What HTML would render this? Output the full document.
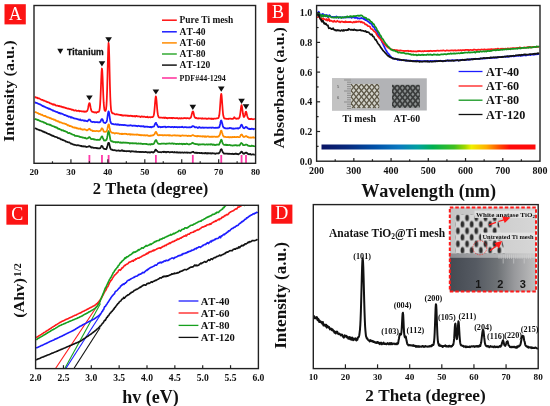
<!DOCTYPE html>
<html><head><meta charset="utf-8"><style>
html,body{margin:0;padding:0;background:#fff;}
svg{display:block;filter:blur(0.3px);} text{font-kerning:none;}
</style></head><body>
<svg width="550" height="406" viewBox="0 0 550 406">
<rect width="550" height="406" fill="#fff"/>
<rect x="4.5" y="4.2" width="21.3" height="20.2" fill="#fc1414"/><text x="15.15" y="19.80" font-family='"Liberation Serif", serif' font-size="18" font-weight="normal" text-anchor="middle" fill="#fff" >A</text>
<polyline points="34.70,128.28 35.05,128.40 35.40,128.48 35.75,128.48 36.10,128.60 36.45,128.74 36.80,128.94 37.15,129.38 37.50,129.46 37.85,129.36 38.20,129.63 38.55,129.89 38.90,129.99 39.25,129.97 39.60,130.10 39.95,130.45 40.30,130.43 40.65,130.43 41.00,130.51 41.35,130.55 41.70,130.70 42.05,130.98 42.40,131.20 42.75,131.41 43.10,131.73 43.45,131.82 43.80,131.63 44.15,131.73 44.50,132.18 44.85,132.41 45.20,132.37 45.55,132.44 45.90,132.66 46.25,132.76 46.60,133.16 46.95,133.30 47.30,133.31 47.65,133.67 48.00,133.75 48.35,133.77 48.70,134.00 49.05,134.17 49.40,134.14 49.75,134.29 50.10,134.76 50.45,134.70 50.80,134.78 51.15,135.14 51.50,135.10 51.85,135.48 52.20,135.80 52.55,135.54 52.90,135.60 53.25,135.97 53.60,136.08 53.95,136.24 54.30,136.41 54.65,136.55 55.00,136.89 55.35,136.87 55.70,136.87 56.05,137.05 56.40,137.19 56.75,137.25 57.10,137.31 57.45,137.58 57.80,137.92 58.15,138.24 58.50,138.11 58.85,138.02 59.20,138.42 59.55,138.42 59.90,138.43 60.25,138.82 60.60,139.18 60.95,139.43 61.30,139.38 61.65,139.40 62.00,139.56 62.35,139.95 62.70,140.08 63.05,140.00 63.40,140.25 63.75,140.42 64.10,140.50 64.45,140.53 64.80,140.70 65.15,140.94 65.50,141.23 65.85,141.52 66.20,141.52 66.55,141.67 66.90,141.79 67.25,141.98 67.60,142.18 67.95,142.27 68.30,142.26 68.65,142.38 69.00,142.48 69.35,142.33 69.70,142.66 70.05,142.95 70.40,143.16 70.75,143.70 71.10,143.73 71.45,143.52 71.80,143.80 72.15,144.09 72.50,144.19 72.85,144.25 73.20,144.51 73.55,144.74 73.90,144.64 74.25,144.67 74.60,144.89 74.95,144.83 75.30,144.92 75.65,145.00 76.00,145.15 76.35,145.34 76.70,145.29 77.05,145.25 77.40,145.28 77.75,145.16 78.10,145.10 78.45,145.45 78.80,145.38 79.15,145.50 79.50,145.61 79.85,145.66 80.20,145.83 80.55,145.89 80.90,146.07 81.25,145.84 81.60,146.04 81.95,146.47 82.30,146.37 82.65,146.21 83.00,146.26 83.35,146.23 83.70,146.44 84.05,146.55 84.40,146.47 84.75,146.49 85.10,146.48 85.45,146.48 85.80,146.77 86.15,146.96 86.50,146.97 86.85,147.02 87.20,146.82 87.55,146.75 87.90,146.67 88.25,146.57 88.60,146.43 88.95,146.25 89.30,146.07 89.65,146.08 90.00,146.64 90.35,146.91 90.70,146.82 91.05,147.15 91.40,147.61 91.75,147.49 92.10,147.37 92.45,147.53 92.80,147.38 93.15,147.60 93.50,147.86 93.85,147.82 94.20,147.78 94.55,147.87 94.90,147.94 95.25,147.91 95.60,147.88 95.95,147.78 96.30,148.13 96.65,148.26 97.00,148.17 97.35,148.27 97.70,148.21 98.05,148.19 98.40,148.35 98.75,148.40 99.10,148.31 99.45,148.33 99.80,148.39 100.15,148.25 100.50,147.78 100.85,147.09 101.20,146.28 101.55,145.97 101.90,146.06 102.25,146.09 102.60,146.53 102.95,147.31 103.30,147.98 103.65,148.51 104.00,148.69 104.35,148.97 104.70,148.99 105.05,148.97 105.40,149.21 105.75,149.19 106.10,149.25 106.45,149.04 106.80,148.10 107.15,146.77 107.50,145.73 107.85,144.38 108.20,143.08 108.55,142.79 108.90,142.93 109.25,143.68 109.60,145.41 109.95,147.14 110.30,148.22 110.65,148.99 111.00,149.37 111.35,149.43 111.70,149.66 112.05,149.82 112.40,149.71 112.75,149.96 113.10,150.22 113.45,150.26 113.80,150.20 114.15,150.12 114.50,150.16 114.85,150.18 115.20,150.36 115.55,150.41 115.90,150.45 116.25,150.61 116.60,150.84 116.95,150.65 117.30,150.53 117.65,150.71 118.00,150.62 118.35,150.47 118.70,150.44 119.05,150.73 119.40,150.80 119.75,150.74 120.10,150.73 120.45,150.88 120.80,150.94 121.15,150.54 121.50,150.47 121.85,150.52 122.20,150.22 122.55,150.42 122.90,151.02 123.25,151.11 123.60,150.81 123.95,150.71 124.30,151.02 124.65,151.17 125.00,151.06 125.35,151.05 125.70,151.07 126.05,151.20 126.40,151.28 126.75,151.22 127.10,151.04 127.45,151.10 127.80,151.16 128.15,151.26 128.50,151.20 128.85,151.07 129.20,151.24 129.55,151.12 129.90,151.35 130.25,151.72 130.60,151.46 130.95,151.40 131.30,151.52 131.65,151.12 132.00,151.12 132.35,151.46 132.70,151.46 133.05,151.35 133.40,151.32 133.75,151.46 134.10,151.66 134.45,151.74 134.80,151.61 135.15,151.78 135.50,151.73 135.85,151.51 136.20,151.37 136.55,151.63 136.90,152.00 137.25,151.94 137.60,151.92 137.95,151.84 138.30,151.80 138.65,151.77 139.00,151.74 139.35,151.80 139.70,152.03 140.05,152.11 140.40,151.93 140.75,151.81 141.10,151.76 141.45,152.05 141.80,152.21 142.15,152.04 142.50,151.95 142.85,151.82 143.20,151.88 143.55,152.14 143.90,152.12 144.25,152.00 144.60,152.04 144.95,152.10 145.30,151.95 145.65,151.93 146.00,152.04 146.35,152.19 146.70,152.22 147.05,152.20 147.40,152.51 147.75,152.42 148.10,152.17 148.45,152.25 148.80,152.34 149.15,152.21 149.50,152.28 149.85,152.67 150.20,152.58 150.55,152.30 150.90,152.19 151.25,152.24 151.60,152.20 151.95,152.01 152.30,152.31 152.65,152.31 153.00,152.25 153.35,152.49 153.70,152.26 154.05,151.92 154.40,151.78 154.75,151.21 155.10,150.35 155.45,149.74 155.80,149.59 156.15,150.02 156.50,150.49 156.85,150.69 157.20,150.96 157.55,151.41 157.90,151.82 158.25,152.00 158.60,152.06 158.95,152.15 159.30,152.09 159.65,152.05 160.00,152.11 160.35,152.10 160.70,152.14 161.05,152.37 161.40,152.38 161.75,152.14 162.10,151.85 162.45,151.89 162.80,151.85 163.15,151.61 163.50,151.96 163.85,152.21 164.20,152.08 164.55,151.77 164.90,151.74 165.25,151.87 165.60,152.01 165.95,152.38 166.30,152.34 166.65,151.97 167.00,151.81 167.35,151.91 167.70,152.05 168.05,151.92 168.40,151.97 168.75,151.98 169.10,152.12 169.45,152.41 169.80,152.42 170.15,152.23 170.50,152.17 170.85,152.23 171.20,152.13 171.55,152.11 171.90,152.01 172.25,151.88 172.60,152.16 172.95,152.32 173.30,152.26 173.65,152.42 174.00,152.19 174.35,151.98 174.70,152.23 175.05,152.39 175.40,152.33 175.75,152.42 176.10,152.50 176.45,152.24 176.80,152.10 177.15,152.37 177.50,152.55 177.85,152.23 178.20,152.35 178.55,152.67 178.90,152.68 179.25,152.57 179.60,152.38 179.95,152.29 180.30,152.66 180.65,152.79 181.00,152.68 181.35,152.63 181.70,152.47 182.05,152.35 182.40,152.29 182.75,152.64 183.10,152.54 183.45,152.56 183.80,152.77 184.15,152.52 184.50,152.42 184.85,152.51 185.20,152.57 185.55,152.57 185.90,152.49 186.25,152.53 186.60,152.51 186.95,152.40 187.30,152.53 187.65,152.81 188.00,152.64 188.35,152.54 188.70,152.66 189.05,152.54 189.40,152.74 189.75,152.80 190.10,152.87 190.45,152.82 190.80,152.63 191.15,152.60 191.50,152.31 191.85,152.22 192.20,152.10 192.55,151.97 192.90,151.96 193.25,151.85 193.60,152.04 193.95,152.40 194.30,152.74 194.65,152.76 195.00,152.73 195.35,152.69 195.70,152.81 196.05,152.91 196.40,152.62 196.75,152.76 197.10,153.14 197.45,152.97 197.80,152.71 198.15,152.82 198.50,152.82 198.85,152.97 199.20,153.03 199.55,152.90 199.90,153.09 200.25,153.09 200.60,153.09 200.95,153.07 201.30,152.88 201.65,152.78 202.00,153.18 202.35,153.38 202.70,153.19 203.05,153.23 203.40,153.23 203.75,153.25 204.10,153.48 204.45,153.36 204.80,152.94 205.15,152.95 205.50,152.99 205.85,153.22 206.20,153.50 206.55,153.30 206.90,153.03 207.25,153.12 207.60,153.48 207.95,153.18 208.30,153.08 208.65,153.31 209.00,153.39 209.35,153.40 209.70,153.24 210.05,153.20 210.40,153.12 210.75,153.50 211.10,153.73 211.45,153.52 211.80,153.32 212.15,153.14 212.50,153.20 212.85,153.44 213.20,153.49 213.55,153.49 213.90,153.36 214.25,153.37 214.60,153.51 214.95,153.68 215.30,153.92 215.65,153.75 216.00,153.42 216.35,153.43 216.70,153.45 217.05,153.37 217.40,153.43 217.75,153.38 218.10,153.44 218.45,153.51 218.80,153.35 219.15,153.11 219.50,152.57 219.85,151.81 220.20,151.00 220.55,150.11 220.90,149.43 221.25,149.22 221.60,149.31 221.95,150.07 222.30,151.02 222.65,151.83 223.00,152.64 223.35,152.89 223.70,153.19 224.05,153.59 224.40,153.63 224.75,153.59 225.10,153.59 225.45,153.54 225.80,153.57 226.15,153.64 226.50,153.69 226.85,153.63 227.20,153.66 227.55,153.83 227.90,153.80 228.25,153.73 228.60,153.83 228.95,153.69 229.30,153.68 229.65,153.93 230.00,153.92 230.35,153.94 230.70,153.83 231.05,153.76 231.40,153.93 231.75,154.02 232.10,153.98 232.45,153.74 232.80,153.79 233.15,154.13 233.50,154.20 233.85,154.09 234.20,153.77 234.55,153.87 234.90,154.05 235.25,153.62 235.60,153.69 235.95,153.83 236.30,153.62 236.65,153.73 237.00,154.06 237.35,154.09 237.70,153.97 238.05,154.23 238.40,154.39 238.75,154.13 239.10,153.85 239.45,153.58 239.80,153.30 240.15,153.15 240.50,152.80 240.85,152.24 241.20,151.90 241.55,151.62 241.90,151.64 242.25,152.24 242.60,152.84 242.95,153.37 243.30,153.71 243.65,153.74 244.00,153.79 244.35,153.61 244.70,153.15 245.05,153.07 245.40,152.98 245.75,152.75 246.10,152.51 246.45,152.59 246.80,153.01 247.15,153.28 247.50,153.36 247.85,153.63 248.20,154.16 248.55,154.32 248.90,154.17 249.25,154.15 249.60,154.34 249.95,154.01 250.30,153.91 250.65,154.33 251.00,154.44 251.35,154.60 251.70,154.66 252.05,154.50 252.40,154.40 252.75,154.47 253.10,154.38 253.45,154.28 253.80,154.47 254.15,154.73 254.50,154.60 254.85,154.35" fill="none" stroke="#151515" stroke-width="1.75" stroke-linejoin="round" />
<polyline points="34.70,118.82 35.05,119.05 35.40,119.14 35.75,119.30 36.10,119.32 36.45,119.26 36.80,119.50 37.15,119.76 37.50,120.06 37.85,119.92 38.20,119.82 38.55,120.19 38.90,120.37 39.25,120.28 39.60,120.63 39.95,121.03 40.30,121.11 40.65,121.13 41.00,121.34 41.35,121.51 41.70,121.66 42.05,121.72 42.40,121.62 42.75,121.90 43.10,122.07 43.45,122.27 43.80,122.53 44.15,122.48 44.50,122.60 44.85,122.81 45.20,123.06 45.55,123.17 45.90,123.14 46.25,123.52 46.60,124.00 46.95,124.24 47.30,124.11 47.65,124.03 48.00,124.36 48.35,124.46 48.70,124.29 49.05,124.46 49.40,124.78 49.75,124.81 50.10,124.69 50.45,124.76 50.80,125.19 51.15,125.42 51.50,125.46 51.85,125.73 52.20,125.96 52.55,126.04 52.90,126.17 53.25,126.24 53.60,126.28 53.95,126.41 54.30,126.74 54.65,127.02 55.00,126.93 55.35,127.04 55.70,127.26 56.05,127.54 56.40,127.52 56.75,127.45 57.10,127.75 57.45,128.35 57.80,128.67 58.15,128.49 58.50,128.61 58.85,129.03 59.20,129.06 59.55,128.91 59.90,129.24 60.25,129.50 60.60,129.58 60.95,129.61 61.30,129.91 61.65,130.34 62.00,130.32 62.35,130.34 62.70,130.17 63.05,130.31 63.40,130.69 63.75,130.82 64.10,131.08 64.45,131.13 64.80,130.99 65.15,131.23 65.50,131.49 65.85,131.56 66.20,131.73 66.55,131.87 66.90,131.81 67.25,132.16 67.60,132.63 67.95,132.76 68.30,133.13 68.65,133.15 69.00,132.82 69.35,132.86 69.70,133.08 70.05,133.28 70.40,133.59 70.75,133.56 71.10,133.74 71.45,133.95 71.80,134.10 72.15,134.42 72.50,134.50 72.85,134.65 73.20,134.77 73.55,134.85 73.90,134.84 74.25,135.03 74.60,135.57 74.95,135.92 75.30,135.95 75.65,135.88 76.00,135.72 76.35,135.90 76.70,136.07 77.05,135.97 77.40,136.04 77.75,136.15 78.10,136.22 78.45,136.29 78.80,136.30 79.15,136.35 79.50,136.87 79.85,136.99 80.20,136.77 80.55,136.94 80.90,137.15 81.25,137.03 81.60,137.01 81.95,137.35 82.30,137.50 82.65,137.49 83.00,137.74 83.35,137.73 83.70,137.64 84.05,137.75 84.40,138.01 84.75,137.92 85.10,137.74 85.45,138.01 85.80,138.26 86.15,138.49 86.50,138.65 86.85,138.42 87.20,138.34 87.55,138.43 87.90,138.10 88.25,137.97 88.60,137.67 88.95,137.11 89.30,137.07 89.65,137.23 90.00,137.45 90.35,138.03 90.70,138.50 91.05,138.94 91.40,139.09 91.75,138.84 92.10,138.86 92.45,139.00 92.80,139.00 93.15,139.21 93.50,139.33 93.85,139.08 94.20,139.29 94.55,139.56 94.90,139.56 95.25,139.63 95.60,139.71 95.95,139.74 96.30,139.86 96.65,139.94 97.00,139.88 97.35,139.91 97.70,139.71 98.05,139.68 98.40,139.85 98.75,139.92 99.10,139.78 99.45,139.90 99.80,139.94 100.15,139.27 100.50,138.53 100.85,137.92 101.20,137.32 101.55,136.59 101.90,136.32 102.25,136.54 102.60,137.24 102.95,138.09 103.30,138.86 103.65,139.74 104.00,140.51 104.35,140.52 104.70,140.28 105.05,140.36 105.40,140.53 105.75,140.44 106.10,140.10 106.45,139.81 106.80,138.93 107.15,137.45 107.50,135.66 107.85,133.45 108.20,131.61 108.55,131.05 108.90,131.73 109.25,133.33 109.60,135.21 109.95,137.23 110.30,139.18 110.65,140.38 111.00,140.91 111.35,141.07 111.70,141.34 112.05,141.50 112.40,141.36 112.75,141.40 113.10,141.80 113.45,141.99 113.80,142.01 114.15,141.98 114.50,142.00 114.85,142.03 115.20,141.93 115.55,142.36 115.90,142.50 116.25,142.15 116.60,142.07 116.95,142.20 117.30,142.39 117.65,142.31 118.00,141.97 118.35,142.02 118.70,142.26 119.05,142.34 119.40,142.52 119.75,142.57 120.10,142.53 120.45,142.38 120.80,142.41 121.15,142.83 121.50,142.84 121.85,142.64 122.20,142.58 122.55,142.80 122.90,142.68 123.25,142.47 123.60,142.67 123.95,142.80 124.30,142.71 124.65,142.67 125.00,142.72 125.35,142.72 125.70,142.76 126.05,142.62 126.40,142.66 126.75,142.93 127.10,142.84 127.45,142.72 127.80,142.95 128.15,142.86 128.50,142.83 128.85,142.85 129.20,142.99 129.55,143.43 129.90,143.57 130.25,143.27 130.60,143.14 130.95,143.20 131.30,143.14 131.65,143.34 132.00,143.19 132.35,143.15 132.70,143.33 133.05,143.40 133.40,143.45 133.75,143.21 134.10,143.24 134.45,143.44 134.80,143.43 135.15,143.42 135.50,143.38 135.85,143.07 136.20,143.27 136.55,143.65 136.90,143.57 137.25,143.52 137.60,143.65 137.95,143.61 138.30,143.41 138.65,143.47 139.00,143.72 139.35,143.60 139.70,143.62 140.05,143.73 140.40,143.47 140.75,143.73 141.10,143.88 141.45,143.58 141.80,143.57 142.15,143.87 142.50,144.08 142.85,143.94 143.20,143.86 143.55,144.02 143.90,143.91 144.25,143.89 144.60,143.99 144.95,143.90 145.30,143.86 145.65,143.96 146.00,144.04 146.35,143.99 146.70,143.95 147.05,144.18 147.40,144.28 147.75,144.27 148.10,144.42 148.45,144.40 148.80,144.56 149.15,144.40 149.50,144.23 149.85,144.30 150.20,144.43 150.55,144.67 150.90,144.18 151.25,143.82 151.60,144.13 151.95,144.32 152.30,144.30 152.65,144.15 153.00,144.06 153.35,144.04 153.70,143.78 154.05,143.47 154.40,142.63 154.75,141.82 155.10,141.11 155.45,140.41 155.80,140.13 156.15,140.02 156.50,140.67 156.85,141.47 157.20,142.11 157.55,142.65 157.90,143.18 158.25,143.66 158.60,143.90 158.95,143.87 159.30,143.89 159.65,143.91 160.00,143.76 160.35,143.82 160.70,143.95 161.05,143.83 161.40,143.66 161.75,143.67 162.10,143.69 162.45,143.59 162.80,143.69 163.15,143.74 163.50,143.65 163.85,143.59 164.20,143.56 164.55,143.70 164.90,143.60 165.25,143.80 165.60,143.90 165.95,143.87 166.30,143.96 166.65,143.66 167.00,143.50 167.35,143.65 167.70,143.71 168.05,143.67 168.40,143.63 168.75,143.41 169.10,143.42 169.45,143.38 169.80,143.46 170.15,143.66 170.50,143.53 170.85,143.60 171.20,143.73 171.55,143.59 171.90,143.34 172.25,143.40 172.60,143.37 172.95,143.39 173.30,143.85 173.65,143.84 174.00,143.73 174.35,143.70 174.70,143.67 175.05,143.80 175.40,143.77 175.75,143.89 176.10,144.12 176.45,144.08 176.80,143.88 177.15,143.75 177.50,143.81 177.85,143.91 178.20,143.95 178.55,143.98 178.90,144.10 179.25,143.87 179.60,143.62 179.95,143.98 180.30,143.99 180.65,143.78 181.00,143.80 181.35,143.74 181.70,143.79 182.05,144.28 182.40,144.41 182.75,143.97 183.10,143.73 183.45,143.82 183.80,144.07 184.15,144.02 184.50,143.82 184.85,144.04 185.20,144.24 185.55,144.09 185.90,143.85 186.25,143.71 186.60,143.77 186.95,143.69 187.30,143.87 187.65,144.08 188.00,144.05 188.35,144.37 188.70,144.46 189.05,144.09 189.40,144.05 189.75,144.34 190.10,144.13 190.45,143.83 190.80,143.84 191.15,143.64 191.50,143.65 191.85,143.31 192.20,142.75 192.55,142.85 192.90,142.93 193.25,143.11 193.60,143.39 193.95,143.61 194.30,143.95 194.65,143.88 195.00,143.84 195.35,144.08 195.70,144.13 196.05,144.27 196.40,144.15 196.75,144.06 197.10,144.28 197.45,144.41 197.80,144.24 198.15,144.46 198.50,144.84 198.85,144.41 199.20,144.17 199.55,144.67 199.90,144.74 200.25,144.46 200.60,144.35 200.95,144.26 201.30,144.27 201.65,144.27 202.00,144.40 202.35,144.43 202.70,144.29 203.05,144.19 203.40,144.25 203.75,144.30 204.10,144.29 204.45,144.54 204.80,144.61 205.15,144.55 205.50,144.56 205.85,144.51 206.20,144.46 206.55,144.42 206.90,144.54 207.25,144.45 207.60,144.53 207.95,144.67 208.30,144.42 208.65,144.36 209.00,144.38 209.35,144.47 209.70,144.47 210.05,144.60 210.40,144.60 210.75,144.17 211.10,144.19 211.45,144.23 211.80,144.32 212.15,144.71 212.50,144.81 212.85,144.52 213.20,144.35 213.55,144.75 213.90,144.90 214.25,144.69 214.60,144.79 214.95,145.10 215.30,145.14 215.65,144.86 216.00,144.75 216.35,144.81 216.70,144.70 217.05,144.49 217.40,144.57 217.75,144.58 218.10,144.54 218.45,144.62 218.80,144.80 219.15,144.43 219.50,143.66 219.85,143.01 220.20,142.11 220.55,141.23 220.90,140.30 221.25,139.76 221.60,139.94 221.95,140.76 222.30,142.09 222.65,143.21 223.00,143.78 223.35,144.21 223.70,144.62 224.05,144.88 224.40,144.88 224.75,144.83 225.10,144.70 225.45,144.62 225.80,145.07 226.15,144.96 226.50,144.73 226.85,145.05 227.20,145.06 227.55,144.95 227.90,145.01 228.25,145.12 228.60,145.13 228.95,144.91 229.30,144.92 229.65,145.06 230.00,145.02 230.35,145.17 230.70,145.33 231.05,145.43 231.40,145.30 231.75,145.32 232.10,145.54 232.45,145.58 232.80,145.62 233.15,145.47 233.50,145.28 233.85,145.42 234.20,145.28 234.55,145.21 234.90,145.33 235.25,145.27 235.60,145.13 235.95,145.07 236.30,145.30 236.65,145.53 237.00,145.66 237.35,145.55 237.70,145.41 238.05,145.31 238.40,145.38 238.75,145.44 239.10,145.41 239.45,145.54 239.80,145.24 240.15,144.48 240.50,143.90 240.85,143.39 241.20,142.94 241.55,143.12 241.90,143.45 242.25,143.51 242.60,144.09 242.95,144.94 243.30,145.18 243.65,145.14 244.00,145.20 244.35,145.23 244.70,145.15 245.05,144.99 245.40,144.77 245.75,144.58 246.10,144.58 246.45,144.68 246.80,144.61 247.15,144.84 247.50,145.36 247.85,145.55 248.20,145.76 248.55,145.84 248.90,145.66 249.25,145.91 249.60,146.13 249.95,146.00 250.30,146.05 250.65,146.17 251.00,146.11 251.35,145.68 251.70,145.57 252.05,145.83 252.40,145.81 252.75,145.91 253.10,146.19 253.45,146.12 253.80,145.84 254.15,146.17 254.50,146.26 254.85,145.87" fill="none" stroke="#1e9a1e" stroke-width="1.75" stroke-linejoin="round" />
<polyline points="34.70,112.03 35.05,112.14 35.40,112.13 35.75,112.32 36.10,112.49 36.45,112.41 36.80,112.64 37.15,112.99 37.50,113.03 37.85,113.12 38.20,113.33 38.55,113.78 38.90,113.85 39.25,113.81 39.60,114.03 39.95,113.99 40.30,114.22 40.65,114.49 41.00,114.70 41.35,114.77 41.70,114.68 42.05,114.72 42.40,115.00 42.75,115.28 43.10,115.53 43.45,115.65 43.80,115.75 44.15,116.03 44.50,116.06 44.85,115.83 45.20,115.80 45.55,115.95 45.90,116.44 46.25,116.65 46.60,116.75 46.95,117.07 47.30,117.27 47.65,117.47 48.00,117.38 48.35,117.37 48.70,117.54 49.05,117.73 49.40,117.79 49.75,117.91 50.10,118.32 50.45,118.25 50.80,118.22 51.15,118.46 51.50,118.60 51.85,118.96 52.20,119.07 52.55,119.20 52.90,119.15 53.25,119.33 53.60,119.60 53.95,119.68 54.30,119.92 54.65,119.65 55.00,119.68 55.35,120.16 55.70,120.59 56.05,120.74 56.40,120.71 56.75,120.64 57.10,120.92 57.45,121.47 57.80,121.43 58.15,121.31 58.50,121.25 58.85,121.52 59.20,122.20 59.55,122.32 59.90,122.28 60.25,122.39 60.60,122.25 60.95,122.49 61.30,122.59 61.65,122.54 62.00,122.87 62.35,123.14 62.70,123.30 63.05,123.37 63.40,123.36 63.75,123.29 64.10,123.53 64.45,123.74 64.80,123.71 65.15,123.78 65.50,124.02 65.85,124.08 66.20,124.12 66.55,124.28 66.90,124.61 67.25,125.00 67.60,125.37 67.95,125.27 68.30,125.07 68.65,125.51 69.00,125.71 69.35,125.69 69.70,126.07 70.05,126.21 70.40,125.99 70.75,126.00 71.10,126.33 71.45,126.67 71.80,126.59 72.15,126.57 72.50,126.95 72.85,127.28 73.20,127.27 73.55,127.40 73.90,127.67 74.25,127.47 74.60,127.45 74.95,127.80 75.30,127.83 75.65,127.58 76.00,127.69 76.35,128.12 76.70,128.42 77.05,128.13 77.40,128.33 77.75,128.53 78.10,128.39 78.45,128.76 78.80,128.83 79.15,128.76 79.50,128.56 79.85,128.69 80.20,128.82 80.55,128.49 80.90,129.01 81.25,129.48 81.60,129.42 81.95,129.29 82.30,129.31 82.65,129.70 83.00,129.78 83.35,129.64 83.70,129.37 84.05,129.41 84.40,129.36 84.75,129.23 85.10,129.59 85.45,129.74 85.80,129.78 86.15,129.95 86.50,130.26 86.85,130.46 87.20,130.20 87.55,130.12 87.90,129.86 88.25,129.43 88.60,129.36 88.95,129.01 89.30,128.75 89.65,128.82 90.00,129.12 90.35,129.83 90.70,130.06 91.05,130.17 91.40,130.36 91.75,130.32 92.10,130.36 92.45,130.74 92.80,131.24 93.15,131.16 93.50,130.82 93.85,130.88 94.20,130.97 94.55,131.02 94.90,131.13 95.25,131.11 95.60,131.18 95.95,131.11 96.30,131.02 96.65,130.91 97.00,130.94 97.35,131.00 97.70,131.07 98.05,131.16 98.40,131.21 98.75,131.40 99.10,131.21 99.45,131.01 99.80,130.93 100.15,130.86 100.50,130.73 100.85,130.12 101.20,129.15 101.55,128.64 101.90,128.24 102.25,128.43 102.60,129.10 102.95,129.32 103.30,130.47 103.65,131.59 104.00,131.52 104.35,131.57 104.70,131.79 105.05,131.85 105.40,131.70 105.75,131.57 106.10,131.67 106.45,131.44 106.80,130.88 107.15,129.78 107.50,128.44 107.85,126.69 108.20,125.06 108.55,124.29 108.90,124.49 109.25,126.15 109.60,127.89 109.95,129.44 110.30,130.85 110.65,131.52 111.00,131.99 111.35,132.34 111.70,132.47 112.05,132.72 112.40,132.94 112.75,132.83 113.10,132.69 113.45,132.85 113.80,133.00 114.15,133.14 114.50,133.53 114.85,133.55 115.20,133.25 115.55,133.16 115.90,133.08 116.25,133.02 116.60,133.03 116.95,133.12 117.30,133.22 117.65,133.39 118.00,133.42 118.35,133.33 118.70,133.26 119.05,133.52 119.40,133.76 119.75,133.80 120.10,133.86 120.45,133.85 120.80,133.75 121.15,133.68 121.50,134.07 121.85,133.86 122.20,133.69 122.55,134.08 122.90,134.01 123.25,133.92 123.60,134.06 123.95,133.90 124.30,133.82 124.65,133.82 125.00,133.70 125.35,133.76 125.70,133.85 126.05,133.98 126.40,134.08 126.75,133.90 127.10,134.13 127.45,134.48 127.80,134.34 128.15,134.18 128.50,134.10 128.85,134.24 129.20,134.33 129.55,134.07 129.90,134.14 130.25,134.75 130.60,134.44 130.95,134.22 131.30,134.53 131.65,134.41 132.00,134.57 132.35,134.46 132.70,134.33 133.05,134.69 133.40,134.67 133.75,134.45 134.10,134.52 134.45,134.54 134.80,134.75 135.15,134.71 135.50,134.65 135.85,134.63 136.20,134.63 136.55,134.80 136.90,134.41 137.25,134.45 137.60,134.67 137.95,134.64 138.30,135.00 138.65,134.94 139.00,134.63 139.35,134.98 139.70,135.16 140.05,135.19 140.40,135.25 140.75,134.96 141.10,134.93 141.45,135.23 141.80,135.38 142.15,135.25 142.50,135.16 142.85,135.17 143.20,135.12 143.55,135.40 143.90,135.50 144.25,135.13 144.60,135.10 144.95,135.36 145.30,135.53 145.65,135.44 146.00,135.30 146.35,135.34 146.70,135.24 147.05,135.09 147.40,135.43 147.75,135.56 148.10,135.53 148.45,135.77 148.80,135.83 149.15,135.70 149.50,135.91 149.85,136.00 150.20,135.69 150.55,135.69 150.90,135.77 151.25,135.55 151.60,135.49 151.95,135.56 152.30,135.27 152.65,135.24 153.00,135.41 153.35,135.28 153.70,134.94 154.05,134.64 154.40,134.36 154.75,133.75 155.10,132.86 155.45,132.28 155.80,131.94 156.15,131.94 156.50,132.77 156.85,133.41 157.20,133.88 157.55,134.66 157.90,135.04 158.25,135.07 158.60,135.24 158.95,135.46 159.30,135.16 159.65,134.92 160.00,135.07 160.35,135.04 160.70,135.05 161.05,135.08 161.40,135.22 161.75,135.20 162.10,135.17 162.45,135.33 162.80,135.21 163.15,135.16 163.50,135.46 163.85,135.47 164.20,135.17 164.55,135.11 164.90,135.07 165.25,135.12 165.60,135.35 165.95,135.22 166.30,135.10 166.65,135.36 167.00,135.33 167.35,135.22 167.70,135.17 168.05,135.05 168.40,135.13 168.75,135.52 169.10,135.54 169.45,135.22 169.80,135.21 170.15,135.27 170.50,135.43 170.85,135.48 171.20,135.67 171.55,135.69 171.90,135.62 172.25,135.64 172.60,135.55 172.95,135.34 173.30,135.26 173.65,135.45 174.00,135.44 174.35,135.19 174.70,135.34 175.05,135.58 175.40,135.42 175.75,135.45 176.10,135.49 176.45,135.58 176.80,135.46 177.15,135.31 177.50,135.51 177.85,135.66 178.20,135.59 178.55,135.51 178.90,135.46 179.25,135.54 179.60,135.80 179.95,135.69 180.30,135.74 180.65,135.99 181.00,135.75 181.35,135.76 181.70,135.64 182.05,135.34 182.40,135.37 182.75,135.55 183.10,135.68 183.45,135.68 183.80,135.74 184.15,135.55 184.50,135.61 184.85,135.71 185.20,135.57 185.55,135.71 185.90,135.66 186.25,135.55 186.60,135.58 186.95,135.76 187.30,135.97 187.65,136.05 188.00,135.86 188.35,135.70 188.70,135.72 189.05,135.88 189.40,135.75 189.75,135.85 190.10,136.04 190.45,135.76 190.80,135.80 191.15,135.90 191.50,135.72 191.85,135.49 192.20,135.23 192.55,135.09 192.90,135.20 193.25,135.16 193.60,135.41 193.95,135.71 194.30,135.77 194.65,135.81 195.00,135.88 195.35,136.15 195.70,136.06 196.05,136.07 196.40,136.30 196.75,136.27 197.10,135.96 197.45,135.93 197.80,136.30 198.15,136.23 198.50,136.17 198.85,135.98 199.20,136.06 199.55,136.29 199.90,136.33 200.25,136.19 200.60,136.18 200.95,136.39 201.30,136.42 201.65,136.34 202.00,136.18 202.35,136.58 202.70,136.57 203.05,136.21 203.40,136.29 203.75,136.26 204.10,136.46 204.45,136.81 204.80,136.59 205.15,136.17 205.50,136.41 205.85,136.78 206.20,136.74 206.55,136.76 206.90,136.56 207.25,136.41 207.60,136.35 207.95,136.21 208.30,136.51 208.65,136.62 209.00,136.79 209.35,136.89 209.70,136.54 210.05,136.64 210.40,136.96 210.75,136.93 211.10,136.56 211.45,136.55 211.80,136.89 212.15,136.79 212.50,136.53 212.85,136.72 213.20,136.84 213.55,136.58 213.90,136.52 214.25,136.57 214.60,136.65 214.95,136.77 215.30,136.87 215.65,136.95 216.00,136.61 216.35,136.57 216.70,136.88 217.05,136.88 217.40,136.89 217.75,136.75 218.10,136.47 218.45,136.58 218.80,136.42 219.15,135.72 219.50,135.42 219.85,134.71 220.20,133.38 220.55,132.04 220.90,130.93 221.25,130.58 221.60,131.08 221.95,132.27 222.30,133.29 222.65,134.53 223.00,135.57 223.35,135.93 223.70,136.49 224.05,136.78 224.40,136.58 224.75,136.87 225.10,136.98 225.45,136.81 225.80,136.96 226.15,137.12 226.50,137.06 226.85,137.02 227.20,137.00 227.55,137.02 227.90,137.03 228.25,136.86 228.60,137.20 228.95,137.29 229.30,137.08 229.65,137.33 230.00,137.37 230.35,137.00 230.70,137.05 231.05,137.01 231.40,137.07 231.75,137.38 232.10,137.17 232.45,136.95 232.80,137.05 233.15,137.14 233.50,137.00 233.85,137.08 234.20,136.95 234.55,136.83 234.90,137.04 235.25,137.07 235.60,137.16 235.95,137.05 236.30,137.08 236.65,137.22 237.00,137.07 237.35,136.92 237.70,136.85 238.05,137.06 238.40,137.08 238.75,137.01 239.10,137.19 239.45,137.17 239.80,136.96 240.15,136.36 240.50,135.45 240.85,134.99 241.20,134.66 241.55,134.47 241.90,134.61 242.25,135.11 242.60,135.84 242.95,136.37 243.30,136.77 243.65,136.98 244.00,137.02 244.35,136.92 244.70,136.82 245.05,136.45 245.40,136.25 245.75,136.11 246.10,135.99 246.45,136.15 246.80,136.28 247.15,136.88 247.50,137.16 247.85,136.95 248.20,137.03 248.55,137.23 248.90,137.63 249.25,137.72 249.60,137.58 249.95,137.45 250.30,137.38 250.65,137.60 251.00,137.80 251.35,137.64 251.70,137.50 252.05,137.63 252.40,137.44 252.75,137.40 253.10,137.51 253.45,137.23 253.80,137.34 254.15,137.71 254.50,137.59 254.85,137.36" fill="none" stroke="#ff8c00" stroke-width="1.75" stroke-linejoin="round" />
<polyline points="34.70,102.49 35.05,102.44 35.40,102.51 35.75,102.82 36.10,102.79 36.45,102.87 36.80,103.07 37.15,103.13 37.50,103.31 37.85,103.48 38.20,103.79 38.55,103.97 38.90,103.97 39.25,104.09 39.60,104.31 39.95,104.40 40.30,104.45 40.65,104.72 41.00,104.88 41.35,105.03 41.70,105.19 42.05,105.62 42.40,106.02 42.75,105.99 43.10,105.98 43.45,106.36 43.80,106.57 44.15,106.45 44.50,106.61 44.85,106.82 45.20,107.12 45.55,107.24 45.90,107.49 46.25,107.55 46.60,107.53 46.95,107.68 47.30,107.98 47.65,108.23 48.00,108.16 48.35,108.48 48.70,108.81 49.05,108.71 49.40,108.68 49.75,108.80 50.10,109.03 50.45,109.35 50.80,109.45 51.15,109.54 51.50,109.70 51.85,109.86 52.20,110.13 52.55,110.58 52.90,110.43 53.25,110.39 53.60,110.74 53.95,110.97 54.30,111.04 54.65,111.10 55.00,111.22 55.35,111.45 55.70,111.73 56.05,111.75 56.40,111.91 56.75,112.03 57.10,111.92 57.45,112.15 57.80,112.51 58.15,112.55 58.50,112.77 58.85,113.07 59.20,112.94 59.55,112.82 59.90,113.28 60.25,113.68 60.60,113.52 60.95,113.33 61.30,113.47 61.65,113.68 62.00,113.70 62.35,113.89 62.70,114.06 63.05,114.03 63.40,114.44 63.75,114.63 64.10,114.64 64.45,114.93 64.80,115.17 65.15,115.18 65.50,115.21 65.85,115.28 66.20,115.62 66.55,115.94 66.90,115.71 67.25,115.76 67.60,116.12 67.95,116.31 68.30,116.57 68.65,116.82 69.00,116.65 69.35,116.60 69.70,116.63 70.05,116.80 70.40,117.11 70.75,117.55 71.10,117.67 71.45,117.20 71.80,117.23 72.15,117.64 72.50,117.70 72.85,117.70 73.20,117.94 73.55,118.22 73.90,118.35 74.25,118.30 74.60,118.51 74.95,118.63 75.30,118.55 75.65,118.52 76.00,118.57 76.35,118.90 76.70,118.87 77.05,118.86 77.40,119.23 77.75,119.27 78.10,119.29 78.45,119.27 78.80,119.48 79.15,119.84 79.50,119.78 79.85,119.50 80.20,119.42 80.55,119.84 80.90,120.26 81.25,120.25 81.60,120.27 81.95,120.23 82.30,120.13 82.65,120.28 83.00,120.44 83.35,120.32 83.70,120.46 84.05,120.89 84.40,120.71 84.75,120.45 85.10,120.71 85.45,120.87 85.80,120.60 86.15,120.85 86.50,121.22 86.85,121.08 87.20,121.29 87.55,121.26 87.90,120.67 88.25,120.34 88.60,119.92 88.95,119.48 89.30,119.50 89.65,119.62 90.00,119.83 90.35,120.56 90.70,121.17 91.05,121.43 91.40,121.64 91.75,121.77 92.10,121.99 92.45,121.99 92.80,122.10 93.15,122.02 93.50,121.80 93.85,121.79 94.20,121.82 94.55,122.10 94.90,122.36 95.25,122.25 95.60,122.10 95.95,122.18 96.30,122.12 96.65,122.05 97.00,122.18 97.35,122.15 97.70,122.18 98.05,122.43 98.40,122.35 98.75,122.24 99.10,122.14 99.45,122.44 99.80,122.29 100.15,121.94 100.50,121.65 100.85,120.69 101.20,119.66 101.55,119.16 101.90,119.22 102.25,119.17 102.60,119.56 102.95,120.66 103.30,121.57 103.65,122.34 104.00,122.66 104.35,122.73 104.70,122.77 105.05,123.02 105.40,123.08 105.75,122.45 106.10,122.28 106.45,121.99 106.80,121.20 107.15,119.46 107.50,116.88 107.85,114.40 108.20,112.43 108.55,111.37 108.90,111.89 109.25,113.91 109.60,116.37 109.95,118.87 110.30,120.93 110.65,122.13 111.00,123.06 111.35,123.41 111.70,123.62 112.05,124.04 112.40,123.98 112.75,123.84 113.10,123.88 113.45,124.10 113.80,124.28 114.15,124.31 114.50,124.39 114.85,124.33 115.20,124.28 115.55,124.19 115.90,124.29 116.25,124.54 116.60,124.42 116.95,124.58 117.30,124.75 117.65,124.28 118.00,124.23 118.35,124.43 118.70,124.58 119.05,125.10 119.40,124.93 119.75,124.66 120.10,124.72 120.45,124.78 120.80,124.92 121.15,125.07 121.50,124.89 121.85,124.96 122.20,124.99 122.55,124.85 122.90,125.14 123.25,125.22 123.60,124.99 123.95,124.84 124.30,124.93 124.65,125.03 125.00,125.26 125.35,125.13 125.70,125.07 126.05,125.34 126.40,125.38 126.75,125.38 127.10,125.53 127.45,125.56 127.80,125.50 128.15,125.54 128.50,125.68 128.85,125.40 129.20,125.36 129.55,125.60 129.90,125.43 130.25,125.36 130.60,125.19 130.95,125.29 131.30,125.47 131.65,125.60 132.00,125.53 132.35,125.67 132.70,125.92 133.05,125.73 133.40,125.64 133.75,125.60 134.10,125.57 134.45,125.63 134.80,125.79 135.15,125.87 135.50,125.71 135.85,125.73 136.20,125.82 136.55,125.90 136.90,126.27 137.25,126.35 137.60,126.11 137.95,125.85 138.30,125.74 138.65,125.76 139.00,126.05 139.35,126.19 139.70,126.14 140.05,126.18 140.40,126.21 140.75,126.49 141.10,126.42 141.45,126.23 141.80,126.24 142.15,126.41 142.50,126.41 142.85,126.19 143.20,126.17 143.55,126.16 143.90,126.42 144.25,126.94 144.60,126.78 144.95,126.60 145.30,126.79 145.65,126.55 146.00,126.51 146.35,126.65 146.70,126.62 147.05,126.92 147.40,126.79 147.75,126.62 148.10,126.92 148.45,126.83 148.80,126.83 149.15,127.04 149.50,127.06 149.85,127.01 150.20,127.09 150.55,126.78 150.90,126.88 151.25,127.41 151.60,127.33 151.95,127.16 152.30,126.85 152.65,126.68 153.00,126.71 153.35,126.56 153.70,126.60 154.05,126.23 154.40,125.55 154.75,124.65 155.10,123.80 155.45,123.33 155.80,122.89 156.15,122.93 156.50,123.84 156.85,124.59 157.20,125.04 157.55,125.73 157.90,126.44 158.25,127.05 158.60,127.06 158.95,126.77 159.30,126.70 159.65,126.94 160.00,126.89 160.35,126.94 160.70,127.24 161.05,127.07 161.40,126.97 161.75,127.06 162.10,127.17 162.45,126.95 162.80,126.90 163.15,126.99 163.50,126.74 163.85,126.80 164.20,126.87 164.55,126.74 164.90,126.56 165.25,126.57 165.60,126.96 165.95,127.33 166.30,127.24 166.65,127.15 167.00,127.01 167.35,126.86 167.70,126.97 168.05,126.85 168.40,126.70 168.75,126.85 169.10,126.94 169.45,126.80 169.80,126.90 170.15,127.00 170.50,127.09 170.85,127.13 171.20,126.97 171.55,127.00 171.90,127.02 172.25,126.93 172.60,126.90 172.95,127.09 173.30,127.23 173.65,127.30 174.00,127.01 174.35,126.81 174.70,126.98 175.05,127.05 175.40,127.06 175.75,126.98 176.10,127.14 176.45,127.23 176.80,127.00 177.15,127.15 177.50,127.42 177.85,127.19 178.20,127.18 178.55,127.16 178.90,127.21 179.25,127.28 179.60,127.04 179.95,127.03 180.30,127.04 180.65,127.12 181.00,127.24 181.35,127.23 181.70,127.15 182.05,126.69 182.40,126.78 182.75,127.01 183.10,127.03 183.45,127.42 183.80,127.43 184.15,127.24 184.50,127.19 184.85,127.23 185.20,127.19 185.55,127.14 185.90,127.10 186.25,127.33 186.60,127.44 186.95,127.42 187.30,127.40 187.65,127.29 188.00,127.31 188.35,127.36 188.70,127.49 189.05,127.46 189.40,127.27 189.75,127.14 190.10,127.42 190.45,127.44 190.80,127.11 191.15,127.17 191.50,127.11 191.85,126.69 192.20,126.20 192.55,126.22 192.90,126.28 193.25,126.20 193.60,126.41 193.95,126.49 194.30,126.63 194.65,127.06 195.00,127.41 195.35,127.41 195.70,127.25 196.05,127.12 196.40,127.24 196.75,127.25 197.10,127.42 197.45,127.75 197.80,128.00 198.15,127.98 198.50,127.56 198.85,127.35 199.20,127.00 199.55,127.04 199.90,127.46 200.25,127.66 200.60,127.76 200.95,127.72 201.30,127.68 201.65,127.70 202.00,127.86 202.35,127.65 202.70,127.42 203.05,127.38 203.40,127.65 203.75,127.99 204.10,127.89 204.45,127.59 204.80,127.52 205.15,127.65 205.50,127.64 205.85,127.65 206.20,127.72 206.55,127.70 206.90,127.74 207.25,127.83 207.60,127.69 207.95,127.65 208.30,127.64 208.65,127.76 209.00,127.79 209.35,127.73 209.70,127.72 210.05,127.51 210.40,127.67 210.75,127.73 211.10,127.71 211.45,127.90 211.80,127.61 212.15,127.45 212.50,127.60 212.85,127.62 213.20,127.55 213.55,127.75 213.90,127.88 214.25,127.84 214.60,127.82 214.95,127.81 215.30,127.78 215.65,127.74 216.00,127.91 216.35,127.92 216.70,127.79 217.05,127.64 217.40,127.71 217.75,127.87 218.10,127.78 218.45,127.56 218.80,127.47 219.15,127.49 219.50,126.68 219.85,125.31 220.20,123.93 220.55,122.00 220.90,120.74 221.25,120.50 221.60,121.14 221.95,122.44 222.30,123.76 222.65,125.25 223.00,126.50 223.35,127.18 223.70,127.56 224.05,127.67 224.40,127.76 224.75,128.08 225.10,128.40 225.45,128.42 225.80,128.23 226.15,128.32 226.50,128.43 226.85,128.51 227.20,128.53 227.55,128.33 227.90,128.24 228.25,128.29 228.60,128.31 228.95,128.33 229.30,128.20 229.65,127.93 230.00,127.96 230.35,127.98 230.70,128.08 231.05,128.35 231.40,128.14 231.75,128.24 232.10,128.57 232.45,128.50 232.80,128.61 233.15,128.84 233.50,128.50 233.85,128.40 234.20,128.62 234.55,128.55 234.90,128.62 235.25,128.48 235.60,128.30 235.95,128.29 236.30,128.28 236.65,128.38 237.00,128.29 237.35,128.18 237.70,128.43 238.05,128.55 238.40,128.51 238.75,128.24 239.10,128.00 239.45,127.97 239.80,127.71 240.15,127.13 240.50,126.47 240.85,125.70 241.20,124.92 241.55,124.66 241.90,124.99 242.25,125.58 242.60,126.47 242.95,127.37 243.30,127.84 243.65,128.12 244.00,128.27 244.35,128.29 244.70,128.08 245.05,127.62 245.40,127.23 245.75,126.94 246.10,126.96 246.45,127.15 246.80,127.12 247.15,127.73 247.50,128.39 247.85,128.35 248.20,128.49 248.55,128.63 248.90,128.97 249.25,129.18 249.60,128.74 249.95,128.77 250.30,128.93 250.65,129.12 251.00,129.05 251.35,128.54 251.70,128.70 252.05,128.95 252.40,128.90 252.75,128.69 253.10,128.80 253.45,129.29 253.80,129.01 254.15,128.96 254.50,129.14 254.85,129.29" fill="none" stroke="#1c1cff" stroke-width="1.75" stroke-linejoin="round" />
<polyline points="34.70,97.07 35.05,97.08 35.40,97.27 35.75,97.50 36.10,97.43 36.45,97.60 36.80,97.75 37.15,97.58 37.50,98.04 37.85,98.36 38.20,98.17 38.55,98.40 38.90,98.42 39.25,98.35 39.60,98.63 39.95,98.87 40.30,99.09 40.65,99.43 41.00,99.51 41.35,99.57 41.70,99.84 42.05,99.79 42.40,99.88 42.75,100.04 43.10,100.29 43.45,100.61 43.80,100.62 44.15,100.53 44.50,100.69 44.85,100.90 45.20,101.12 45.55,101.34 45.90,101.29 46.25,101.56 46.60,101.90 46.95,101.85 47.30,102.04 47.65,102.22 48.00,102.18 48.35,102.37 48.70,102.46 49.05,102.53 49.40,102.75 49.75,103.14 50.10,103.48 50.45,103.40 50.80,103.56 51.15,103.73 51.50,103.71 51.85,103.97 52.20,104.10 52.55,104.44 52.90,104.57 53.25,104.26 53.60,104.53 53.95,104.75 54.30,104.67 54.65,104.45 55.00,104.71 55.35,105.29 55.70,105.36 56.05,105.48 56.40,105.69 56.75,105.66 57.10,105.66 57.45,105.67 57.80,105.61 58.15,105.93 58.50,106.12 58.85,105.92 59.20,106.01 59.55,106.26 59.90,106.21 60.25,106.38 60.60,106.53 60.95,106.38 61.30,106.39 61.65,106.90 62.00,106.95 62.35,106.85 62.70,107.22 63.05,107.37 63.40,107.23 63.75,107.21 64.10,107.48 64.45,107.72 64.80,107.72 65.15,107.57 65.50,107.87 65.85,108.25 66.20,108.27 66.55,108.15 66.90,108.26 67.25,108.44 67.60,108.59 67.95,108.52 68.30,108.53 68.65,108.76 69.00,108.71 69.35,108.85 69.70,109.09 70.05,109.11 70.40,109.25 70.75,109.22 71.10,109.26 71.45,109.59 71.80,109.73 72.15,109.91 72.50,109.82 72.85,109.59 73.20,109.87 73.55,110.21 73.90,110.52 74.25,110.61 74.60,110.29 74.95,110.36 75.30,110.41 75.65,110.17 76.00,110.64 76.35,110.91 76.70,110.72 77.05,110.79 77.40,110.97 77.75,110.98 78.10,110.95 78.45,110.83 78.80,110.55 79.15,110.90 79.50,111.30 79.85,111.23 80.20,111.11 80.55,111.11 80.90,111.04 81.25,111.25 81.60,111.46 81.95,111.37 82.30,111.37 82.65,111.48 83.00,111.53 83.35,111.53 83.70,111.35 84.05,111.36 84.40,111.81 84.75,111.71 85.10,111.44 85.45,111.64 85.80,111.78 86.15,111.74 86.50,111.36 86.85,111.18 87.20,110.85 87.55,109.94 87.90,108.92 88.25,107.26 88.60,105.32 88.95,104.02 89.30,103.13 89.65,103.11 90.00,104.27 90.35,106.06 90.70,108.02 91.05,109.62 91.40,110.68 91.75,111.30 92.10,111.74 92.45,111.87 92.80,111.81 93.15,111.82 93.50,112.10 93.85,112.32 94.20,112.42 94.55,112.56 94.90,112.41 95.25,112.37 95.60,112.24 95.95,112.44 96.30,112.76 96.65,112.43 97.00,112.11 97.35,112.14 97.70,111.99 98.05,111.76 98.40,111.96 98.75,111.82 99.10,111.18 99.45,110.26 99.80,108.08 100.15,104.10 100.50,97.92 100.85,89.28 101.20,79.96 101.55,72.03 101.90,68.50 102.25,70.46 102.60,77.24 102.95,86.40 103.30,95.20 103.65,102.19 104.00,106.51 104.35,109.21 104.70,110.65 105.05,110.89 105.40,110.90 105.75,110.37 106.10,108.72 106.45,105.60 106.80,99.54 107.15,89.40 107.50,76.08 107.85,61.46 108.20,48.74 108.55,42.78 108.90,45.78 109.25,56.62 109.60,71.66 109.95,86.16 110.30,97.20 110.65,104.57 111.00,109.12 111.35,111.30 111.70,112.10 112.05,112.86 112.40,113.33 112.75,113.40 113.10,113.46 113.45,113.42 113.80,113.50 114.15,113.75 114.50,113.98 114.85,114.18 115.20,114.36 115.55,114.42 115.90,114.45 116.25,114.36 116.60,114.12 116.95,114.24 117.30,114.44 117.65,114.47 118.00,114.60 118.35,114.58 118.70,114.51 119.05,114.70 119.40,114.89 119.75,114.86 120.10,114.95 120.45,115.04 120.80,114.88 121.15,114.95 121.50,115.35 121.85,115.29 122.20,115.24 122.55,115.53 122.90,115.60 123.25,115.36 123.60,115.45 123.95,115.60 124.30,115.35 124.65,115.34 125.00,115.47 125.35,115.54 125.70,115.47 126.05,115.65 126.40,115.61 126.75,115.35 127.10,115.57 127.45,115.82 127.80,115.88 128.15,115.69 128.50,115.72 128.85,115.94 129.20,116.05 129.55,115.86 129.90,115.70 130.25,115.85 130.60,115.65 130.95,115.62 131.30,115.99 131.65,116.05 132.00,115.84 132.35,116.04 132.70,116.28 133.05,116.32 133.40,116.13 133.75,116.02 134.10,116.28 134.45,116.23 134.80,116.03 135.15,116.24 135.50,116.56 135.85,116.34 136.20,115.85 136.55,115.83 136.90,116.06 137.25,116.25 137.60,116.48 137.95,116.50 138.30,116.37 138.65,116.43 139.00,116.42 139.35,116.42 139.70,116.49 140.05,116.86 140.40,117.06 140.75,116.65 141.10,116.45 141.45,116.52 141.80,116.47 142.15,116.45 142.50,116.59 142.85,116.82 143.20,116.88 143.55,116.70 143.90,116.61 144.25,116.58 144.60,116.77 144.95,116.91 145.30,117.08 145.65,117.05 146.00,117.07 146.35,117.20 146.70,117.09 147.05,116.82 147.40,116.68 147.75,117.05 148.10,117.40 148.45,117.35 148.80,117.29 149.15,117.22 149.50,117.09 149.85,117.07 150.20,117.23 150.55,117.35 150.90,117.19 151.25,117.09 151.60,117.16 151.95,117.20 152.30,116.97 152.65,117.04 153.00,116.96 153.35,116.29 153.70,115.50 154.05,113.87 154.40,110.82 154.75,106.84 155.10,102.29 155.45,98.35 155.80,96.32 156.15,97.30 156.50,100.43 156.85,104.69 157.20,109.11 157.55,112.31 157.90,114.65 158.25,116.11 158.60,116.88 158.95,117.40 159.30,117.54 159.65,117.53 160.00,117.49 160.35,117.52 160.70,117.67 161.05,117.57 161.40,117.57 161.75,117.66 162.10,117.73 162.45,117.81 162.80,117.75 163.15,117.64 163.50,117.82 163.85,117.72 164.20,117.57 164.55,118.00 164.90,117.75 165.25,117.49 165.60,117.93 165.95,117.82 166.30,118.07 166.65,117.96 167.00,117.82 167.35,118.35 167.70,118.29 168.05,118.08 168.40,118.02 168.75,117.94 169.10,118.00 169.45,117.98 169.80,117.86 170.15,118.13 170.50,118.03 170.85,117.87 171.20,118.04 171.55,117.92 171.90,118.05 172.25,118.27 172.60,117.94 172.95,117.90 173.30,118.00 173.65,117.93 174.00,118.04 174.35,118.04 174.70,118.16 175.05,118.17 175.40,118.17 175.75,118.26 176.10,118.25 176.45,118.20 176.80,118.03 177.15,117.96 177.50,118.10 177.85,118.37 178.20,118.57 178.55,118.62 178.90,118.39 179.25,118.21 179.60,118.23 179.95,118.26 180.30,118.40 180.65,118.53 181.00,118.25 181.35,118.05 181.70,118.33 182.05,118.46 182.40,118.26 182.75,118.38 183.10,118.36 183.45,118.18 183.80,118.18 184.15,117.97 184.50,118.14 184.85,118.24 185.20,118.06 185.55,118.12 185.90,118.29 186.25,118.37 186.60,118.29 186.95,118.08 187.30,118.07 187.65,118.09 188.00,118.14 188.35,118.36 188.70,118.31 189.05,118.50 189.40,118.55 189.75,118.32 190.10,118.16 190.45,117.84 190.80,117.50 191.15,116.87 191.50,115.41 191.85,113.92 192.20,112.66 192.55,111.60 192.90,111.36 193.25,111.77 193.60,112.90 193.95,114.83 194.30,116.38 194.65,116.97 195.00,117.59 195.35,118.06 195.70,117.95 196.05,117.80 196.40,117.87 196.75,118.22 197.10,118.44 197.45,118.40 197.80,118.46 198.15,118.58 198.50,118.29 198.85,118.19 199.20,118.36 199.55,118.26 199.90,118.30 200.25,118.45 200.60,118.49 200.95,118.33 201.30,118.32 201.65,118.76 202.00,118.69 202.35,118.24 202.70,118.41 203.05,118.70 203.40,118.73 203.75,118.52 204.10,118.60 204.45,118.64 204.80,118.38 205.15,118.41 205.50,118.54 205.85,118.71 206.20,118.81 206.55,118.72 206.90,118.77 207.25,118.79 207.60,118.78 207.95,118.60 208.30,118.30 208.65,118.57 209.00,118.60 209.35,118.47 209.70,118.63 210.05,118.61 210.40,118.57 210.75,118.81 211.10,118.55 211.45,118.49 211.80,119.09 212.15,118.98 212.50,118.69 212.85,118.77 213.20,119.00 213.55,118.75 213.90,118.53 214.25,118.64 214.60,118.69 214.95,118.72 215.30,118.71 215.65,118.62 216.00,118.52 216.35,118.45 216.70,118.33 217.05,118.35 217.40,118.35 217.75,118.13 218.10,118.18 218.45,118.00 218.80,116.97 219.15,115.81 219.50,113.51 219.85,109.72 220.20,104.91 220.55,99.63 220.90,95.51 221.25,93.81 221.60,95.36 221.95,99.81 222.30,104.77 222.65,109.45 223.00,113.52 223.35,115.78 223.70,116.89 224.05,117.96 224.40,118.40 224.75,118.56 225.10,118.77 225.45,118.59 225.80,118.63 226.15,118.75 226.50,118.87 226.85,118.88 227.20,118.77 227.55,118.76 227.90,118.93 228.25,119.03 228.60,118.75 228.95,118.58 229.30,118.75 229.65,118.76 230.00,118.68 230.35,118.65 230.70,118.66 231.05,118.83 231.40,118.98 231.75,118.90 232.10,118.97 232.45,118.85 232.80,118.81 233.15,118.70 233.50,118.12 233.85,117.74 234.20,117.25 234.55,117.38 234.90,117.95 235.25,118.46 235.60,118.49 235.95,118.66 236.30,118.90 236.65,118.79 237.00,118.52 237.35,118.44 237.70,118.69 238.05,118.71 238.40,118.68 238.75,118.29 239.10,118.05 239.45,117.59 239.80,116.29 240.15,114.34 240.50,111.77 240.85,108.80 241.20,106.21 241.55,105.11 241.90,106.22 242.25,108.65 242.60,111.29 242.95,113.77 243.30,115.70 243.65,116.85 244.00,117.10 244.35,116.61 244.70,115.95 245.05,114.72 245.40,113.01 245.75,111.87 246.10,111.71 246.45,112.67 246.80,114.17 247.15,115.55 247.50,116.77 247.85,117.71 248.20,118.15 248.55,118.66 248.90,119.01 249.25,119.24 249.60,119.15 249.95,118.85 250.30,119.08 250.65,119.09 251.00,118.82 251.35,118.75 251.70,118.95 252.05,119.12 252.40,119.11 252.75,119.20 253.10,119.35 253.45,119.27 253.80,119.16 254.15,119.10 254.50,119.17 254.85,119.32" fill="none" stroke="#ff1010" stroke-width="1.75" stroke-linejoin="round" />
<line x1="89.40" y1="155" x2="89.40" y2="163.3" stroke="#ff3aa8" stroke-width="1.8"/>
<line x1="101.96" y1="155" x2="101.96" y2="163.3" stroke="#ff3aa8" stroke-width="1.8"/>
<line x1="108.61" y1="155" x2="108.61" y2="163.3" stroke="#ff3aa8" stroke-width="1.8"/>
<line x1="155.88" y1="155" x2="155.88" y2="163.3" stroke="#ff3aa8" stroke-width="1.8"/>
<line x1="192.81" y1="155" x2="192.81" y2="163.3" stroke="#ff3aa8" stroke-width="1.8"/>
<line x1="221.25" y1="155" x2="221.25" y2="163.3" stroke="#ff3aa8" stroke-width="1.8"/>
<line x1="241.57" y1="155" x2="241.57" y2="163.3" stroke="#ff3aa8" stroke-width="1.8"/>
<line x1="246.00" y1="155" x2="246.00" y2="163.3" stroke="#ff3aa8" stroke-width="1.8"/>
<polygon points="86.10,95.40 92.70,95.40 89.40,100.60" fill="#111"/>
<polygon points="98.66,61.30 105.26,61.30 101.96,66.50" fill="#111"/>
<polygon points="105.31,37.30 111.91,37.30 108.61,42.50" fill="#111"/>
<polygon points="152.58,89.40 159.18,89.40 155.88,94.60" fill="#111"/>
<polygon points="189.51,104.70 196.11,104.70 192.81,109.90" fill="#111"/>
<polygon points="217.95,86.60 224.55,86.60 221.25,91.80" fill="#111"/>
<polygon points="238.27,98.80 244.87,98.80 241.57,104.00" fill="#111"/>
<polygon points="242.70,104.30 249.30,104.30 246.00,109.50" fill="#111"/>
<rect x="34.0" y="5.5" width="221.6" height="157.8" fill="none" stroke="#222" stroke-width="1.4"/>
<line x1="52.47" y1="163.3" x2="52.47" y2="161.3" stroke="#222" stroke-width="1.2"/>
<line x1="70.93" y1="163.3" x2="70.93" y2="159.3" stroke="#222" stroke-width="1.2"/>
<line x1="89.40" y1="163.3" x2="89.40" y2="161.3" stroke="#222" stroke-width="1.2"/>
<line x1="107.87" y1="163.3" x2="107.87" y2="159.3" stroke="#222" stroke-width="1.2"/>
<line x1="126.33" y1="163.3" x2="126.33" y2="161.3" stroke="#222" stroke-width="1.2"/>
<line x1="144.80" y1="163.3" x2="144.80" y2="159.3" stroke="#222" stroke-width="1.2"/>
<line x1="163.27" y1="163.3" x2="163.27" y2="161.3" stroke="#222" stroke-width="1.2"/>
<line x1="181.73" y1="163.3" x2="181.73" y2="159.3" stroke="#222" stroke-width="1.2"/>
<line x1="200.20" y1="163.3" x2="200.20" y2="161.3" stroke="#222" stroke-width="1.2"/>
<line x1="218.67" y1="163.3" x2="218.67" y2="159.3" stroke="#222" stroke-width="1.2"/>
<line x1="237.13" y1="163.3" x2="237.13" y2="161.3" stroke="#222" stroke-width="1.2"/>
<text x="34.00" y="175.00" font-family='"Liberation Serif", serif' font-size="9.2" font-weight="bold" text-anchor="middle" fill="#111" >20</text>
<text x="70.93" y="175.00" font-family='"Liberation Serif", serif' font-size="9.2" font-weight="bold" text-anchor="middle" fill="#111" >30</text>
<text x="107.87" y="175.00" font-family='"Liberation Serif", serif' font-size="9.2" font-weight="bold" text-anchor="middle" fill="#111" >40</text>
<text x="144.80" y="175.00" font-family='"Liberation Serif", serif' font-size="9.2" font-weight="bold" text-anchor="middle" fill="#111" >50</text>
<text x="181.73" y="175.00" font-family='"Liberation Serif", serif' font-size="9.2" font-weight="bold" text-anchor="middle" fill="#111" >60</text>
<text x="218.67" y="175.00" font-family='"Liberation Serif", serif' font-size="9.2" font-weight="bold" text-anchor="middle" fill="#111" >70</text>
<text x="255.60" y="175.00" font-family='"Liberation Serif", serif' font-size="9.2" font-weight="bold" text-anchor="middle" fill="#111" >80</text>
<text x="150.60" y="194.40" font-family='"Liberation Serif", serif' font-size="16.5" font-weight="bold" text-anchor="middle" fill="#111" >2 Theta (degree)</text>
<text x="0.00" y="0.00" font-family='"Liberation Serif", serif' font-size="16.2" font-weight="bold" text-anchor="middle" fill="#111" transform="translate(13.7,91.1) rotate(-90) scale(1,0.9)">Intensity (a.u.)</text>
<polygon points="57.30,48.70 63.30,48.70 60.30,54.00" fill="#111"/>
<text x="66.90" y="55.00" font-family='"Liberation Sans", sans-serif' font-size="8.6" font-weight="bold" text-anchor="start" fill="#111" letter-spacing="0.15" stroke="#111" stroke-width="0.3">Titanium</text>
<line x1="162" y1="20.2" x2="176.8" y2="20.2" stroke="#ff1010" stroke-width="1.5"/>
<text x="179.60" y="23.40" font-family='"Liberation Serif", serif' font-size="9.4" font-weight="bold" text-anchor="start" fill="#111" >Pure Ti mesh</text>
<line x1="162" y1="31.8" x2="176.8" y2="31.8" stroke="#1c1cff" stroke-width="1.5"/>
<text x="179.60" y="35.03" font-family='"Liberation Serif", serif' font-size="9.5" font-weight="bold" text-anchor="start" fill="#111" >AT-40</text>
<line x1="162" y1="42.9" x2="176.8" y2="42.9" stroke="#ff8c00" stroke-width="1.5"/>
<text x="179.60" y="46.13" font-family='"Liberation Serif", serif' font-size="9.5" font-weight="bold" text-anchor="start" fill="#111" >AT-60</text>
<line x1="162" y1="54.0" x2="176.8" y2="54.0" stroke="#33aa33" stroke-width="1.5"/>
<text x="179.60" y="57.23" font-family='"Liberation Serif", serif' font-size="9.5" font-weight="bold" text-anchor="start" fill="#111" >AT-80</text>
<line x1="162" y1="65.1" x2="176.8" y2="65.1" stroke="#151515" stroke-width="1.5"/>
<text x="179.60" y="68.33" font-family='"Liberation Serif", serif' font-size="9.5" font-weight="bold" text-anchor="start" fill="#111" >AT-120</text>
<line x1="162" y1="78.0" x2="176.8" y2="78.0" stroke="#ff2d9a" stroke-width="1.5"/>
<text x="179.60" y="80.72" font-family='"Liberation Serif", serif' font-size="8.0" font-weight="bold" text-anchor="start" fill="#111" >PDF#44-1294</text>
<rect x="267.2" y="2.6" width="21.600000000000023" height="20.299999999999997" fill="#fc1414"/><text x="278.00" y="18.30" font-family='"Liberation Serif", serif' font-size="18" font-weight="normal" text-anchor="middle" fill="#fff" >B</text>
<polyline points="317.20,12.89 317.60,13.20 318.00,13.06 318.40,12.05 318.80,11.77 319.20,13.21 319.60,14.22 320.00,14.85 320.40,14.75 320.80,14.46 321.20,15.35 321.60,15.57 322.00,14.55 322.40,13.98 322.80,14.55 323.20,14.19 323.60,14.52 324.00,15.84 324.40,15.37 324.80,16.04 325.20,16.24 325.60,15.02 326.00,15.14 326.40,14.91 326.80,15.39 327.20,15.90 327.60,16.73 328.00,17.16 328.40,16.57 328.80,16.15 329.20,15.06 329.60,15.22 330.00,15.64 330.40,16.30 330.80,16.57 331.20,16.81 331.60,17.06 332.00,16.94 332.40,16.89 332.80,16.80 333.20,16.94 333.60,17.14 334.00,16.87 334.40,16.79 334.80,17.56 335.20,17.44 335.60,16.81 336.00,16.69 336.40,16.43 336.80,16.87 337.20,17.22 337.60,17.03 338.00,17.45 338.40,17.96 338.80,17.36 339.20,17.04 339.60,17.40 340.00,17.26 340.40,17.24 340.80,17.16 341.20,17.43 341.60,17.58 342.00,17.32 342.40,17.47 342.80,17.61 343.20,17.45 343.60,17.33 344.00,17.64 344.40,17.69 344.80,17.29 345.20,16.99 345.60,16.95 346.00,16.92 346.40,17.04 346.80,17.34 347.20,16.87 347.60,16.83 348.00,17.45 348.40,17.50 348.80,17.15 349.20,17.41 349.60,17.48 350.00,16.94 350.40,16.87 350.80,17.17 351.20,17.66 351.60,17.95 352.00,17.81 352.40,17.31 352.80,17.15 353.20,17.25 353.60,17.40 354.00,17.24 354.40,17.34 354.80,17.92 355.20,17.90 355.60,17.90 356.00,17.75 356.40,17.36 356.80,17.47 357.20,18.09 357.60,18.50 358.00,18.18 358.40,18.25 358.80,18.32 359.20,18.42 359.60,18.64 360.00,18.24 360.40,18.35 360.80,18.31 361.20,17.96 361.60,17.84 362.00,18.15 362.40,18.50 362.80,18.49 363.20,18.49 363.60,18.95 364.00,19.09 364.40,18.77 364.80,19.33 365.20,20.03 365.60,20.07 366.00,19.63 366.40,19.69 366.80,20.49 367.20,20.89 367.60,21.38 368.00,21.34 368.40,21.44 368.80,21.92 369.20,22.40 369.60,22.88 370.00,23.20 370.40,23.47 370.80,23.34 371.20,23.68 371.60,24.32 372.00,24.80 372.40,25.66 372.80,26.65 373.20,26.90 373.60,26.84 374.00,27.26 374.40,27.87 374.80,28.78 375.20,29.60 375.60,30.01 376.00,30.50 376.40,30.62 376.80,31.25 377.20,32.18 377.60,33.16 378.00,34.16 378.40,34.62 378.80,35.24 379.20,36.51 379.60,37.14 380.00,37.35 380.40,38.41 380.80,39.24 381.20,40.03 381.60,41.02 382.00,42.13 382.40,42.71 382.80,43.35 383.20,44.44 383.60,45.30 384.00,46.14 384.40,46.97 384.80,47.95 385.20,48.73 385.60,49.34 386.00,50.12 386.40,50.83 386.80,51.45 387.20,52.17 387.60,52.76 388.00,53.19 388.40,53.72 388.80,54.10 389.20,54.54 389.60,55.07 390.00,55.70 390.40,56.21 390.80,56.47 391.20,56.96 391.60,57.48 392.00,57.51 392.40,57.89 392.80,58.30 393.20,58.22 393.60,58.46 394.00,58.60 394.40,58.51 394.80,58.89 395.20,58.95 395.60,58.78 396.00,59.14 396.40,59.13 396.80,59.13 397.20,59.42 397.60,59.84 398.00,59.77 398.40,59.55 398.80,59.81 399.20,59.89 399.60,59.71 400.00,59.80 400.40,60.00 400.80,60.03 401.20,60.19 401.60,60.29 402.00,60.23 402.40,60.17 402.80,60.01 403.20,59.98 403.60,60.18 404.00,60.17 404.40,60.19 404.80,60.16 405.20,60.37 405.60,60.77 406.00,60.56 406.40,60.37 406.80,60.42 407.20,60.56 407.60,60.67 408.00,60.55 408.40,60.50 408.80,60.53 409.20,60.47 409.60,60.56 410.00,60.63 410.40,60.64 410.80,60.78 411.20,60.88 411.60,60.89 412.00,60.91 412.40,60.82 412.80,60.80 413.20,60.92 413.60,60.89 414.00,60.95 414.40,61.07 414.80,60.83 415.20,60.77 415.60,60.85 416.00,60.97 416.40,60.92 416.80,60.65 417.20,60.69 417.60,61.03 418.00,61.08 418.40,60.90 418.80,61.00 419.20,60.76 419.60,60.79 420.00,61.11 420.40,61.13 420.80,61.17 421.20,61.16 421.60,61.04 422.00,61.05 422.40,61.09 422.80,61.38 423.20,61.39 423.60,61.18 424.00,61.07 424.40,60.95 424.80,61.22 425.20,61.18 425.60,60.89 426.00,61.02 426.40,61.09 426.80,61.35 427.20,61.11 427.60,60.92 428.00,61.31 428.40,61.13 428.80,60.96 429.20,61.16 429.60,61.44 430.00,61.27 430.40,60.86 430.80,61.09 431.20,61.47 431.60,61.30 432.00,60.81 432.40,61.02 432.80,61.26 433.20,61.21 433.60,61.22 434.00,61.01 434.40,60.95 434.80,61.17 435.20,61.39 435.60,60.93 436.00,60.62 436.40,61.09 436.80,61.15 437.20,60.74 437.60,60.78 438.00,60.92 438.40,60.89 438.80,60.83 439.20,60.79 439.60,60.78 440.00,60.85 440.40,60.79 440.80,60.70 441.20,60.77 441.60,60.96 442.00,61.01 442.40,60.82 442.80,60.83 443.20,60.88 443.60,60.93 444.00,60.93 444.40,61.01 444.80,61.10 445.20,60.86 445.60,60.62 446.00,60.73 446.40,60.83 446.80,60.69 447.20,60.43 447.60,60.20 448.00,60.41 448.40,60.73 448.80,60.77 449.20,60.50 449.60,60.52 450.00,60.60 450.40,60.50 450.80,60.61 451.20,60.45 451.60,60.31 452.00,60.13 452.40,60.08 452.80,60.10 453.20,60.26 453.60,60.48 454.00,60.52 454.40,60.55 454.80,60.34 455.20,60.32 455.60,60.34 456.00,60.36 456.40,60.44 456.80,60.22 457.20,60.17 457.60,60.29 458.00,60.24 458.40,60.33 458.80,60.56 459.20,60.39 459.60,60.11 460.00,59.86 460.40,59.86 460.80,60.06 461.20,59.78 461.60,59.85 462.00,60.16 462.40,60.00 462.80,59.85 463.20,59.79 463.60,59.90 464.00,59.81 464.40,59.64 464.80,60.04 465.20,60.06 465.60,59.84 466.00,59.79 466.40,59.55 466.80,59.54 467.20,59.71 467.60,59.55 468.00,59.51 468.40,59.77 468.80,59.83 469.20,59.45 469.60,59.16 470.00,59.13 470.40,59.35 470.80,59.60 471.20,59.52 471.60,59.31 472.00,59.04 472.40,59.13 472.80,59.26 473.20,59.12 473.60,59.09 474.00,59.25 474.40,59.23 474.80,58.99 475.20,58.67 475.60,58.73 476.00,58.99 476.40,58.96 476.80,58.85 477.20,58.77 477.60,58.88 478.00,58.93 478.40,58.83 478.80,58.68 479.20,58.56 479.60,58.67 480.00,58.59 480.40,58.39 480.80,58.44 481.20,58.72 481.60,58.75 482.00,58.76 482.40,58.69 482.80,58.43 483.20,58.25 483.60,58.18 484.00,58.51 484.40,58.59 484.80,58.47 485.20,58.49 485.60,58.37 486.00,58.22 486.40,58.21 486.80,58.29 487.20,58.30 487.60,58.25 488.00,58.18 488.40,57.99 488.80,57.91 489.20,57.86 489.60,57.99 490.00,57.81 490.40,57.63 490.80,58.16 491.20,58.12 491.60,57.65 492.00,57.66 492.40,57.93 492.80,57.88 493.20,57.77 493.60,57.77 494.00,57.62 494.40,57.97 494.80,57.99 495.20,57.50 495.60,57.40 496.00,57.49 496.40,57.57 496.80,57.59 497.20,57.52 497.60,57.22 498.00,57.24 498.40,57.35 498.80,57.22 499.20,57.04 499.60,56.97 500.00,57.04 500.40,57.07 500.80,56.95 501.20,56.93 501.60,57.09 502.00,56.92 502.40,56.79 502.80,56.79 503.20,56.95 503.60,56.71 504.00,56.52 504.40,56.60 504.80,56.55 505.20,56.84 505.60,56.78 506.00,56.66 506.40,56.60 506.80,56.79 507.20,56.98 507.60,56.85 508.00,56.53 508.40,56.22 508.80,56.49 509.20,56.57 509.60,56.38 510.00,56.41 510.40,56.25 510.80,56.28 511.20,56.40 511.60,56.33 512.00,56.22 512.40,56.19 512.80,56.15 513.20,56.18 513.60,56.37 514.00,56.34 514.40,56.23 514.80,56.16 515.20,55.72 515.60,55.72 516.00,55.99 516.40,55.87 516.80,55.83 517.20,55.61 517.60,55.55 518.00,55.77 518.40,55.99 518.80,55.80 519.20,55.47 519.60,55.70 520.00,55.67 520.40,55.72 520.80,55.80 521.20,55.40 521.60,55.48 522.00,55.77 522.40,55.44 522.80,55.39 523.20,55.50 523.60,55.46 524.00,55.42 524.40,55.00 524.80,55.08 525.20,55.36 525.60,55.53 526.00,55.60 526.40,55.39 526.80,55.11 527.20,54.93 527.60,54.89 528.00,54.82 528.40,54.79 528.80,54.54 529.20,54.57 529.60,54.85 530.00,55.12 530.40,55.18 530.80,54.77 531.20,54.71 531.60,54.59 532.00,54.41 532.40,54.30 532.80,54.52 533.20,54.80 533.60,54.44 534.00,54.33 534.40,54.56 534.80,54.60 535.20,54.49 535.60,54.29 536.00,54.13 536.40,54.22 536.80,54.38 537.20,54.24 537.60,53.95 538.00,54.17 538.40,54.17 538.80,54.14 539.20,54.26" fill="none" stroke="#1c1cff" stroke-width="1.7" stroke-linejoin="round" />
<polyline points="317.20,16.47 317.60,17.13 318.00,17.19 318.40,16.81 318.80,16.07 319.20,15.45 319.60,16.64 320.00,18.24 320.40,18.94 320.80,19.67 321.20,19.28 321.60,18.27 322.00,18.94 322.40,19.09 322.80,18.68 323.20,18.26 323.60,19.09 324.00,19.26 324.40,19.13 324.80,19.07 325.20,19.54 325.60,19.88 326.00,19.81 326.40,19.56 326.80,18.87 327.20,20.62 327.60,20.48 328.00,19.90 328.40,20.18 328.80,18.84 329.20,19.40 329.60,21.13 330.00,20.36 330.40,20.73 330.80,20.89 331.20,20.62 331.60,20.88 332.00,21.02 332.40,21.60 332.80,21.47 333.20,21.17 333.60,21.79 334.00,21.21 334.40,20.63 334.80,21.23 335.20,21.53 335.60,21.51 336.00,21.89 336.40,21.74 336.80,21.27 337.20,20.76 337.60,21.06 338.00,21.49 338.40,21.53 338.80,21.81 339.20,21.45 339.60,21.81 340.00,22.38 340.40,22.20 340.80,21.71 341.20,21.45 341.60,21.62 342.00,21.63 342.40,21.52 342.80,21.73 343.20,22.06 343.60,22.06 344.00,21.92 344.40,22.15 344.80,22.32 345.20,21.44 345.60,21.27 346.00,21.89 346.40,22.27 346.80,22.24 347.20,21.99 347.60,21.92 348.00,22.15 348.40,22.22 348.80,21.95 349.20,21.91 349.60,22.18 350.00,22.24 350.40,21.74 350.80,22.00 351.20,22.21 351.60,22.13 352.00,22.35 352.40,22.51 352.80,22.63 353.20,22.19 353.60,21.87 354.00,21.67 354.40,22.05 354.80,22.40 355.20,22.29 355.60,22.08 356.00,21.27 356.40,21.64 356.80,22.09 357.20,21.73 357.60,21.68 358.00,21.76 358.40,21.83 358.80,21.31 359.20,21.44 359.60,21.71 360.00,21.42 360.40,22.01 360.80,22.43 361.20,22.10 361.60,21.63 362.00,21.92 362.40,22.64 362.80,22.77 363.20,22.56 363.60,22.60 364.00,22.81 364.40,23.25 364.80,23.93 365.20,24.34 365.60,24.23 366.00,24.29 366.40,24.82 366.80,24.89 367.20,24.97 367.60,25.80 368.00,26.12 368.40,26.08 368.80,26.20 369.20,26.30 369.60,26.32 370.00,26.63 370.40,27.64 370.80,28.49 371.20,28.88 371.60,28.98 372.00,29.17 372.40,29.32 372.80,29.71 373.20,30.42 373.60,30.72 374.00,31.25 374.40,31.66 374.80,31.52 375.20,31.98 375.60,32.49 376.00,32.89 376.40,34.01 376.80,34.78 377.20,35.08 377.60,35.89 378.00,36.62 378.40,36.75 378.80,37.27 379.20,37.97 379.60,38.17 380.00,38.68 380.40,38.95 380.80,39.29 381.20,39.95 381.60,40.61 382.00,41.06 382.40,41.46 382.80,42.11 383.20,42.79 383.60,43.25 384.00,43.72 384.40,44.06 384.80,44.33 385.20,44.86 385.60,45.28 386.00,45.58 386.40,46.20 386.80,46.59 387.20,46.60 387.60,46.99 388.00,47.63 388.40,47.87 388.80,48.08 389.20,48.30 389.60,48.36 390.00,48.58 390.40,48.85 390.80,49.36 391.20,49.41 391.60,49.53 392.00,49.67 392.40,49.53 392.80,49.83 393.20,50.00 393.60,49.99 394.00,49.76 394.40,49.82 394.80,49.96 395.20,50.29 395.60,50.45 396.00,50.21 396.40,50.15 396.80,50.12 397.20,50.15 397.60,50.38 398.00,50.55 398.40,50.53 398.80,50.52 399.20,50.41 399.60,50.68 400.00,50.65 400.40,50.28 400.80,50.47 401.20,50.58 401.60,50.49 402.00,50.77 402.40,50.74 402.80,50.76 403.20,50.80 403.60,50.90 404.00,51.17 404.40,50.95 404.80,50.77 405.20,50.75 405.60,50.82 406.00,51.09 406.40,50.91 406.80,50.90 407.20,50.94 407.60,50.74 408.00,50.70 408.40,51.09 408.80,51.34 409.20,51.13 409.60,51.06 410.00,51.18 410.40,51.03 410.80,50.92 411.20,51.48 411.60,51.45 412.00,51.20 412.40,51.35 412.80,51.27 413.20,51.21 413.60,51.45 414.00,51.48 414.40,51.42 414.80,51.36 415.20,51.36 415.60,51.41 416.00,51.56 416.40,51.63 416.80,51.41 417.20,51.01 417.60,51.11 418.00,51.50 418.40,51.29 418.80,50.93 419.20,50.90 419.60,51.25 420.00,51.25 420.40,51.07 420.80,51.22 421.20,51.42 421.60,51.37 422.00,51.20 422.40,51.12 422.80,51.33 423.20,51.52 423.60,51.29 424.00,50.97 424.40,50.88 424.80,51.11 425.20,51.11 425.60,51.14 426.00,51.26 426.40,51.18 426.80,51.20 427.20,51.22 427.60,51.02 428.00,50.91 428.40,51.29 428.80,51.17 429.20,50.81 429.60,51.08 430.00,51.11 430.40,50.87 430.80,50.71 431.20,50.87 431.60,51.15 432.00,51.25 432.40,51.12 432.80,51.06 433.20,50.92 433.60,50.80 434.00,50.83 434.40,50.82 434.80,50.99 435.20,51.09 435.60,50.86 436.00,50.87 436.40,50.93 436.80,50.63 437.20,50.66 437.60,50.59 438.00,50.60 438.40,50.81 438.80,50.78 439.20,50.80 439.60,50.77 440.00,50.69 440.40,50.54 440.80,50.54 441.20,50.60 441.60,50.53 442.00,50.61 442.40,50.68 442.80,50.48 443.20,50.25 443.60,50.40 444.00,50.65 444.40,50.72 444.80,50.76 445.20,50.87 445.60,50.81 446.00,50.63 446.40,50.43 446.80,50.30 447.20,50.36 447.60,50.51 448.00,50.58 448.40,50.54 448.80,50.48 449.20,50.55 449.60,50.58 450.00,50.53 450.40,50.53 450.80,50.42 451.20,50.24 451.60,50.36 452.00,50.53 452.40,50.43 452.80,50.31 453.20,50.61 453.60,50.56 454.00,50.24 454.40,50.36 454.80,50.23 455.20,50.20 455.60,50.56 456.00,50.65 456.40,50.49 456.80,50.44 457.20,50.36 457.60,50.40 458.00,50.35 458.40,50.17 458.80,50.19 459.20,50.35 459.60,50.36 460.00,50.32 460.40,50.02 460.80,50.07 461.20,50.61 461.60,50.61 462.00,50.27 462.40,49.98 462.80,50.04 463.20,50.02 463.60,50.06 464.00,50.11 464.40,50.12 464.80,50.35 465.20,49.96 465.60,49.81 466.00,49.97 466.40,49.74 466.80,49.74 467.20,49.88 467.60,50.07 468.00,49.90 468.40,49.89 468.80,50.32 469.20,50.25 469.60,50.05 470.00,49.97 470.40,49.74 470.80,49.80 471.20,49.98 471.60,49.99 472.00,50.25 472.40,50.24 472.80,49.96 473.20,50.05 473.60,49.82 474.00,49.47 474.40,49.58 474.80,49.63 475.20,49.75 475.60,49.78 476.00,49.90 476.40,50.12 476.80,49.98 477.20,49.73 477.60,49.70 478.00,49.84 478.40,49.62 478.80,49.55 479.20,49.76 479.60,49.73 480.00,49.82 480.40,49.94 480.80,49.62 481.20,49.48 481.60,49.46 482.00,49.51 482.40,49.49 482.80,49.52 483.20,49.67 483.60,49.66 484.00,49.58 484.40,49.27 484.80,49.49 485.20,49.64 485.60,49.58 486.00,49.65 486.40,49.55 486.80,49.71 487.20,49.66 487.60,49.59 488.00,49.35 488.40,49.27 488.80,49.41 489.20,49.28 489.60,49.30 490.00,49.34 490.40,49.54 490.80,49.25 491.20,49.04 491.60,49.17 492.00,49.30 492.40,49.32 492.80,49.22 493.20,49.21 493.60,49.23 494.00,49.39 494.40,49.25 494.80,49.11 495.20,48.97 495.60,48.99 496.00,49.27 496.40,49.15 496.80,49.17 497.20,48.96 497.60,48.58 498.00,48.66 498.40,48.81 498.80,48.98 499.20,49.01 499.60,48.99 500.00,49.07 500.40,49.00 500.80,48.74 501.20,48.62 501.60,49.02 502.00,48.86 502.40,48.55 502.80,49.01 503.20,49.07 503.60,48.76 504.00,48.68 504.40,48.87 504.80,49.00 505.20,48.75 505.60,48.67 506.00,48.80 506.40,48.82 506.80,48.94 507.20,48.73 507.60,48.36 508.00,48.43 508.40,48.81 508.80,48.82 509.20,48.61 509.60,48.80 510.00,48.62 510.40,48.41 510.80,48.45 511.20,48.32 511.60,48.38 512.00,48.54 512.40,48.39 512.80,48.11 513.20,48.01 513.60,48.11 514.00,48.23 514.40,48.20 514.80,48.10 515.20,47.98 515.60,48.23 516.00,48.23 516.40,48.15 516.80,48.22 517.20,48.08 517.60,47.79 518.00,47.94 518.40,48.13 518.80,48.11 519.20,47.82 519.60,47.46 520.00,47.43 520.40,47.50 520.80,47.88 521.20,48.03 521.60,47.88 522.00,47.80 522.40,47.88 522.80,47.80 523.20,47.74 523.60,47.77 524.00,47.42 524.40,47.34 524.80,47.76 525.20,47.73 525.60,47.52 526.00,47.48 526.40,47.41 526.80,47.61 527.20,47.61 527.60,47.32 528.00,46.94 528.40,46.98 528.80,47.10 529.20,46.92 529.60,47.24 530.00,47.54 530.40,47.18 530.80,47.17 531.20,47.45 531.60,47.22 532.00,47.23 532.40,47.11 532.80,46.84 533.20,46.84 533.60,46.83 534.00,47.10 534.40,47.05 534.80,46.78 535.20,46.80 535.60,46.95 536.00,47.00 536.40,47.06 536.80,46.99 537.20,46.70 537.60,46.71 538.00,46.85 538.40,46.78 538.80,46.80 539.20,47.13" fill="none" stroke="#ff1a1a" stroke-width="1.7" stroke-linejoin="round" />
<polyline points="317.20,13.51 317.60,13.95 318.00,15.20 318.40,14.89 318.80,13.68 319.20,13.54 319.60,14.42 320.00,15.52 320.40,15.32 320.80,15.17 321.20,16.15 321.60,16.78 322.00,15.30 322.40,14.90 322.80,15.93 323.20,16.48 323.60,16.38 324.00,15.66 324.40,15.60 324.80,15.00 325.20,15.32 325.60,16.09 326.00,16.43 326.40,16.22 326.80,15.73 327.20,15.81 327.60,15.48 328.00,16.53 328.40,16.94 328.80,16.83 329.20,16.49 329.60,16.33 330.00,16.04 330.40,16.58 330.80,16.89 331.20,17.18 331.60,17.38 332.00,17.25 332.40,17.43 332.80,17.54 333.20,17.50 333.60,17.64 334.00,17.52 334.40,17.29 334.80,17.37 335.20,17.34 335.60,17.35 336.00,17.69 336.40,17.79 336.80,17.45 337.20,16.97 337.60,17.04 338.00,17.30 338.40,17.55 338.80,17.49 339.20,17.19 339.60,17.44 340.00,17.38 340.40,17.17 340.80,17.66 341.20,18.03 341.60,17.78 342.00,17.51 342.40,17.14 342.80,17.20 343.20,17.43 343.60,17.35 344.00,17.21 344.40,17.14 344.80,17.20 345.20,17.25 345.60,17.58 346.00,17.55 346.40,16.82 346.80,16.48 347.20,16.45 347.60,16.44 348.00,16.88 348.40,17.10 348.80,16.79 349.20,16.71 349.60,16.63 350.00,16.20 350.40,16.00 350.80,16.08 351.20,16.65 351.60,16.49 352.00,16.39 352.40,16.92 352.80,16.54 353.20,16.16 353.60,16.00 354.00,15.93 354.40,16.15 354.80,16.09 355.20,16.10 355.60,16.31 356.00,16.11 356.40,15.87 356.80,15.75 357.20,15.73 357.60,15.48 358.00,15.49 358.40,15.79 358.80,15.52 359.20,15.98 359.60,15.98 360.00,15.34 360.40,15.67 360.80,15.49 361.20,15.33 361.60,15.51 362.00,15.58 362.40,16.00 362.80,16.43 363.20,16.87 363.60,17.15 364.00,17.35 364.40,17.50 364.80,17.33 365.20,17.67 365.60,17.90 366.00,17.76 366.40,18.46 366.80,19.02 367.20,18.98 367.60,19.21 368.00,19.61 368.40,19.38 368.80,19.43 369.20,19.76 369.60,20.11 370.00,20.56 370.40,21.19 370.80,21.82 371.20,21.73 371.60,22.02 372.00,22.36 372.40,22.80 372.80,23.63 373.20,24.11 373.60,24.00 374.00,24.35 374.40,25.41 374.80,26.11 375.20,26.83 375.60,27.09 376.00,27.59 376.40,28.41 376.80,29.05 377.20,30.01 377.60,30.85 378.00,31.36 378.40,31.97 378.80,32.56 379.20,32.90 379.60,33.97 380.00,34.94 380.40,35.29 380.80,35.83 381.20,36.67 381.60,37.58 382.00,38.31 382.40,38.82 382.80,39.06 383.20,39.55 383.60,40.43 384.00,41.09 384.40,41.69 384.80,42.19 385.20,42.92 385.60,43.68 386.00,43.98 386.40,44.18 386.80,44.95 387.20,45.48 387.60,45.83 388.00,46.57 388.40,46.75 388.80,46.98 389.20,47.50 389.60,47.95 390.00,48.43 390.40,48.97 390.80,49.33 391.20,49.39 391.60,49.72 392.00,49.93 392.40,49.95 392.80,50.44 393.20,50.54 393.60,50.36 394.00,50.63 394.40,50.72 394.80,50.61 395.20,51.03 395.60,51.36 396.00,51.32 396.40,51.53 396.80,51.63 397.20,51.68 397.60,51.95 398.00,52.50 398.40,52.68 398.80,52.57 399.20,52.37 399.60,52.35 400.00,52.45 400.40,52.62 400.80,52.80 401.20,52.77 401.60,52.85 402.00,52.84 402.40,52.72 402.80,52.93 403.20,53.01 403.60,52.85 404.00,53.05 404.40,53.18 404.80,53.31 405.20,53.59 405.60,53.65 406.00,53.61 406.40,53.65 406.80,53.79 407.20,53.62 407.60,53.63 408.00,53.80 408.40,53.67 408.80,53.85 409.20,54.02 409.60,54.15 410.00,54.40 410.40,54.10 410.80,54.02 411.20,54.62 411.60,54.80 412.00,54.80 412.40,54.77 412.80,54.47 413.20,54.38 413.60,54.71 414.00,55.02 414.40,54.88 414.80,54.77 415.20,54.92 415.60,54.75 416.00,54.69 416.40,55.12 416.80,55.43 417.20,55.21 417.60,55.16 418.00,55.10 418.40,54.76 418.80,54.54 419.20,54.76 419.60,54.98 420.00,55.15 420.40,55.23 420.80,54.96 421.20,54.68 421.60,54.84 422.00,55.02 422.40,54.80 422.80,54.56 423.20,54.69 423.60,55.09 424.00,54.89 424.40,54.77 424.80,54.89 425.20,54.99 425.60,54.95 426.00,55.04 426.40,54.99 426.80,54.69 427.20,54.66 427.60,54.41 428.00,54.36 428.40,54.80 428.80,54.92 429.20,54.69 429.60,54.69 430.00,54.54 430.40,54.45 430.80,54.76 431.20,54.88 431.60,54.71 432.00,54.73 432.40,55.06 432.80,54.88 433.20,54.73 433.60,54.59 434.00,54.24 434.40,54.51 434.80,54.75 435.20,54.69 435.60,54.61 436.00,54.54 436.40,54.71 436.80,54.95 437.20,54.82 437.60,54.39 438.00,54.57 438.40,54.85 438.80,54.76 439.20,54.70 439.60,54.89 440.00,54.86 440.40,54.62 440.80,54.35 441.20,54.19 441.60,54.31 442.00,54.35 442.40,54.45 442.80,54.33 443.20,54.48 443.60,54.41 444.00,54.11 444.40,54.24 444.80,54.11 445.20,54.13 445.60,54.33 446.00,54.19 446.40,54.33 446.80,54.34 447.20,54.11 447.60,53.95 448.00,53.68 448.40,53.69 448.80,53.83 449.20,53.82 449.60,53.93 450.00,53.66 450.40,53.39 450.80,53.43 451.20,53.71 451.60,53.84 452.00,53.58 452.40,53.49 452.80,53.63 453.20,53.69 453.60,53.58 454.00,53.35 454.40,53.44 454.80,53.71 455.20,53.60 455.60,53.68 456.00,53.56 456.40,53.35 456.80,53.44 457.20,53.48 457.60,53.33 458.00,53.26 458.40,53.20 458.80,53.25 459.20,53.40 459.60,53.28 460.00,53.37 460.40,53.15 460.80,52.86 461.20,53.24 461.60,53.18 462.00,52.74 462.40,52.94 462.80,53.18 463.20,52.82 463.60,52.82 464.00,52.82 464.40,52.52 464.80,52.60 465.20,52.68 465.60,52.53 466.00,52.52 466.40,52.50 466.80,52.53 467.20,52.62 467.60,52.68 468.00,52.59 468.40,52.31 468.80,52.17 469.20,52.27 469.60,52.60 470.00,52.71 470.40,52.41 470.80,52.39 471.20,52.30 471.60,52.28 472.00,52.35 472.40,52.29 472.80,52.38 473.20,52.22 473.60,52.16 474.00,52.03 474.40,51.95 474.80,52.19 475.20,52.69 475.60,52.61 476.00,52.08 476.40,51.83 476.80,51.93 477.20,51.82 477.60,51.55 478.00,51.78 478.40,51.70 478.80,51.82 479.20,52.07 479.60,51.78 480.00,51.54 480.40,51.42 480.80,51.28 481.20,51.46 481.60,51.68 482.00,51.64 482.40,51.56 482.80,51.41 483.20,51.39 483.60,51.24 484.00,51.16 484.40,51.49 484.80,51.62 485.20,51.35 485.60,51.10 486.00,51.30 486.40,51.53 486.80,51.14 487.20,50.82 487.60,51.01 488.00,51.18 488.40,51.01 488.80,50.90 489.20,50.93 489.60,51.12 490.00,51.17 490.40,50.82 490.80,50.69 491.20,50.81 491.60,50.90 492.00,50.60 492.40,50.51 492.80,50.44 493.20,50.28 493.60,50.25 494.00,50.15 494.40,50.19 494.80,50.20 495.20,50.31 495.60,50.50 496.00,50.37 496.40,50.10 496.80,50.19 497.20,50.04 497.60,49.67 498.00,49.98 498.40,50.27 498.80,50.26 499.20,50.12 499.60,49.80 500.00,49.73 500.40,49.93 500.80,49.86 501.20,49.67 501.60,49.55 502.00,49.46 502.40,49.71 502.80,49.88 503.20,49.59 503.60,49.36 504.00,49.40 504.40,49.57 504.80,49.46 505.20,49.34 505.60,49.18 506.00,49.01 506.40,49.30 506.80,49.53 507.20,49.30 507.60,49.05 508.00,49.27 508.40,49.28 508.80,49.08 509.20,49.16 509.60,49.21 510.00,49.25 510.40,49.29 510.80,49.05 511.20,48.90 511.60,48.93 512.00,48.74 512.40,48.59 512.80,48.85 513.20,48.73 513.60,48.70 514.00,48.90 514.40,48.73 514.80,48.72 515.20,48.77 515.60,48.82 516.00,48.67 516.40,48.46 516.80,48.44 517.20,48.67 517.60,48.79 518.00,48.40 518.40,48.20 518.80,48.20 519.20,48.21 519.60,48.29 520.00,48.54 520.40,48.25 520.80,48.05 521.20,48.30 521.60,48.05 522.00,47.94 522.40,47.93 522.80,47.92 523.20,48.08 523.60,47.85 524.00,47.85 524.40,47.96 524.80,47.95 525.20,48.01 525.60,47.94 526.00,47.93 526.40,47.88 526.80,47.78 527.20,47.50 527.60,47.55 528.00,47.70 528.40,47.85 528.80,47.47 529.20,47.15 529.60,47.50 530.00,47.33 530.40,47.14 530.80,47.53 531.20,47.70 531.60,47.29 532.00,47.25 532.40,47.48 532.80,47.36 533.20,47.23 533.60,47.12 534.00,46.93 534.40,46.80 534.80,46.97 535.20,47.02 535.60,47.12 536.00,47.03 536.40,46.46 536.80,46.43 537.20,46.73 537.60,46.78 538.00,46.73 538.40,46.55 538.80,46.70 539.20,46.70" fill="none" stroke="#12961e" stroke-width="1.7" stroke-linejoin="round" />
<polyline points="317.20,15.18 317.60,14.98 318.00,14.31 318.40,15.90 318.80,15.72 319.20,15.01 319.60,17.40 320.00,18.29 320.40,19.04 320.80,19.72 321.20,19.49 321.60,21.30 322.00,21.87 322.40,20.90 322.80,20.81 323.20,20.89 323.60,22.35 324.00,23.57 324.40,23.61 324.80,23.26 325.20,24.06 325.60,23.82 326.00,23.56 326.40,24.76 326.80,24.77 327.20,25.31 327.60,25.70 328.00,25.38 328.40,27.12 328.80,28.31 329.20,28.20 329.60,28.05 330.00,28.16 330.40,28.21 330.80,28.53 331.20,29.14 331.60,29.07 332.00,28.81 332.40,29.06 332.80,28.39 333.20,28.24 333.60,29.17 334.00,29.74 334.40,29.70 334.80,29.88 335.20,30.36 335.60,30.06 336.00,30.15 336.40,30.70 336.80,30.54 337.20,29.98 337.60,30.26 338.00,30.51 338.40,30.15 338.80,30.26 339.20,30.26 339.60,30.50 340.00,30.81 340.40,30.85 340.80,30.80 341.20,30.33 341.60,30.14 342.00,30.48 342.40,30.39 342.80,30.81 343.20,30.81 343.60,29.99 344.00,30.26 344.40,30.53 344.80,30.23 345.20,29.97 345.60,30.04 346.00,30.24 346.40,30.28 346.80,29.99 347.20,29.87 347.60,30.10 348.00,30.13 348.40,29.21 348.80,28.81 349.20,29.29 349.60,29.40 350.00,29.60 350.40,29.84 350.80,29.93 351.20,29.69 351.60,29.57 352.00,30.01 352.40,29.89 352.80,29.59 353.20,30.12 353.60,30.17 354.00,29.39 354.40,29.43 354.80,29.84 355.20,29.77 355.60,30.13 356.00,30.30 356.40,30.04 356.80,30.17 357.20,30.36 357.60,30.22 358.00,30.23 358.40,30.30 358.80,30.19 359.20,30.07 359.60,30.18 360.00,30.11 360.40,29.86 360.80,30.41 361.20,30.69 361.60,30.46 362.00,30.56 362.40,30.65 362.80,30.78 363.20,30.89 363.60,30.81 364.00,31.13 364.40,31.27 364.80,31.42 365.20,31.26 365.60,30.91 366.00,31.68 366.40,32.01 366.80,31.77 367.20,32.05 367.60,32.14 368.00,32.27 368.40,32.22 368.80,32.33 369.20,32.93 369.60,33.43 370.00,34.06 370.40,34.03 370.80,34.49 371.20,34.83 371.60,34.31 372.00,34.25 372.40,35.43 372.80,36.35 373.20,36.29 373.60,36.61 374.00,37.01 374.40,38.02 374.80,38.81 375.20,39.50 375.60,40.05 376.00,39.71 376.40,40.53 376.80,41.56 377.20,41.90 377.60,42.92 378.00,43.49 378.40,43.99 378.80,44.63 379.20,44.78 379.60,45.48 380.00,46.10 380.40,46.78 380.80,47.56 381.20,48.00 381.60,48.53 382.00,49.15 382.40,49.58 382.80,50.15 383.20,50.66 383.60,51.12 384.00,51.50 384.40,51.90 384.80,52.51 385.20,52.83 385.60,53.16 386.00,53.62 386.40,54.20 386.80,54.58 387.20,54.93 387.60,55.57 388.00,55.90 388.40,55.82 388.80,56.08 389.20,56.67 389.60,56.86 390.00,57.08 390.40,57.41 390.80,57.54 391.20,57.65 391.60,57.74 392.00,57.93 392.40,58.18 392.80,58.43 393.20,58.62 393.60,58.64 394.00,58.70 394.40,58.87 394.80,58.73 395.20,58.65 395.60,58.82 396.00,58.95 396.40,59.08 396.80,59.13 397.20,59.12 397.60,59.30 398.00,59.51 398.40,59.28 398.80,59.31 399.20,59.43 399.60,59.70 400.00,59.84 400.40,59.63 400.80,59.75 401.20,59.82 401.60,59.85 402.00,60.12 402.40,60.20 402.80,60.15 403.20,60.31 403.60,60.13 404.00,60.25 404.40,60.50 404.80,60.45 405.20,60.31 405.60,60.33 406.00,60.54 406.40,60.41 406.80,60.69 407.20,60.88 407.60,60.61 408.00,60.61 408.40,60.79 408.80,60.96 409.20,60.96 409.60,61.02 410.00,61.17 410.40,60.91 410.80,60.71 411.20,60.80 411.60,60.91 412.00,61.26 412.40,61.37 412.80,61.11 413.20,61.03 413.60,61.34 414.00,61.34 414.40,61.24 414.80,61.37 415.20,61.18 415.60,61.26 416.00,61.55 416.40,61.54 416.80,61.38 417.20,61.22 417.60,61.27 418.00,61.40 418.40,61.49 418.80,61.48 419.20,61.70 419.60,61.85 420.00,61.54 420.40,61.31 420.80,61.62 421.20,61.66 421.60,61.63 422.00,61.87 422.40,61.64 422.80,61.41 423.20,61.49 423.60,61.42 424.00,61.29 424.40,61.36 424.80,61.59 425.20,61.59 425.60,61.46 426.00,61.47 426.40,61.33 426.80,61.58 427.20,61.46 427.60,61.20 428.00,61.57 428.40,61.48 428.80,61.49 429.20,61.82 429.60,61.63 430.00,61.50 430.40,61.46 430.80,61.48 431.20,61.62 431.60,61.57 432.00,61.71 432.40,61.72 432.80,61.70 433.20,61.70 433.60,61.37 434.00,61.30 434.40,61.49 434.80,61.26 435.20,61.35 435.60,61.52 436.00,61.38 436.40,61.24 436.80,61.18 437.20,61.32 437.60,61.25 438.00,61.20 438.40,60.96 438.80,61.10 439.20,61.21 439.60,60.74 440.00,60.75 440.40,60.90 440.80,61.06 441.20,61.04 441.60,60.98 442.00,60.96 442.40,61.18 442.80,61.35 443.20,61.30 443.60,61.09 444.00,60.91 444.40,60.90 444.80,60.87 445.20,61.05 445.60,60.76 446.00,60.52 446.40,60.55 446.80,60.49 447.20,60.52 447.60,60.57 448.00,60.46 448.40,60.58 448.80,60.81 449.20,60.61 449.60,60.46 450.00,60.60 450.40,60.62 450.80,60.52 451.20,60.63 451.60,60.80 452.00,60.77 452.40,60.62 452.80,60.76 453.20,60.99 453.60,60.67 454.00,60.42 454.40,60.60 454.80,60.49 455.20,60.38 455.60,60.46 456.00,60.31 456.40,60.25 456.80,60.13 457.20,60.07 457.60,60.00 458.00,60.33 458.40,60.75 458.80,60.60 459.20,60.43 459.60,60.37 460.00,60.47 460.40,60.45 460.80,60.38 461.20,60.11 461.60,60.01 462.00,60.03 462.40,59.80 462.80,59.69 463.20,59.86 463.60,60.10 464.00,59.84 464.40,59.90 464.80,60.22 465.20,59.92 465.60,59.65 466.00,59.65 466.40,59.80 466.80,59.73 467.20,59.44 467.60,59.50 468.00,59.35 468.40,59.29 468.80,59.66 469.20,59.65 469.60,59.57 470.00,59.56 470.40,59.52 470.80,59.45 471.20,59.22 471.60,59.14 472.00,59.20 472.40,59.36 472.80,59.54 473.20,59.40 473.60,59.07 474.00,58.89 474.40,58.93 474.80,59.17 475.20,59.20 475.60,58.99 476.00,58.82 476.40,58.90 476.80,59.00 477.20,58.85 477.60,58.80 478.00,58.98 478.40,58.92 478.80,58.89 479.20,59.03 479.60,58.79 480.00,58.72 480.40,58.66 480.80,58.42 481.20,58.37 481.60,58.33 482.00,58.39 482.40,58.47 482.80,58.45 483.20,58.52 483.60,58.03 484.00,57.93 484.40,58.06 484.80,58.01 485.20,58.10 485.60,58.06 486.00,58.30 486.40,58.05 486.80,57.87 487.20,58.04 487.60,57.75 488.00,57.80 488.40,58.01 488.80,57.84 489.20,57.71 489.60,58.14 490.00,58.15 490.40,57.49 490.80,57.39 491.20,57.54 491.60,57.58 492.00,57.58 492.40,57.47 492.80,57.51 493.20,57.55 493.60,57.28 494.00,57.21 494.40,57.30 494.80,57.47 495.20,57.55 495.60,57.37 496.00,57.28 496.40,57.32 496.80,57.54 497.20,57.40 497.60,57.17 498.00,57.31 498.40,57.10 498.80,57.00 499.20,57.11 499.60,56.99 500.00,57.01 500.40,57.16 500.80,57.20 501.20,57.01 501.60,56.86 502.00,57.14 502.40,56.94 502.80,56.64 503.20,56.85 503.60,56.81 504.00,56.74 504.40,56.71 504.80,56.68 505.20,56.79 505.60,56.63 506.00,56.46 506.40,56.44 506.80,56.33 507.20,56.30 507.60,56.17 508.00,56.23 508.40,56.55 508.80,56.63 509.20,56.54 509.60,56.17 510.00,56.17 510.40,56.16 510.80,55.93 511.20,56.22 511.60,56.05 512.00,55.89 512.40,56.02 512.80,55.86 513.20,55.68 513.60,55.72 514.00,55.73 514.40,55.78 514.80,55.95 515.20,55.61 515.60,55.36 516.00,55.46 516.40,55.34 516.80,55.20 517.20,55.32 517.60,55.40 518.00,55.15 518.40,55.07 518.80,55.31 519.20,55.19 519.60,54.97 520.00,55.28 520.40,55.53 520.80,55.09 521.20,54.72 521.60,54.93 522.00,54.92 522.40,54.80 522.80,54.86 523.20,54.93 523.60,54.63 524.00,54.25 524.40,54.38 524.80,54.74 525.20,54.84 525.60,54.46 526.00,54.51 526.40,54.77 526.80,54.65 527.20,54.48 527.60,54.53 528.00,54.69 528.40,54.61 528.80,54.49 529.20,54.43 529.60,54.28 530.00,54.14 530.40,54.18 530.80,54.22 531.20,54.12 531.60,54.24 532.00,54.30 532.40,54.25 532.80,53.96 533.20,53.88 533.60,53.97 534.00,53.77 534.40,53.70 534.80,53.91 535.20,54.09 535.60,53.81 536.00,53.53 536.40,53.58 536.80,53.63 537.20,53.80 537.60,53.64 538.00,53.17 538.40,53.30 538.80,53.50 539.20,53.53" fill="none" stroke="#111" stroke-width="1.7" stroke-linejoin="round" />
<rect x="332" y="78.3" width="94.8" height="32.2" fill="#b2b3b6"/>
<rect x="332" y="78.3" width="19" height="32.2" fill="#c2c2c2"/>
<line x1="344" y1="80.0" x2="351" y2="80.0" stroke="#6a6a6a" stroke-width="0.6"/>
<line x1="347" y1="82.2" x2="351" y2="82.2" stroke="#6a6a6a" stroke-width="0.6"/>
<line x1="347" y1="84.4" x2="351" y2="84.4" stroke="#6a6a6a" stroke-width="0.6"/>
<line x1="347" y1="86.6" x2="351" y2="86.6" stroke="#6a6a6a" stroke-width="0.6"/>
<line x1="347" y1="88.8" x2="351" y2="88.8" stroke="#6a6a6a" stroke-width="0.6"/>
<line x1="344" y1="91.0" x2="351" y2="91.0" stroke="#6a6a6a" stroke-width="0.6"/>
<line x1="347" y1="93.2" x2="351" y2="93.2" stroke="#6a6a6a" stroke-width="0.6"/>
<line x1="347" y1="95.4" x2="351" y2="95.4" stroke="#6a6a6a" stroke-width="0.6"/>
<line x1="347" y1="97.6" x2="351" y2="97.6" stroke="#6a6a6a" stroke-width="0.6"/>
<line x1="347" y1="99.8" x2="351" y2="99.8" stroke="#6a6a6a" stroke-width="0.6"/>
<line x1="344" y1="102.0" x2="351" y2="102.0" stroke="#6a6a6a" stroke-width="0.6"/>
<line x1="347" y1="104.2" x2="351" y2="104.2" stroke="#6a6a6a" stroke-width="0.6"/>
<line x1="347" y1="106.4" x2="351" y2="106.4" stroke="#6a6a6a" stroke-width="0.6"/>
<line x1="347" y1="108.6" x2="351" y2="108.6" stroke="#6a6a6a" stroke-width="0.6"/>
<text x="338.00" y="88.00" font-family='"Liberation Sans", sans-serif' font-size="4" font-weight="normal" text-anchor="middle" fill="#555" >5</text>
<text x="338.00" y="99.00" font-family='"Liberation Sans", sans-serif' font-size="4" font-weight="normal" text-anchor="middle" fill="#555" >6</text>
<clipPath id="clip35184"><rect x="351" y="84" width="28.19999999999999" height="24.299999999999997"/></clipPath><rect x="351" y="84" width="28.19999999999999" height="24.299999999999997" fill="#d2d2ca"/><g clip-path="url(#clip35184)" stroke="#5c5646" stroke-width="1.25" fill="none"><line x1="288.60" y1="84" x2="308.34" y2="108.3"/><line x1="288.60" y1="84" x2="268.86" y2="108.3"/><line x1="293.80" y1="84" x2="313.54" y2="108.3"/><line x1="293.80" y1="84" x2="274.06" y2="108.3"/><line x1="299.00" y1="84" x2="318.74" y2="108.3"/><line x1="299.00" y1="84" x2="279.26" y2="108.3"/><line x1="304.20" y1="84" x2="323.94" y2="108.3"/><line x1="304.20" y1="84" x2="284.46" y2="108.3"/><line x1="309.40" y1="84" x2="329.14" y2="108.3"/><line x1="309.40" y1="84" x2="289.66" y2="108.3"/><line x1="314.60" y1="84" x2="334.34" y2="108.3"/><line x1="314.60" y1="84" x2="294.86" y2="108.3"/><line x1="319.80" y1="84" x2="339.54" y2="108.3"/><line x1="319.80" y1="84" x2="300.06" y2="108.3"/><line x1="325.00" y1="84" x2="344.74" y2="108.3"/><line x1="325.00" y1="84" x2="305.26" y2="108.3"/><line x1="330.20" y1="84" x2="349.94" y2="108.3"/><line x1="330.20" y1="84" x2="310.46" y2="108.3"/><line x1="335.40" y1="84" x2="355.14" y2="108.3"/><line x1="335.40" y1="84" x2="315.66" y2="108.3"/><line x1="340.60" y1="84" x2="360.34" y2="108.3"/><line x1="340.60" y1="84" x2="320.86" y2="108.3"/><line x1="345.80" y1="84" x2="365.54" y2="108.3"/><line x1="345.80" y1="84" x2="326.06" y2="108.3"/><line x1="351.00" y1="84" x2="370.74" y2="108.3"/><line x1="351.00" y1="84" x2="331.26" y2="108.3"/><line x1="356.20" y1="84" x2="375.94" y2="108.3"/><line x1="356.20" y1="84" x2="336.46" y2="108.3"/><line x1="361.40" y1="84" x2="381.14" y2="108.3"/><line x1="361.40" y1="84" x2="341.66" y2="108.3"/><line x1="366.60" y1="84" x2="386.34" y2="108.3"/><line x1="366.60" y1="84" x2="346.86" y2="108.3"/><line x1="371.80" y1="84" x2="391.54" y2="108.3"/><line x1="371.80" y1="84" x2="352.06" y2="108.3"/><line x1="377.00" y1="84" x2="396.74" y2="108.3"/><line x1="377.00" y1="84" x2="357.26" y2="108.3"/><line x1="382.20" y1="84" x2="401.94" y2="108.3"/><line x1="382.20" y1="84" x2="362.46" y2="108.3"/><line x1="387.40" y1="84" x2="407.14" y2="108.3"/><line x1="387.40" y1="84" x2="367.66" y2="108.3"/><line x1="392.60" y1="84" x2="412.34" y2="108.3"/><line x1="392.60" y1="84" x2="372.86" y2="108.3"/><line x1="397.80" y1="84" x2="417.54" y2="108.3"/><line x1="397.80" y1="84" x2="378.06" y2="108.3"/><line x1="403.00" y1="84" x2="422.74" y2="108.3"/><line x1="403.00" y1="84" x2="383.26" y2="108.3"/><line x1="408.20" y1="84" x2="427.94" y2="108.3"/><line x1="408.20" y1="84" x2="388.46" y2="108.3"/></g>
<clipPath id="clip39284"><rect x="392" y="84.8" width="27.80000000000001" height="22.900000000000006"/></clipPath><rect x="392" y="84.8" width="27.80000000000001" height="22.900000000000006" fill="#8c9090"/><g clip-path="url(#clip39284)" stroke="#3a3c3c" stroke-width="1.7" fill="none"><line x1="329.60" y1="84.8" x2="348.21" y2="107.7"/><line x1="329.60" y1="84.8" x2="310.99" y2="107.7"/><line x1="334.80" y1="84.8" x2="353.41" y2="107.7"/><line x1="334.80" y1="84.8" x2="316.19" y2="107.7"/><line x1="340.00" y1="84.8" x2="358.61" y2="107.7"/><line x1="340.00" y1="84.8" x2="321.39" y2="107.7"/><line x1="345.20" y1="84.8" x2="363.81" y2="107.7"/><line x1="345.20" y1="84.8" x2="326.59" y2="107.7"/><line x1="350.40" y1="84.8" x2="369.01" y2="107.7"/><line x1="350.40" y1="84.8" x2="331.79" y2="107.7"/><line x1="355.60" y1="84.8" x2="374.21" y2="107.7"/><line x1="355.60" y1="84.8" x2="336.99" y2="107.7"/><line x1="360.80" y1="84.8" x2="379.41" y2="107.7"/><line x1="360.80" y1="84.8" x2="342.19" y2="107.7"/><line x1="366.00" y1="84.8" x2="384.61" y2="107.7"/><line x1="366.00" y1="84.8" x2="347.39" y2="107.7"/><line x1="371.20" y1="84.8" x2="389.81" y2="107.7"/><line x1="371.20" y1="84.8" x2="352.59" y2="107.7"/><line x1="376.40" y1="84.8" x2="395.01" y2="107.7"/><line x1="376.40" y1="84.8" x2="357.79" y2="107.7"/><line x1="381.60" y1="84.8" x2="400.21" y2="107.7"/><line x1="381.60" y1="84.8" x2="362.99" y2="107.7"/><line x1="386.80" y1="84.8" x2="405.41" y2="107.7"/><line x1="386.80" y1="84.8" x2="368.19" y2="107.7"/><line x1="392.00" y1="84.8" x2="410.61" y2="107.7"/><line x1="392.00" y1="84.8" x2="373.39" y2="107.7"/><line x1="397.20" y1="84.8" x2="415.81" y2="107.7"/><line x1="397.20" y1="84.8" x2="378.59" y2="107.7"/><line x1="402.40" y1="84.8" x2="421.01" y2="107.7"/><line x1="402.40" y1="84.8" x2="383.79" y2="107.7"/><line x1="407.60" y1="84.8" x2="426.21" y2="107.7"/><line x1="407.60" y1="84.8" x2="388.99" y2="107.7"/><line x1="412.80" y1="84.8" x2="431.41" y2="107.7"/><line x1="412.80" y1="84.8" x2="394.19" y2="107.7"/><line x1="418.00" y1="84.8" x2="436.61" y2="107.7"/><line x1="418.00" y1="84.8" x2="399.39" y2="107.7"/><line x1="423.20" y1="84.8" x2="441.81" y2="107.7"/><line x1="423.20" y1="84.8" x2="404.59" y2="107.7"/><line x1="428.40" y1="84.8" x2="447.01" y2="107.7"/><line x1="428.40" y1="84.8" x2="409.79" y2="107.7"/><line x1="433.60" y1="84.8" x2="452.21" y2="107.7"/><line x1="433.60" y1="84.8" x2="414.99" y2="107.7"/><line x1="438.80" y1="84.8" x2="457.41" y2="107.7"/><line x1="438.80" y1="84.8" x2="420.19" y2="107.7"/><line x1="444.00" y1="84.8" x2="462.61" y2="107.7"/><line x1="444.00" y1="84.8" x2="425.39" y2="107.7"/><line x1="449.20" y1="84.8" x2="467.81" y2="107.7"/><line x1="449.20" y1="84.8" x2="430.59" y2="107.7"/></g>
<text x="359.30" y="121.60" font-family='"Liberation Serif", serif' font-size="9.8" font-weight="bold" text-anchor="middle" fill="#111" >Ti mesh</text>
<text x="406.80" y="121.60" font-family='"Liberation Serif", serif' font-size="9.8" font-weight="bold" text-anchor="middle" fill="#111" >AT-60</text>
<defs><linearGradient id="spec" x1="0" x2="1" y1="0" y2="0">
<stop offset="0" stop-color="#0a1464"/><stop offset="0.12" stop-color="#082a7e"/>
<stop offset="0.25" stop-color="#0050a8"/><stop offset="0.36" stop-color="#0a78c0"/>
<stop offset="0.45" stop-color="#00a0a0"/><stop offset="0.52" stop-color="#00b050"/>
<stop offset="0.62" stop-color="#40c020"/><stop offset="0.67" stop-color="#a0d800"/>
<stop offset="0.70" stop-color="#f0f000"/><stop offset="0.77" stop-color="#ffb000"/>
<stop offset="0.84" stop-color="#ff4000"/><stop offset="0.88" stop-color="#ff0a0a"/>
<stop offset="1" stop-color="#ff0a0a"/></linearGradient></defs>
<rect x="321.5" y="144.5" width="214" height="5" fill="url(#spec)"/>
<line x1="458.6" y1="71.5" x2="482.5" y2="71.5" stroke="#1c1cff" stroke-width="1.3"/>
<text x="486.00" y="75.60" font-family='"Liberation Serif", serif' font-size="12.2" font-weight="bold" text-anchor="start" fill="#111" >AT-40</text>
<line x1="458.6" y1="86.0" x2="482.5" y2="86.0" stroke="#ff1a1a" stroke-width="1.3"/>
<text x="486.00" y="90.10" font-family='"Liberation Serif", serif' font-size="12.2" font-weight="bold" text-anchor="start" fill="#111" >AT-60</text>
<line x1="458.6" y1="100.2" x2="482.5" y2="100.2" stroke="#12961e" stroke-width="1.3"/>
<text x="486.00" y="104.30" font-family='"Liberation Serif", serif' font-size="12.2" font-weight="bold" text-anchor="start" fill="#111" >AT-80</text>
<line x1="458.6" y1="114.5" x2="482.5" y2="114.5" stroke="#111" stroke-width="1.3"/>
<text x="486.00" y="118.60" font-family='"Liberation Serif", serif' font-size="12.2" font-weight="bold" text-anchor="start" fill="#111" >AT-120</text>
<rect x="316.6" y="5.5" width="223.39999999999998" height="155.7" fill="none" stroke="#222" stroke-width="1.4"/>
<line x1="335.22" y1="161.2" x2="335.22" y2="159.2" stroke="#222" stroke-width="1.2"/>
<line x1="353.83" y1="161.2" x2="353.83" y2="158.0" stroke="#222" stroke-width="1.2"/>
<line x1="372.45" y1="161.2" x2="372.45" y2="159.2" stroke="#222" stroke-width="1.2"/>
<line x1="391.07" y1="161.2" x2="391.07" y2="158.0" stroke="#222" stroke-width="1.2"/>
<line x1="409.68" y1="161.2" x2="409.68" y2="159.2" stroke="#222" stroke-width="1.2"/>
<line x1="428.30" y1="161.2" x2="428.30" y2="158.0" stroke="#222" stroke-width="1.2"/>
<line x1="446.92" y1="161.2" x2="446.92" y2="159.2" stroke="#222" stroke-width="1.2"/>
<line x1="465.53" y1="161.2" x2="465.53" y2="158.0" stroke="#222" stroke-width="1.2"/>
<line x1="484.15" y1="161.2" x2="484.15" y2="159.2" stroke="#222" stroke-width="1.2"/>
<line x1="502.77" y1="161.2" x2="502.77" y2="158.0" stroke="#222" stroke-width="1.2"/>
<line x1="521.38" y1="161.2" x2="521.38" y2="159.2" stroke="#222" stroke-width="1.2"/>
<line x1="316.6" y1="146.35" x2="318.6" y2="146.35" stroke="#222" stroke-width="1.2"/>
<line x1="316.6" y1="131.50" x2="320.1" y2="131.50" stroke="#222" stroke-width="1.2"/>
<line x1="316.6" y1="116.65" x2="318.6" y2="116.65" stroke="#222" stroke-width="1.2"/>
<line x1="316.6" y1="101.80" x2="320.1" y2="101.80" stroke="#222" stroke-width="1.2"/>
<line x1="316.6" y1="86.95" x2="318.6" y2="86.95" stroke="#222" stroke-width="1.2"/>
<line x1="316.6" y1="72.10" x2="320.1" y2="72.10" stroke="#222" stroke-width="1.2"/>
<line x1="316.6" y1="57.25" x2="318.6" y2="57.25" stroke="#222" stroke-width="1.2"/>
<line x1="316.6" y1="42.40" x2="320.1" y2="42.40" stroke="#222" stroke-width="1.2"/>
<line x1="316.6" y1="27.55" x2="318.6" y2="27.55" stroke="#222" stroke-width="1.2"/>
<line x1="316.6" y1="12.70" x2="320.1" y2="12.70" stroke="#222" stroke-width="1.2"/>
<text x="312.20" y="164.60" font-family='"Liberation Serif", serif' font-size="10" font-weight="bold" text-anchor="end" fill="#111" >0.0</text>
<text x="312.20" y="134.90" font-family='"Liberation Serif", serif' font-size="10" font-weight="bold" text-anchor="end" fill="#111" >0.2</text>
<text x="312.20" y="105.20" font-family='"Liberation Serif", serif' font-size="10" font-weight="bold" text-anchor="end" fill="#111" >0.4</text>
<text x="312.20" y="75.50" font-family='"Liberation Serif", serif' font-size="10" font-weight="bold" text-anchor="end" fill="#111" >0.6</text>
<text x="312.20" y="45.80" font-family='"Liberation Serif", serif' font-size="10" font-weight="bold" text-anchor="end" fill="#111" >0.8</text>
<text x="312.20" y="16.10" font-family='"Liberation Serif", serif' font-size="10" font-weight="bold" text-anchor="end" fill="#111" >1.0</text>
<text x="316.60" y="173.50" font-family='"Liberation Serif", serif' font-size="10" font-weight="bold" text-anchor="middle" fill="#111" >200</text>
<text x="353.83" y="173.50" font-family='"Liberation Serif", serif' font-size="10" font-weight="bold" text-anchor="middle" fill="#111" >300</text>
<text x="391.07" y="173.50" font-family='"Liberation Serif", serif' font-size="10" font-weight="bold" text-anchor="middle" fill="#111" >400</text>
<text x="428.30" y="173.50" font-family='"Liberation Serif", serif' font-size="10" font-weight="bold" text-anchor="middle" fill="#111" >500</text>
<text x="465.53" y="173.50" font-family='"Liberation Serif", serif' font-size="10" font-weight="bold" text-anchor="middle" fill="#111" >600</text>
<text x="502.77" y="173.50" font-family='"Liberation Serif", serif' font-size="10" font-weight="bold" text-anchor="middle" fill="#111" >700</text>
<text x="540.00" y="173.50" font-family='"Liberation Serif", serif' font-size="10" font-weight="bold" text-anchor="middle" fill="#111" >800</text>
<text x="428.60" y="197.00" font-family='"Liberation Serif", serif' font-size="18.2" font-weight="bold" text-anchor="middle" fill="#111" >Wavelength (nm)</text>
<text x="0.00" y="0.00" font-family='"Liberation Serif", serif' font-size="16" font-weight="bold" text-anchor="middle" fill="#111" transform="translate(283.6,87.8) rotate(-90) scale(1,0.95)">Absorbance (a.u.)</text>
<rect x="6.4" y="204.6" width="21.6" height="20.099999999999994" fill="#fc1414"/><text x="17.20" y="220.10" font-family='"Liberation Serif", serif' font-size="18" font-weight="normal" text-anchor="middle" fill="#fff" >C</text>
<clipPath id="clipC"><rect x="35.6" y="205.3" width="222.8" height="163.3"/></clipPath>
<g clip-path="url(#clipC)">
<line x1="55.2" y1="369" x2="100.8" y2="300.5" stroke="#ff1a1a" stroke-width="1.1"/>
<line x1="64.5" y1="369" x2="100.5" y2="303.5" stroke="#16a01e" stroke-width="1.1"/>
<line x1="65.5" y1="369" x2="100.6" y2="314.5" stroke="#1c1cff" stroke-width="1.1"/>
<line x1="73.6" y1="369" x2="100.2" y2="327.5" stroke="#111" stroke-width="1.1"/>
<polyline points="36.10,359.73 36.50,359.70 36.90,359.53 37.30,359.26 37.70,359.02 38.10,358.90 38.50,358.87 38.90,358.68 39.30,358.53 39.70,358.38 40.10,358.23 40.50,358.08 40.90,357.79 41.30,357.58 41.70,357.39 42.10,357.17 42.50,357.10 42.90,357.07 43.30,356.99 43.70,356.78 44.10,356.50 44.50,356.29 44.90,356.18 45.30,356.09 45.70,355.85 46.10,355.70 46.50,355.60 46.90,355.30 47.30,355.15 47.70,355.08 48.10,354.86 48.50,354.67 48.90,354.62 49.30,354.55 49.70,354.39 50.10,354.09 50.50,353.80 50.90,353.74 51.30,353.55 51.70,353.31 52.10,353.11 52.50,353.08 52.90,353.06 53.30,352.82 53.70,352.62 54.10,352.41 54.50,352.21 54.90,352.10 55.30,351.92 55.70,351.79 56.10,351.64 56.50,351.37 56.90,351.29 57.30,351.16 57.70,350.96 58.10,350.79 58.50,350.48 58.90,350.37 59.30,350.25 59.70,350.11 60.10,349.93 60.50,349.61 60.90,349.53 61.30,349.48 61.70,349.30 62.10,349.04 62.50,348.91 62.90,348.72 63.30,348.48 63.70,348.35 64.10,348.18 64.50,348.09 64.90,347.90 65.30,347.72 65.70,347.61 66.10,347.33 66.50,347.06 66.90,346.96 67.30,346.81 67.70,346.67 68.10,346.44 68.50,346.28 68.90,346.25 69.30,346.03 69.70,345.75 70.10,345.59 70.50,345.46 70.90,345.31 71.30,345.17 71.70,345.00 72.10,344.81 72.50,344.68 72.90,344.41 73.30,344.11 73.70,344.08 74.10,343.89 74.50,343.73 74.90,343.57 75.30,343.36 75.70,343.21 76.10,343.01 76.50,342.89 76.90,342.74 77.30,342.54 77.70,342.48 78.10,342.33 78.50,342.00 78.90,341.87 79.30,341.77 79.70,341.58 80.10,341.41 80.50,341.07 80.90,340.79 81.30,340.64 81.70,340.32 82.10,340.01 82.50,339.59 82.90,339.28 83.30,339.25 83.70,338.92 84.10,338.54 84.50,338.37 84.90,338.16 85.30,337.96 85.70,337.57 86.10,337.23 86.50,337.09 86.90,336.75 87.30,336.44 87.70,336.33 88.10,336.13 88.50,335.80 88.90,335.33 89.30,335.03 89.70,334.90 90.10,334.61 90.50,334.30 90.90,334.18 91.30,333.88 91.70,333.38 92.10,333.11 92.50,332.85 92.90,332.52 93.30,332.24 93.70,332.00 94.10,331.71 94.50,331.30 94.90,330.95 95.30,330.70 95.70,330.34 96.10,330.02 96.50,329.72 96.90,329.24 97.30,328.85 97.70,328.63 98.10,328.33 98.50,327.86 98.90,327.45 99.30,327.03 99.70,326.51 100.10,325.99 100.50,325.94 100.90,325.48 101.30,324.95 101.70,324.43 102.10,323.83 102.50,323.37 102.90,323.18 103.30,322.55 103.70,322.03 104.10,321.12 104.50,320.23 104.90,320.42 105.30,320.47 105.70,319.67 106.10,318.71 106.50,317.84 106.90,317.42 107.30,317.34 107.70,316.40 108.10,315.82 108.50,315.73 108.90,315.17 109.30,314.29 109.70,313.79 110.10,313.20 110.50,312.92 110.90,312.79 111.30,311.71 111.70,311.50 112.10,311.54 112.50,310.61 112.90,310.37 113.30,309.81 113.70,308.90 114.10,308.92 114.50,307.86 114.90,307.33 115.30,307.35 115.70,306.64 116.10,305.93 116.50,305.53 116.90,305.04 117.30,304.27 117.70,303.94 118.10,303.40 118.50,303.38 118.90,302.87 119.30,301.87 119.70,301.62 120.10,301.31 120.50,301.08 120.90,300.79 121.30,300.10 121.70,299.42 122.10,299.12 122.50,299.05 122.90,298.88 123.30,298.30 123.70,297.42 124.10,297.75 124.50,298.17 124.90,297.49 125.30,297.09 125.70,296.65 126.10,296.09 126.50,295.87 126.90,295.79 127.30,295.46 127.70,294.93 128.10,294.74 128.50,294.93 128.90,294.63 129.30,294.24 129.70,293.61 130.10,293.29 130.50,293.44 130.90,292.93 131.30,292.27 131.70,292.35 132.10,292.26 132.50,291.98 132.90,291.77 133.30,291.50 133.70,291.23 134.10,290.46 134.50,290.23 134.90,290.21 135.30,290.10 135.70,289.81 136.10,289.31 136.50,289.35 136.90,289.44 137.30,289.16 137.70,288.88 138.10,288.55 138.50,288.24 138.90,288.08 139.30,287.76 139.70,287.35 140.10,287.07 140.50,287.40 140.90,287.19 141.30,286.42 141.70,286.17 142.10,286.05 142.50,286.02 142.90,285.61 143.30,284.95 143.70,285.10 144.10,285.02 144.50,284.85 144.90,285.08 145.30,285.12 145.70,285.30 146.10,284.96 146.50,284.29 146.90,283.78 147.30,283.56 147.70,283.67 148.10,283.22 148.50,283.07 148.90,283.36 149.30,283.33 149.70,283.08 150.10,282.79 150.50,282.52 150.90,282.21 151.30,281.80 151.70,281.75 152.10,282.31 152.50,282.14 152.90,281.68 153.30,281.24 153.70,281.30 154.10,281.16 154.50,280.84 154.90,280.85 155.30,280.27 155.70,280.29 156.10,280.33 156.50,279.95 156.90,279.87 157.30,279.64 157.70,279.27 158.10,279.19 158.50,279.00 158.90,278.73 159.30,278.50 159.70,277.98 160.10,277.82 160.50,277.88 160.90,277.89 161.30,278.13 161.70,277.61 162.10,277.23 162.50,276.98 162.90,276.58 163.30,276.83 163.70,276.42 164.10,275.98 164.50,276.39 164.90,276.69 165.30,276.49 165.70,276.16 166.10,276.53 166.50,276.54 166.90,275.72 167.30,276.00 167.70,276.20 168.10,275.60 168.50,275.59 168.90,275.58 169.30,275.32 169.70,275.20 170.10,274.69 170.50,274.72 170.90,274.85 171.30,274.27 171.70,273.92 172.10,274.23 172.50,274.18 172.90,273.84 173.30,273.94 173.70,273.82 174.10,273.19 174.50,273.17 174.90,273.59 175.30,273.50 175.70,273.52 176.10,273.27 176.50,272.95 176.90,273.09 177.30,272.71 177.70,272.61 178.10,272.93 178.50,272.58 178.90,272.46 179.30,272.34 179.70,271.59 180.10,271.51 180.50,271.64 180.90,271.33 181.30,271.14 181.70,271.20 182.10,271.14 182.50,270.53 182.90,270.37 183.30,270.54 183.70,270.11 184.10,269.70 184.50,269.63 184.90,269.44 185.30,269.45 185.70,269.67 186.10,269.87 186.50,269.76 186.90,269.41 187.30,269.25 187.70,269.17 188.10,268.68 188.50,268.38 188.90,268.39 189.30,268.06 189.70,267.73 190.10,267.50 190.50,267.39 190.90,267.07 191.30,267.10 191.70,267.22 192.10,266.98 192.50,266.91 192.90,266.90 193.30,266.54 193.70,266.21 194.10,265.83 194.50,265.20 194.90,264.98 195.30,265.67 195.70,265.55 196.10,265.16 196.50,265.75 196.90,265.39 197.30,265.28 197.70,265.64 198.10,265.34 198.50,265.31 198.90,265.09 199.30,264.23 199.70,264.06 200.10,263.96 200.50,263.39 200.90,263.04 201.30,263.68 201.70,263.68 202.10,262.98 202.50,262.79 202.90,262.65 203.30,262.58 203.70,262.29 204.10,261.90 204.50,261.50 204.90,261.44 205.30,261.65 205.70,262.12 206.10,262.12 206.50,261.89 206.90,261.59 207.30,260.99 207.70,260.42 208.10,260.27 208.50,259.91 208.90,259.67 209.30,260.35 209.70,260.33 210.10,260.04 210.50,259.71 210.90,258.98 211.30,258.79 211.70,258.84 212.10,259.05 212.50,259.41 212.90,258.81 213.30,258.11 213.70,258.07 214.10,257.91 214.50,257.49 214.90,257.42 215.30,257.61 215.70,257.51 216.10,256.98 216.50,256.70 216.90,256.41 217.30,256.47 217.70,256.47 218.10,256.03 218.50,255.99 218.90,255.75 219.30,255.44 219.70,255.00 220.10,255.46 220.50,255.74 220.90,255.24 221.30,255.49 221.70,255.23 222.10,254.71 222.50,254.57 222.90,254.54 223.30,254.47 223.70,254.11 224.10,253.76 224.50,253.58 224.90,253.73 225.30,253.03 225.70,252.57 226.10,252.77 226.50,252.56 226.90,252.04 227.30,252.10 227.70,252.18 228.10,251.79 228.50,251.70 228.90,251.20 229.30,251.04 229.70,250.83 230.10,250.55 230.50,250.72 230.90,250.76 231.30,250.67 231.70,250.47 232.10,250.76 232.50,250.72 232.90,249.79 233.30,249.38 233.70,249.34 234.10,249.26 234.50,249.10 234.90,248.78 235.30,249.11 235.70,249.14 236.10,248.53 236.50,248.29 236.90,248.14 237.30,248.34 237.70,248.33 238.10,248.09 238.50,247.11 238.90,246.76 239.30,247.52 239.70,247.70 240.10,247.28 240.50,246.25 240.90,246.17 241.30,246.21 241.70,245.46 242.10,245.24 242.50,245.66 242.90,245.86 243.30,245.57 243.70,244.84 244.10,245.03 244.50,244.79 244.90,243.99 245.30,243.71 245.70,243.81 246.10,244.02 246.50,243.71 246.90,243.41 247.30,242.98 247.70,242.78 248.10,242.16 248.50,242.13 248.90,242.55 249.30,242.04 249.70,241.65 250.10,241.65 250.50,241.86 250.90,241.77 251.30,241.32 251.70,241.01 252.10,240.57 252.50,240.45 252.90,240.71 253.30,240.69 253.70,240.60 254.10,240.73 254.50,240.71 254.90,240.51 255.30,240.47 255.70,240.35 256.10,240.10 256.50,240.07 256.90,239.61 257.30,239.72 257.70,239.76" fill="none" stroke="#111" stroke-width="1.6" stroke-linejoin="round" />
<polyline points="36.10,348.00 36.50,347.85 36.90,347.73 37.30,347.57 37.70,347.29 38.10,347.15 38.50,347.02 38.90,346.79 39.30,346.60 39.70,346.46 40.10,346.31 40.50,346.09 40.90,345.78 41.30,345.57 41.70,345.47 42.10,345.39 42.50,345.22 42.90,344.94 43.30,344.79 43.70,344.61 44.10,344.36 44.50,344.19 44.90,343.93 45.30,343.79 45.70,343.70 46.10,343.45 46.50,343.19 46.90,343.03 47.30,342.97 47.70,342.74 48.10,342.43 48.50,342.30 48.90,342.09 49.30,341.77 49.70,341.64 50.10,341.53 50.50,341.36 50.90,341.18 51.30,341.02 51.70,340.86 52.10,340.62 52.50,340.43 52.90,340.30 53.30,340.19 53.70,340.02 54.10,339.82 54.50,339.42 54.90,339.15 55.30,339.12 55.70,338.99 56.10,338.74 56.50,338.62 56.90,338.53 57.30,338.24 57.70,338.05 58.10,337.88 58.50,337.65 58.90,337.50 59.30,337.33 59.70,337.04 60.10,336.84 60.50,336.71 60.90,336.49 61.30,336.37 61.70,336.16 62.10,335.99 62.50,335.89 62.90,335.55 63.30,335.32 63.70,335.22 64.10,335.01 64.50,334.69 64.90,334.50 65.30,334.46 65.70,334.18 66.10,333.91 66.50,333.78 66.90,333.55 67.30,333.33 67.70,333.12 68.10,332.99 68.50,332.84 68.90,332.54 69.30,332.38 69.70,332.17 70.10,331.93 70.50,331.80 70.90,331.63 71.30,331.43 71.70,331.23 72.10,331.01 72.50,330.80 72.90,330.62 73.30,330.48 73.70,330.23 74.10,329.98 74.50,329.82 74.90,329.55 75.30,329.27 75.70,329.04 76.10,328.75 76.50,328.41 76.90,328.26 77.30,327.99 77.70,327.77 78.10,327.58 78.50,327.27 78.90,327.03 79.30,326.79 79.70,326.53 80.10,326.26 80.50,326.04 80.90,325.89 81.30,325.74 81.70,325.54 82.10,325.30 82.50,325.02 82.90,324.71 83.30,324.54 83.70,324.46 84.10,324.20 84.50,323.99 84.90,323.86 85.30,323.62 85.70,323.40 86.10,323.20 86.50,322.86 86.90,322.61 87.30,322.47 87.70,322.31 88.10,322.08 88.50,321.82 88.90,321.61 89.30,321.42 89.70,321.27 90.10,321.11 90.50,320.94 90.90,320.69 91.30,320.45 91.70,320.24 92.10,320.03 92.50,319.89 92.90,319.55 93.30,319.26 93.70,319.19 94.10,319.04 94.50,318.74 94.90,318.45 95.30,318.29 95.70,317.98 96.10,317.55 96.50,317.25 96.90,316.99 97.30,316.73 97.70,316.45 98.10,316.20 98.50,315.94 98.90,315.50 99.30,315.10 99.70,314.68 100.10,314.17 100.50,314.25 100.90,313.56 101.30,312.84 101.70,312.04 102.10,311.27 102.50,311.37 102.90,310.35 103.30,309.48 103.70,309.43 104.10,308.10 104.50,306.89 104.90,306.47 105.30,306.39 105.70,305.90 106.10,305.03 106.50,304.68 106.90,304.13 107.30,303.42 107.70,302.71 108.10,302.30 108.50,301.59 108.90,301.11 109.30,300.61 109.70,299.47 110.10,299.12 110.50,298.84 110.90,297.69 111.30,297.10 111.70,296.70 112.10,295.93 112.50,295.87 112.90,295.33 113.30,294.70 113.70,294.27 114.10,294.10 114.50,293.65 114.90,292.45 115.30,291.74 115.70,291.33 116.10,291.15 116.50,290.91 116.90,290.66 117.30,290.26 117.70,289.63 118.10,289.22 118.50,288.72 118.90,288.28 119.30,288.07 119.70,287.77 120.10,287.09 120.50,286.14 120.90,285.72 121.30,285.85 121.70,285.14 122.10,284.64 122.50,284.97 122.90,284.62 123.30,283.94 123.70,284.14 124.10,284.38 124.50,283.60 124.90,283.27 125.30,283.31 125.70,282.45 126.10,282.46 126.50,282.21 126.90,281.25 127.30,280.92 127.70,280.70 128.10,280.35 128.50,280.04 128.90,280.29 129.30,280.06 129.70,279.50 130.10,279.56 130.50,279.19 130.90,278.85 131.30,278.79 131.70,278.44 132.10,278.33 132.50,278.13 132.90,277.94 133.30,277.55 133.70,277.25 134.10,277.35 134.50,277.27 134.90,276.73 135.30,276.42 135.70,276.34 136.10,276.31 136.50,276.32 136.90,276.18 137.30,275.81 137.70,275.61 138.10,275.27 138.50,274.44 138.90,274.55 139.30,274.63 139.70,274.22 140.10,274.10 140.50,274.23 140.90,273.98 141.30,273.65 141.70,273.55 142.10,272.94 142.50,272.43 142.90,272.55 143.30,272.73 143.70,272.53 144.10,272.59 144.50,272.22 144.90,271.60 145.30,271.25 145.70,270.94 146.10,270.63 146.50,270.14 146.90,270.40 147.30,269.92 147.70,269.26 148.10,269.52 148.50,269.23 148.90,268.65 149.30,268.32 149.70,268.19 150.10,267.75 150.50,267.62 150.90,267.55 151.30,267.23 151.70,267.27 152.10,266.95 152.50,266.69 152.90,266.58 153.30,266.38 153.70,266.33 154.10,266.08 154.50,265.64 154.90,265.21 155.30,265.03 155.70,265.04 156.10,265.20 156.50,265.19 156.90,264.71 157.30,264.28 157.70,263.83 158.10,263.10 158.50,263.07 158.90,263.22 159.30,262.87 159.70,262.43 160.10,262.72 160.50,262.77 160.90,262.11 161.30,262.65 161.70,262.92 162.10,262.17 162.50,262.14 162.90,261.89 163.30,261.94 163.70,261.62 164.10,260.82 164.50,260.98 164.90,260.95 165.30,261.15 165.70,260.81 166.10,260.18 166.50,260.44 166.90,260.58 167.30,260.60 167.70,260.40 168.10,260.52 168.50,260.19 168.90,259.58 169.30,259.73 169.70,259.47 170.10,259.06 170.50,258.88 170.90,258.65 171.30,258.35 171.70,258.22 172.10,257.97 172.50,258.03 172.90,257.87 173.30,258.10 173.70,258.69 174.10,258.32 174.50,257.74 174.90,257.22 175.30,257.39 175.70,257.41 176.10,257.11 176.50,256.76 176.90,256.72 177.30,256.55 177.70,256.19 178.10,255.83 178.50,255.51 178.90,255.86 179.30,255.75 179.70,255.38 180.10,255.50 180.50,255.42 180.90,255.35 181.30,254.66 181.70,254.33 182.10,254.82 182.50,254.17 182.90,253.59 183.30,253.96 183.70,253.84 184.10,253.33 184.50,253.53 184.90,253.43 185.30,253.23 185.70,252.94 186.10,252.73 186.50,252.99 186.90,252.82 187.30,251.92 187.70,251.82 188.10,252.15 188.50,251.63 188.90,251.76 189.30,251.40 189.70,251.33 190.10,251.41 190.50,251.17 190.90,251.13 191.30,250.31 191.70,250.17 192.10,250.37 192.50,250.30 192.90,250.29 193.30,249.79 193.70,249.49 194.10,249.69 194.50,249.34 194.90,248.80 195.30,248.47 195.70,248.68 196.10,248.90 196.50,248.37 196.90,247.72 197.30,248.01 197.70,247.79 198.10,247.38 198.50,247.38 198.90,246.77 199.30,246.81 199.70,246.98 200.10,247.09 200.50,247.46 200.90,246.91 201.30,246.44 201.70,246.52 202.10,245.98 202.50,245.36 202.90,245.65 203.30,245.57 203.70,245.01 204.10,244.84 204.50,244.62 204.90,244.36 205.30,244.36 205.70,244.59 206.10,244.14 206.50,243.36 206.90,243.27 207.30,243.05 207.70,242.70 208.10,243.12 208.50,243.59 208.90,243.21 209.30,242.26 209.70,242.15 210.10,241.70 210.50,241.18 210.90,241.83 211.30,241.96 211.70,241.12 212.10,240.39 212.50,240.69 212.90,240.86 213.30,240.35 213.70,240.26 214.10,240.07 214.50,239.36 214.90,239.47 215.30,239.57 215.70,238.97 216.10,238.62 216.50,238.71 216.90,238.64 217.30,238.53 217.70,238.46 218.10,238.37 218.50,238.15 218.90,237.57 219.30,237.00 219.70,236.68 220.10,237.05 220.50,237.74 220.90,237.04 221.30,235.85 221.70,235.93 222.10,235.99 222.50,235.48 222.90,235.11 223.30,234.62 223.70,234.26 224.10,234.54 224.50,234.69 224.90,234.17 225.30,233.47 225.70,233.33 226.10,233.35 226.50,233.08 226.90,232.39 227.30,232.08 227.70,232.18 228.10,231.66 228.50,230.87 228.90,230.86 229.30,230.96 229.70,230.78 230.10,230.44 230.50,229.80 230.90,229.40 231.30,229.04 231.70,228.64 232.10,228.47 232.50,228.29 232.90,228.39 233.30,227.94 233.70,227.40 234.10,227.26 234.50,227.33 234.90,227.24 235.30,226.54 235.70,226.39 236.10,226.20 236.50,225.64 236.90,225.68 237.30,225.67 237.70,225.43 238.10,225.25 238.50,224.76 238.90,224.25 239.30,223.55 239.70,223.39 240.10,223.36 240.50,223.06 240.90,222.75 241.30,222.15 241.70,221.63 242.10,221.64 242.50,221.85 242.90,221.33 243.30,220.84 243.70,220.92 244.10,220.33 244.50,219.64 244.90,219.28 245.30,219.32 245.70,219.33 246.10,218.66 246.50,217.93 246.90,217.70 247.30,217.99 247.70,217.66 248.10,217.05 248.50,216.95 248.90,216.48 249.30,216.06 249.70,216.20 250.10,215.75 250.50,215.19 250.90,215.18 251.30,215.12 251.70,214.80 252.10,214.65 252.50,214.54 252.90,214.07 253.30,213.66 253.70,213.75 254.10,213.94 254.50,213.93 254.90,213.27 255.30,213.00 255.70,213.14 256.10,212.68 256.50,212.40 256.90,212.41 257.30,212.55 257.70,212.01" fill="none" stroke="#1c1cff" stroke-width="1.6" stroke-linejoin="round" />
<polyline points="36.10,337.52 36.50,337.33 36.90,337.11 37.30,336.96 37.70,336.75 38.10,336.39 38.50,336.08 38.90,335.88 39.30,335.57 39.70,335.35 40.10,335.16 40.50,334.87 40.90,334.63 41.30,334.46 41.70,334.19 42.10,333.83 42.50,333.65 42.90,333.39 43.30,333.02 43.70,332.72 44.10,332.55 44.50,332.37 44.90,332.09 45.30,331.83 45.70,331.54 46.10,331.24 46.50,330.95 46.90,330.76 47.30,330.54 47.70,330.35 48.10,330.05 48.50,329.69 48.90,329.42 49.30,329.26 49.70,328.99 50.10,328.70 50.50,328.58 50.90,328.28 51.30,327.99 51.70,327.63 52.10,327.32 52.50,327.09 52.90,326.86 53.30,326.69 53.70,326.39 54.10,326.18 54.50,325.98 54.90,325.65 55.30,325.35 55.70,325.05 56.10,324.81 56.50,324.73 56.90,324.45 57.30,324.11 57.70,323.86 58.10,323.62 58.50,323.42 58.90,323.11 59.30,322.76 59.70,322.51 60.10,322.44 60.50,322.23 60.90,322.00 61.30,321.79 61.70,321.48 62.10,321.34 62.50,321.26 62.90,321.02 63.30,320.80 63.70,320.65 64.10,320.46 64.50,320.27 64.90,320.10 65.30,319.78 65.70,319.59 66.10,319.49 66.50,319.27 66.90,319.13 67.30,318.96 67.70,318.78 68.10,318.67 68.50,318.46 68.90,318.15 69.30,317.91 69.70,317.85 70.10,317.68 70.50,317.41 70.90,317.23 71.30,317.11 71.70,316.94 72.10,316.76 72.50,316.51 72.90,316.28 73.30,316.12 73.70,315.95 74.10,315.67 74.50,315.47 74.90,315.32 75.30,315.21 75.70,315.16 76.10,314.99 76.50,314.77 76.90,314.47 77.30,314.29 77.70,314.12 78.10,313.91 78.50,313.69 78.90,313.44 79.30,313.32 79.70,313.24 80.10,313.03 80.50,312.85 80.90,312.79 81.30,312.42 81.70,312.08 82.10,311.90 82.50,311.69 82.90,311.51 83.30,311.32 83.70,311.19 84.10,311.04 84.50,310.80 84.90,310.56 85.30,310.34 85.70,310.14 86.10,309.96 86.50,309.75 86.90,309.54 87.30,309.26 87.70,309.07 88.10,309.01 88.50,308.77 88.90,308.41 89.30,308.26 89.70,308.11 90.10,307.68 90.50,307.48 90.90,307.45 91.30,307.27 91.70,307.09 92.10,306.90 92.50,306.64 92.90,306.30 93.30,306.03 93.70,305.93 94.10,305.80 94.50,305.50 94.90,305.18 95.30,304.97 95.70,304.62 96.10,304.19 96.50,303.94 96.90,303.71 97.30,303.33 97.70,302.81 98.10,302.42 98.50,302.02 98.90,301.57 99.30,301.10 99.70,300.50 100.10,300.09 100.50,299.29 100.90,298.68 101.30,298.39 101.70,297.60 102.10,296.92 102.50,296.00 102.90,295.21 103.30,294.72 103.70,293.60 104.10,292.82 104.50,292.21 104.90,291.39 105.30,290.80 105.70,290.42 106.10,289.59 106.50,288.63 106.90,287.62 107.30,286.87 107.70,286.70 108.10,286.10 108.50,285.20 108.90,284.16 109.30,283.11 109.70,282.51 110.10,281.75 110.50,280.84 110.90,280.72 111.30,280.18 111.70,279.77 112.10,279.07 112.50,278.17 112.90,277.64 113.30,276.99 113.70,276.43 114.10,275.82 114.50,275.47 114.90,274.85 115.30,274.50 115.70,274.47 116.10,273.78 116.50,273.23 116.90,272.97 117.30,272.36 117.70,272.42 118.10,271.54 118.50,270.49 118.90,270.16 119.30,269.85 119.70,269.82 120.10,270.36 120.50,270.13 120.90,269.32 121.30,269.19 121.70,268.36 122.10,267.84 122.50,267.97 122.90,267.57 123.30,266.91 123.70,266.65 124.10,265.94 124.50,265.33 124.90,265.43 125.30,265.44 125.70,264.88 126.10,264.42 126.50,264.34 126.90,264.12 127.30,264.04 127.70,263.84 128.10,263.47 128.50,262.88 128.90,262.35 129.30,262.49 129.70,262.14 130.10,261.90 130.50,261.89 130.90,261.44 131.30,261.53 131.70,261.37 132.10,260.84 132.50,260.65 132.90,260.66 133.30,261.23 133.70,260.56 134.10,259.75 134.50,259.97 134.90,260.00 135.30,259.78 135.70,258.82 136.10,259.01 136.50,259.12 136.90,258.62 137.30,258.37 137.70,257.94 138.10,257.95 138.50,258.19 138.90,258.30 139.30,257.77 139.70,257.50 140.10,257.34 140.50,257.04 140.90,256.94 141.30,256.83 141.70,256.44 142.10,256.05 142.50,256.01 142.90,255.83 143.30,255.38 143.70,255.52 144.10,255.37 144.50,254.93 144.90,254.86 145.30,254.74 145.70,253.98 146.10,253.94 146.50,254.16 146.90,253.20 147.30,253.05 147.70,253.61 148.10,253.47 148.50,252.46 148.90,252.03 149.30,252.39 149.70,251.98 150.10,251.45 150.50,251.52 150.90,251.87 151.30,251.71 151.70,251.37 152.10,251.13 152.50,250.51 152.90,250.73 153.30,250.90 153.70,250.13 154.10,249.99 154.50,250.36 154.90,249.93 155.30,249.68 155.70,249.73 156.10,249.42 156.50,249.08 156.90,248.88 157.30,248.80 157.70,248.50 158.10,248.40 158.50,248.21 158.90,248.08 159.30,248.24 159.70,247.83 160.10,247.86 160.50,248.35 160.90,248.27 161.30,247.35 161.70,247.14 162.10,247.30 162.50,246.81 162.90,246.43 163.30,246.25 163.70,246.50 164.10,246.43 164.50,245.83 164.90,245.37 165.30,245.17 165.70,245.26 166.10,245.57 166.50,245.01 166.90,244.40 167.30,244.36 167.70,244.00 168.10,243.98 168.50,244.07 168.90,243.47 169.30,242.93 169.70,243.32 170.10,243.42 170.50,243.08 170.90,242.70 171.30,242.31 171.70,242.33 172.10,242.11 172.50,241.56 172.90,241.48 173.30,241.74 173.70,241.31 174.10,241.15 174.50,241.34 174.90,240.72 175.30,240.37 175.70,240.36 176.10,240.31 176.50,240.27 176.90,239.65 177.30,239.00 177.70,239.33 178.10,239.46 178.50,239.13 178.90,238.99 179.30,239.04 179.70,238.50 180.10,238.21 180.50,238.11 180.90,237.83 181.30,238.12 181.70,237.46 182.10,237.06 182.50,237.11 182.90,236.77 183.30,236.65 183.70,236.28 184.10,235.87 184.50,236.06 184.90,236.27 185.30,235.80 185.70,235.10 186.10,235.55 186.50,235.92 186.90,235.30 187.30,234.63 187.70,234.23 188.10,234.32 188.50,234.05 188.90,234.16 189.30,234.21 189.70,233.75 190.10,233.30 190.50,232.81 190.90,232.68 191.30,232.75 191.70,232.67 192.10,232.35 192.50,232.29 192.90,232.21 193.30,232.28 193.70,231.99 194.10,231.25 194.50,231.10 194.90,231.45 195.30,231.14 195.70,230.64 196.10,230.49 196.50,230.38 196.90,230.32 197.30,229.86 197.70,229.56 198.10,229.75 198.50,229.86 198.90,229.66 199.30,229.42 199.70,228.95 200.10,228.48 200.50,228.57 200.90,228.19 201.30,227.78 201.70,227.44 202.10,227.17 202.50,227.23 202.90,226.86 203.30,226.95 203.70,226.86 204.10,226.45 204.50,226.36 204.90,226.09 205.30,226.27 205.70,226.13 206.10,225.66 206.50,225.29 206.90,224.95 207.30,224.97 207.70,224.81 208.10,224.56 208.50,224.47 208.90,224.75 209.30,224.49 209.70,223.92 210.10,223.67 210.50,224.07 210.90,224.32 211.30,223.68 211.70,223.29 212.10,222.82 212.50,222.43 212.90,222.44 213.30,222.31 213.70,221.88 214.10,221.49 214.50,221.59 214.90,221.64 215.30,220.87 215.70,220.63 216.10,221.18 216.50,220.82 216.90,220.40 217.30,220.03 217.70,219.96 218.10,219.85 218.50,219.19 218.90,219.17 219.30,219.77 219.70,219.49 220.10,218.46 220.50,218.47 220.90,218.56 221.30,218.57 221.70,217.98 222.10,217.01 222.50,216.96 222.90,217.14 223.30,217.04 223.70,216.94 224.10,216.27 224.50,215.59 224.90,215.64 225.30,215.75 225.70,215.63 226.10,215.09 226.50,214.51 226.90,214.54 227.30,214.72 227.70,214.87 228.10,214.36 228.50,213.87 228.90,213.38 229.30,212.65 229.70,212.51 230.10,212.27 230.50,211.97 230.90,211.70 231.30,211.62 231.70,211.39 232.10,211.29 232.50,211.11 232.90,210.71 233.30,210.80 233.70,210.61 234.10,210.07 234.50,209.74 234.90,209.46 235.30,209.33 235.70,208.89 236.10,208.76 236.50,209.03 236.90,208.77 237.30,208.06 237.70,207.20 238.10,206.96 238.50,207.08 238.90,207.11 239.30,206.78 239.70,206.27 240.10,206.39 240.50,206.06 240.90,205.70 241.30,205.80 241.70,205.02 242.10,204.65 242.50,204.63 242.90,204.21 243.30,203.81 243.70,203.59 244.10,204.04 244.50,204.29 244.90,204.26 245.30,204.11 245.70,203.98 246.10,204.16 246.50,203.89 246.90,203.58 247.30,204.02 247.70,204.42 248.10,204.11 248.50,204.06 248.90,204.41 249.30,204.84 249.70,204.49 250.10,204.23 250.50,204.89 250.90,204.77 251.30,204.62 251.70,204.04 252.10,204.04 252.50,204.60 252.90,203.87 253.30,204.05 253.70,204.69 254.10,204.78 254.50,204.82 254.90,204.54 255.30,204.12 255.70,204.02 256.10,204.18 256.50,204.37 256.90,204.27 257.30,204.19 257.70,204.49" fill="none" stroke="#ff1a1a" stroke-width="1.6" stroke-linejoin="round" />
<polyline points="36.10,339.53 36.50,339.49 36.90,339.41 37.30,339.04 37.70,338.67 38.10,338.42 38.50,338.15 38.90,338.01 39.30,337.78 39.70,337.46 40.10,337.26 40.50,337.11 40.90,336.87 41.30,336.57 41.70,336.40 42.10,336.20 42.50,335.94 42.90,335.73 43.30,335.42 43.70,335.14 44.10,334.93 44.50,334.73 44.90,334.56 45.30,334.22 45.70,334.01 46.10,333.77 46.50,333.52 46.90,333.35 47.30,333.01 47.70,332.71 48.10,332.50 48.50,332.31 48.90,332.06 49.30,331.85 49.70,331.58 50.10,331.31 50.50,331.14 50.90,330.81 51.30,330.59 51.70,330.38 52.10,330.01 52.50,329.80 52.90,329.67 53.30,329.51 53.70,329.26 54.10,329.05 54.50,328.91 54.90,328.65 55.30,328.41 55.70,328.13 56.10,327.80 56.50,327.58 56.90,327.42 57.30,327.16 57.70,326.86 58.10,326.54 58.50,326.34 58.90,326.20 59.30,325.88 59.70,325.65 60.10,325.55 60.50,325.34 60.90,325.15 61.30,325.02 61.70,324.74 62.10,324.52 62.50,324.44 62.90,324.33 63.30,324.21 63.70,323.90 64.10,323.66 64.50,323.62 64.90,323.51 65.30,323.39 65.70,323.11 66.10,322.84 66.50,322.66 66.90,322.55 67.30,322.37 67.70,322.22 68.10,322.16 68.50,321.95 68.90,321.63 69.30,321.40 69.70,321.38 70.10,321.17 70.50,320.95 70.90,320.85 71.30,320.73 71.70,320.58 72.10,320.38 72.50,320.18 72.90,319.99 73.30,319.84 73.70,319.70 74.10,319.53 74.50,319.38 74.90,319.13 75.30,318.97 75.70,318.88 76.10,318.70 76.50,318.54 76.90,318.36 77.30,318.26 77.70,318.02 78.10,317.78 78.50,317.63 78.90,317.46 79.30,317.21 79.70,317.01 80.10,316.88 80.50,316.65 80.90,316.45 81.30,316.20 81.70,316.05 82.10,315.93 82.50,315.74 82.90,315.45 83.30,315.08 83.70,314.92 84.10,314.67 84.50,314.45 84.90,314.28 85.30,314.03 85.70,313.86 86.10,313.66 86.50,313.52 86.90,313.32 87.30,312.95 87.70,312.75 88.10,312.52 88.50,312.26 88.90,312.04 89.30,311.77 89.70,311.67 90.10,311.46 90.50,311.13 90.90,310.89 91.30,310.67 91.70,310.53 92.10,310.25 92.50,309.88 92.90,309.72 93.30,309.47 93.70,309.18 94.10,309.05 94.50,308.78 94.90,308.38 95.30,308.00 95.70,307.60 96.10,307.20 96.50,306.82 96.90,306.47 97.30,306.02 97.70,305.42 98.10,304.78 98.50,304.26 98.90,303.57 99.30,302.80 99.70,302.08 100.10,300.95 100.50,299.91 100.90,299.29 101.30,298.16 101.70,296.86 102.10,296.05 102.50,295.25 102.90,294.07 103.30,293.27 103.70,292.48 104.10,291.17 104.50,290.19 104.90,289.15 105.30,288.10 105.70,287.61 106.10,287.01 106.50,285.90 106.90,285.26 107.30,284.30 107.70,283.39 108.10,282.73 108.50,281.57 108.90,280.91 109.30,279.98 109.70,279.18 110.10,278.56 110.50,277.78 110.90,277.57 111.30,276.92 111.70,275.81 112.10,275.00 112.50,274.38 112.90,273.45 113.30,272.62 113.70,272.22 114.10,271.92 114.50,270.88 114.90,270.13 115.30,270.03 115.70,269.49 116.10,268.60 116.50,268.26 116.90,267.68 117.30,267.06 117.70,267.14 118.10,266.01 118.50,265.18 118.90,265.17 119.30,264.65 119.70,263.91 120.10,263.32 120.50,262.72 120.90,262.38 121.30,262.38 121.70,261.80 122.10,261.07 122.50,260.70 122.90,260.50 123.30,260.20 123.70,259.78 124.10,259.38 124.50,258.73 124.90,257.75 125.30,257.83 125.70,258.41 126.10,257.65 126.50,256.89 126.90,256.97 127.30,257.03 127.70,256.81 128.10,256.59 128.50,256.14 128.90,255.65 129.30,255.47 129.70,255.01 130.10,254.92 130.50,254.91 130.90,254.61 131.30,254.16 131.70,253.95 132.10,253.58 132.50,253.21 132.90,252.64 133.30,252.11 133.70,252.62 134.10,252.52 134.50,252.17 134.90,251.69 135.30,251.77 135.70,252.04 136.10,251.47 136.50,251.20 136.90,251.06 137.30,251.05 137.70,250.80 138.10,249.94 138.50,249.61 138.90,250.00 139.30,249.96 139.70,249.37 140.10,249.17 140.50,249.09 140.90,248.89 141.30,248.32 141.70,247.79 142.10,248.10 142.50,248.05 142.90,247.79 143.30,248.08 143.70,247.74 144.10,247.17 144.50,246.93 144.90,246.54 145.30,246.46 145.70,246.08 146.10,245.44 146.50,245.87 146.90,246.12 147.30,245.88 147.70,245.73 148.10,245.33 148.50,245.26 148.90,245.19 149.30,244.59 149.70,244.50 150.10,244.37 150.50,243.96 150.90,244.55 151.30,244.34 151.70,243.96 152.10,243.68 152.50,243.26 152.90,243.17 153.30,242.94 153.70,242.56 154.10,242.08 154.50,242.16 154.90,241.83 155.30,241.39 155.70,241.69 156.10,241.56 156.50,241.04 156.90,240.74 157.30,240.79 157.70,240.77 158.10,240.58 158.50,240.44 158.90,240.63 159.30,240.39 159.70,239.37 160.10,239.31 160.50,239.56 160.90,239.39 161.30,238.85 161.70,238.89 162.10,239.05 162.50,238.61 162.90,238.09 163.30,238.03 163.70,238.18 164.10,238.19 164.50,237.94 164.90,237.19 165.30,237.13 165.70,237.02 166.10,236.90 166.50,236.68 166.90,236.39 167.30,236.39 167.70,236.23 168.10,235.99 168.50,235.64 168.90,235.56 169.30,235.43 169.70,235.30 170.10,235.18 170.50,234.48 170.90,234.35 171.30,234.96 171.70,234.86 172.10,234.51 172.50,234.36 172.90,233.95 173.30,233.38 173.70,233.48 174.10,233.82 174.50,233.58 174.90,233.27 175.30,233.05 175.70,232.77 176.10,232.56 176.50,232.39 176.90,232.22 177.30,231.84 177.70,231.45 178.10,231.60 178.50,231.48 178.90,230.65 179.30,230.57 179.70,230.42 180.10,230.62 180.50,231.08 180.90,230.63 181.30,230.13 181.70,229.55 182.10,229.46 182.50,229.52 182.90,229.20 183.30,229.04 183.70,229.16 184.10,229.07 184.50,228.50 184.90,227.71 185.30,227.75 185.70,227.88 186.10,227.78 186.50,228.09 186.90,228.16 187.30,227.67 187.70,227.36 188.10,227.47 188.50,227.04 188.90,226.56 189.30,226.54 189.70,226.28 190.10,225.80 190.50,225.45 190.90,225.37 191.30,225.20 191.70,225.18 192.10,225.05 192.50,225.01 192.90,225.15 193.30,224.37 193.70,224.15 194.10,224.14 194.50,224.01 194.90,224.02 195.30,223.52 195.70,223.36 196.10,223.06 196.50,222.80 196.90,222.81 197.30,222.51 197.70,222.32 198.10,221.95 198.50,221.79 198.90,221.55 199.30,221.37 199.70,221.54 200.10,221.36 200.50,220.94 200.90,221.24 201.30,221.11 201.70,220.29 202.10,219.97 202.50,220.04 202.90,219.90 203.30,219.60 203.70,219.29 204.10,218.94 204.50,218.86 204.90,218.79 205.30,218.61 205.70,218.02 206.10,217.97 206.50,217.70 206.90,217.20 207.30,217.41 207.70,217.01 208.10,216.81 208.50,216.92 208.90,216.36 209.30,216.29 209.70,216.42 210.10,216.04 210.50,215.66 210.90,215.75 211.30,215.75 211.70,215.36 212.10,214.83 212.50,214.44 212.90,214.27 213.30,214.41 213.70,214.46 214.10,214.18 214.50,214.15 214.90,213.81 215.30,213.23 215.70,213.01 216.10,213.30 216.50,212.74 216.90,212.19 217.30,212.52 217.70,212.27 218.10,212.46 218.50,212.50 218.90,211.95 219.30,211.28 219.70,210.96 220.10,210.78 220.50,210.38 220.90,210.16 221.30,209.69 221.70,209.40 222.10,209.47 222.50,209.17 222.90,208.49 223.30,207.48 223.70,207.28 224.10,207.54 224.50,206.89 224.90,206.17 225.30,205.97 225.70,205.58 226.10,205.33 226.50,205.06 226.90,204.53 227.30,204.66 227.70,204.49 228.10,204.49 228.50,204.91 228.90,204.63 229.30,204.71 229.70,204.87 230.10,204.79 230.50,204.96 230.90,204.74 231.30,204.59 231.70,204.32 232.10,204.29 232.50,204.49 232.90,204.98 233.30,205.36 233.70,204.72 234.10,204.68 234.50,205.01 234.90,204.76 235.30,204.81 235.70,205.06 236.10,204.84 236.50,204.62 236.90,204.77 237.30,204.62 237.70,204.63 238.10,204.82 238.50,204.64 238.90,204.48 239.30,204.68 239.70,205.05 240.10,205.05 240.50,204.69 240.90,204.78 241.30,204.99 241.70,204.96 242.10,205.17 242.50,204.85 242.90,204.58 243.30,204.64 243.70,204.49 244.10,205.04 244.50,205.42 244.90,204.62 245.30,204.52 245.70,204.77 246.10,204.92 246.50,205.06 246.90,204.78 247.30,204.79 247.70,204.91 248.10,204.89 248.50,204.76 248.90,204.72 249.30,204.88 249.70,204.67 250.10,204.56 250.50,204.77 250.90,204.67 251.30,204.85 251.70,204.68 252.10,204.45 252.50,204.54 252.90,204.73 253.30,204.82 253.70,204.71 254.10,204.89 254.50,204.54 254.90,204.56 255.30,204.74 255.70,204.59 256.10,204.72 256.50,204.95 256.90,205.12 257.30,205.33 257.70,205.21" fill="none" stroke="#16a01e" stroke-width="1.6" stroke-linejoin="round" />
</g>
<rect x="35.6" y="205.3" width="222.79999999999998" height="163.3" fill="none" stroke="#222" stroke-width="1.4"/>
<line x1="63.45" y1="368.6" x2="63.45" y2="365.20000000000005" stroke="#222" stroke-width="1.2"/>
<line x1="91.30" y1="368.6" x2="91.30" y2="365.20000000000005" stroke="#222" stroke-width="1.2"/>
<line x1="119.15" y1="368.6" x2="119.15" y2="365.20000000000005" stroke="#222" stroke-width="1.2"/>
<line x1="147.00" y1="368.6" x2="147.00" y2="365.20000000000005" stroke="#222" stroke-width="1.2"/>
<line x1="174.85" y1="368.6" x2="174.85" y2="365.20000000000005" stroke="#222" stroke-width="1.2"/>
<line x1="202.70" y1="368.6" x2="202.70" y2="365.20000000000005" stroke="#222" stroke-width="1.2"/>
<line x1="230.55" y1="368.6" x2="230.55" y2="365.20000000000005" stroke="#222" stroke-width="1.2"/>
<text x="35.60" y="380.80" font-family='"Liberation Serif", serif' font-size="9.6" font-weight="bold" text-anchor="middle" fill="#111" >2.0</text>
<text x="63.45" y="380.80" font-family='"Liberation Serif", serif' font-size="9.6" font-weight="bold" text-anchor="middle" fill="#111" >2.5</text>
<text x="91.30" y="380.80" font-family='"Liberation Serif", serif' font-size="9.6" font-weight="bold" text-anchor="middle" fill="#111" >3.0</text>
<text x="119.15" y="380.80" font-family='"Liberation Serif", serif' font-size="9.6" font-weight="bold" text-anchor="middle" fill="#111" >3.5</text>
<text x="147.00" y="380.80" font-family='"Liberation Serif", serif' font-size="9.6" font-weight="bold" text-anchor="middle" fill="#111" >4.0</text>
<text x="174.85" y="380.80" font-family='"Liberation Serif", serif' font-size="9.6" font-weight="bold" text-anchor="middle" fill="#111" >4.5</text>
<text x="202.70" y="380.80" font-family='"Liberation Serif", serif' font-size="9.6" font-weight="bold" text-anchor="middle" fill="#111" >5.0</text>
<text x="230.55" y="380.80" font-family='"Liberation Serif", serif' font-size="9.6" font-weight="bold" text-anchor="middle" fill="#111" >5.5</text>
<text x="258.40" y="380.80" font-family='"Liberation Serif", serif' font-size="9.6" font-weight="bold" text-anchor="middle" fill="#111" >6.0</text>
<text x="150.50" y="402.60" font-family='"Liberation Serif", serif' font-size="18" font-weight="bold" text-anchor="middle" fill="#111" >hv (eV)</text>
<g transform="translate(23.6,317.8) rotate(-90) scale(1,0.88)"><text x="0.00" y="0.00" font-family='"Liberation Serif", serif' font-size="16.2" font-weight="bold" text-anchor="start" fill="#111" >(Ahv)<tspan font-size="10.6" dy="-3.0" dx="1.6">1/2</tspan></text></g>
<line x1="178.6" y1="301.0" x2="198.4" y2="301.0" stroke="#1c1cff" stroke-width="1.3"/>
<text x="200.70" y="304.60" font-family='"Liberation Serif", serif' font-size="10.6" font-weight="bold" text-anchor="start" fill="#111" >AT-40</text>
<line x1="178.6" y1="313.0" x2="198.4" y2="313.0" stroke="#ff1a1a" stroke-width="1.3"/>
<text x="200.70" y="316.60" font-family='"Liberation Serif", serif' font-size="10.6" font-weight="bold" text-anchor="start" fill="#111" >AT-60</text>
<line x1="178.6" y1="325.4" x2="198.4" y2="325.4" stroke="#16a01e" stroke-width="1.3"/>
<text x="200.70" y="329.00" font-family='"Liberation Serif", serif' font-size="10.6" font-weight="bold" text-anchor="start" fill="#111" >AT-80</text>
<line x1="178.6" y1="337.4" x2="198.4" y2="337.4" stroke="#111" stroke-width="1.3"/>
<text x="200.70" y="341.00" font-family='"Liberation Serif", serif' font-size="10.6" font-weight="bold" text-anchor="start" fill="#111" >AT-120</text>
<rect x="271.3" y="204.6" width="21.099999999999966" height="19.099999999999994" fill="#fc1414"/><text x="281.85" y="219.10" font-family='"Liberation Serif", serif' font-size="18" font-weight="normal" text-anchor="middle" fill="#fff" >D</text>
<polyline points="313.80,316.02 314.10,316.15 314.40,316.91 314.70,318.19 315.00,318.26 315.30,317.39 315.60,317.62 315.90,318.30 316.20,318.44 316.50,318.18 316.80,317.12 317.10,317.48 317.40,319.59 317.70,320.23 318.00,318.81 318.30,318.96 318.60,319.41 318.90,320.68 319.20,321.98 319.50,320.58 319.80,321.13 320.10,321.58 320.40,321.69 320.70,322.32 321.00,321.64 321.30,322.18 321.60,322.30 321.90,322.85 322.20,323.77 322.50,322.76 322.80,322.00 323.10,323.56 323.40,325.44 323.70,324.17 324.00,324.47 324.30,325.40 324.60,324.65 324.90,324.72 325.20,324.90 325.50,325.88 325.80,326.30 326.10,324.82 326.40,326.02 326.70,327.63 327.00,326.20 327.30,325.76 327.60,326.06 327.90,326.47 328.20,327.34 328.50,327.64 328.80,327.33 329.10,327.00 329.40,327.94 329.70,328.50 330.00,329.41 330.30,329.24 330.60,328.68 330.90,329.30 331.20,328.69 331.50,329.55 331.80,330.18 332.10,329.21 332.40,329.16 332.70,330.33 333.00,330.04 333.30,330.41 333.60,331.57 333.90,330.90 334.20,331.43 334.50,332.65 334.80,332.44 335.10,331.81 335.40,332.63 335.70,333.50 336.00,332.25 336.30,331.56 336.60,332.10 336.90,332.18 337.20,331.70 337.50,332.56 337.80,333.55 338.10,333.32 338.40,334.18 338.70,334.02 339.00,333.44 339.30,334.04 339.60,334.01 339.90,333.97 340.20,334.74 340.50,334.94 340.80,335.37 341.10,335.12 341.40,334.66 341.70,334.44 342.00,334.40 342.30,334.90 342.60,335.79 342.90,336.66 343.20,336.34 343.50,337.03 343.80,337.64 344.10,337.18 344.40,336.20 344.70,335.20 345.00,335.67 345.30,336.35 345.60,336.16 345.90,336.31 346.20,335.91 346.50,336.95 346.80,337.34 347.10,336.34 347.40,337.34 347.70,336.96 348.00,337.26 348.30,338.71 348.60,338.18 348.90,337.25 349.20,337.28 349.50,336.98 349.80,338.04 350.10,339.12 350.40,338.10 350.70,337.67 351.00,338.42 351.30,339.74 351.60,338.84 351.90,337.82 352.20,337.62 352.50,338.32 352.80,339.36 353.10,340.23 353.40,340.13 353.70,338.77 354.00,338.49 354.30,339.19 354.60,338.73 354.90,338.69 355.20,339.67 355.50,339.00 355.80,338.37 356.10,339.13 356.40,340.49 356.70,339.62 357.00,338.80 357.30,339.79 357.60,339.00 357.90,337.74 358.20,337.14 358.50,336.81 358.80,336.87 359.10,335.94 359.40,334.35 359.70,331.79 360.00,329.30 360.30,324.95 360.60,319.08 360.90,310.81 361.20,300.20 361.50,289.00 361.80,277.82 362.10,267.49 362.40,260.37 362.70,258.29 363.00,261.00 363.30,267.53 363.60,277.55 363.90,289.32 364.20,301.06 364.50,311.17 364.80,319.55 365.10,326.25 365.40,330.35 365.70,333.57 366.00,336.03 366.30,336.76 366.60,337.87 366.90,338.50 367.20,338.24 367.50,338.78 367.80,339.47 368.10,339.92 368.40,339.93 368.70,340.30 369.00,340.59 369.30,340.75 369.60,341.47 369.90,341.32 370.20,340.16 370.50,340.12 370.80,340.60 371.10,340.84 371.40,341.22 371.70,341.01 372.00,340.81 372.30,341.13 372.60,341.45 372.90,340.98 373.20,341.34 373.50,342.06 373.80,341.90 374.10,342.04 374.40,341.87 374.70,341.86 375.00,342.43 375.30,342.77 375.60,342.70 375.90,342.44 376.20,342.20 376.50,342.65 376.80,343.04 377.10,342.68 377.40,342.09 377.70,342.04 378.00,342.16 378.30,342.74 378.60,343.31 378.90,342.88 379.20,342.83 379.50,343.69 379.80,344.09 380.10,343.17 380.40,342.88 380.70,342.94 381.00,342.58 381.30,342.94 381.60,343.97 381.90,344.33 382.20,343.77 382.50,343.31 382.80,343.37 383.10,343.73 383.40,343.34 383.70,342.64 384.00,343.48 384.30,344.02 384.60,343.97 384.90,343.98 385.20,343.96 385.50,343.77 385.80,343.54 386.10,344.09 386.40,344.23 386.70,343.75 387.00,343.73 387.30,343.69 387.60,343.13 387.90,343.44 388.20,344.15 388.50,344.24 388.80,343.60 389.10,343.61 389.40,344.10 389.70,343.79 390.00,343.01 390.30,343.39 390.60,344.23 390.90,344.11 391.20,343.47 391.50,342.98 391.80,343.67 392.10,344.24 392.40,344.12 392.70,343.86 393.00,343.84 393.30,343.76 393.60,343.59 393.90,343.50 394.20,343.64 394.50,343.75 394.80,343.92 395.10,344.21 395.40,343.77 395.70,344.04 396.00,343.96 396.30,343.60 396.60,344.13 396.90,344.29 397.20,343.40 397.50,343.18 397.80,343.75 398.10,343.34 398.40,341.58 398.70,339.69 399.00,338.40 399.30,336.43 399.60,334.99 399.90,333.85 400.20,333.72 400.50,334.69 400.80,334.77 401.10,334.27 401.40,332.67 401.70,328.98 402.00,323.71 402.30,317.76 402.60,313.66 402.90,312.72 403.20,314.89 403.50,320.86 403.80,327.88 404.10,332.81 404.40,335.42 404.70,336.75 405.00,337.47 405.30,336.99 405.60,336.33 405.90,336.83 406.20,338.80 406.50,340.58 406.80,341.76 407.10,343.29 407.40,344.26 407.70,344.27 408.00,344.57 408.30,345.22 408.60,345.24 408.90,345.39 409.20,345.21 409.50,345.02 409.80,345.09 410.10,345.36 410.40,345.39 410.70,345.35 411.00,345.28 411.30,345.20 411.60,345.43 411.90,345.47 412.20,345.63 412.50,345.65 412.80,345.60 413.10,345.16 413.40,345.52 413.70,345.91 414.00,345.61 414.30,345.59 414.60,345.93 414.90,345.94 415.20,345.84 415.50,346.39 415.80,346.70 416.10,346.73 416.40,346.50 416.70,345.93 417.00,346.12 417.30,346.75 417.60,346.66 417.90,346.59 418.20,346.42 418.50,346.12 418.80,346.39 419.10,346.86 419.40,346.35 419.70,346.27 420.00,346.61 420.30,346.61 420.60,346.62 420.90,346.68 421.20,346.87 421.50,346.82 421.80,346.22 422.10,346.20 422.40,346.55 422.70,346.07 423.00,346.23 423.30,346.16 423.60,346.21 423.90,346.97 424.20,346.61 424.50,346.42 424.80,346.65 425.10,346.58 425.40,346.12 425.70,346.11 426.00,346.47 426.30,346.49 426.60,346.45 426.90,346.53 427.20,346.58 427.50,346.47 427.80,346.72 428.10,346.58 428.40,346.47 428.70,346.46 429.00,346.32 429.30,346.11 429.60,346.14 429.90,346.54 430.20,346.29 430.50,346.13 430.80,346.20 431.10,345.67 431.40,345.58 431.70,346.09 432.00,345.77 432.30,344.87 432.60,344.88 432.90,344.94 433.20,345.04 433.50,344.67 433.80,343.24 434.10,341.26 434.40,337.98 434.70,332.56 435.00,324.68 435.30,316.00 435.60,308.16 435.90,304.18 436.20,305.00 436.50,310.42 436.80,319.00 437.10,327.27 437.40,334.77 437.70,339.28 438.00,341.99 438.30,343.65 438.60,344.09 438.90,345.42 439.20,345.15 439.50,344.45 439.80,345.45 440.10,345.95 440.40,345.60 440.70,345.63 441.00,345.60 441.30,345.70 441.60,346.35 441.90,346.27 442.20,345.98 442.50,346.40 442.80,346.88 443.10,346.46 443.40,346.07 443.70,346.10 444.00,345.88 444.30,345.93 444.60,345.95 444.90,345.63 445.20,345.31 445.50,345.56 445.80,346.09 446.10,346.57 446.40,346.41 446.70,346.07 447.00,346.36 447.30,346.58 447.60,346.39 447.90,346.19 448.20,346.67 448.50,346.59 448.80,346.00 449.10,345.67 449.40,345.88 449.70,346.19 450.00,346.53 450.30,346.48 450.60,346.17 450.90,346.44 451.20,346.60 451.50,345.98 451.80,345.89 452.10,346.11 452.40,345.58 452.70,345.33 453.00,344.98 453.30,344.46 453.60,342.93 453.90,341.07 454.20,338.13 454.50,332.81 454.80,327.38 455.10,324.21 455.40,323.59 455.70,325.72 456.00,330.90 456.30,335.59 456.60,338.28 456.90,339.15 457.20,337.52 457.50,334.11 457.80,329.30 458.10,324.17 458.40,321.34 458.70,322.22 459.00,325.91 459.30,331.22 459.60,336.30 459.90,340.06 460.20,342.73 460.50,344.03 460.80,344.83 461.10,345.41 461.40,345.30 461.70,345.35 462.00,345.57 462.30,345.77 462.60,345.99 462.90,346.05 463.20,345.86 463.50,346.30 463.80,346.78 464.10,346.49 464.40,346.53 464.70,346.61 465.00,346.34 465.30,346.30 465.60,347.02 465.90,347.26 466.20,346.88 466.50,346.56 466.80,346.46 467.10,347.12 467.40,347.08 467.70,346.80 468.00,347.01 468.30,346.92 468.60,347.00 468.90,346.90 469.20,346.65 469.50,346.44 469.80,346.97 470.10,347.20 470.40,346.59 470.70,346.85 471.00,346.71 471.30,346.37 471.60,346.30 471.90,346.31 472.20,346.40 472.50,346.53 472.80,346.59 473.10,346.31 473.40,346.27 473.70,346.38 474.00,346.32 474.30,346.58 474.60,346.86 474.90,346.66 475.20,346.20 475.50,346.28 475.80,346.25 476.10,346.15 476.40,346.46 476.70,346.25 477.00,346.02 477.30,345.97 477.60,346.64 477.90,346.71 478.20,346.13 478.50,346.38 478.80,346.47 479.10,346.43 479.40,345.93 479.70,345.26 480.00,346.12 480.30,345.98 480.60,344.45 480.90,343.48 481.20,342.28 481.50,339.91 481.80,337.25 482.10,334.85 482.40,332.49 482.70,330.79 483.00,329.87 483.30,330.26 483.60,331.55 483.90,334.47 484.20,337.39 484.50,339.55 484.80,342.36 485.10,343.87 485.40,344.66 485.70,345.37 486.00,345.79 486.30,346.09 486.60,345.96 486.90,346.38 487.20,346.52 487.50,345.94 487.80,345.97 488.10,346.47 488.40,346.32 488.70,346.41 489.00,346.90 489.30,347.24 489.60,346.93 489.90,346.60 490.20,346.37 490.50,346.13 490.80,346.57 491.10,346.79 491.40,346.76 491.70,346.65 492.00,346.53 492.30,346.46 492.60,346.69 492.90,346.94 493.20,347.02 493.50,347.14 493.80,347.27 494.10,346.61 494.40,346.20 494.70,346.60 495.00,346.58 495.30,346.87 495.60,347.21 495.90,346.93 496.20,346.78 496.50,347.11 496.80,347.00 497.10,346.62 497.40,346.92 497.70,347.10 498.00,347.22 498.30,347.18 498.60,347.01 498.90,346.77 499.20,346.35 499.50,346.45 499.80,346.00 500.10,346.04 500.40,346.81 500.70,346.54 501.00,345.91 501.30,345.56 501.60,344.70 501.90,343.48 502.20,342.69 502.50,341.48 502.80,340.56 503.10,340.62 503.40,341.27 503.70,342.43 504.00,343.66 504.30,344.92 504.60,345.24 504.90,345.28 505.20,345.85 505.50,345.42 505.80,344.61 506.10,343.70 506.40,342.69 506.70,341.97 507.00,341.49 507.30,341.31 507.60,341.36 507.90,342.35 508.20,343.86 508.50,345.23 508.80,345.41 509.10,345.71 509.40,346.10 509.70,346.37 510.00,347.01 510.30,347.02 510.60,347.16 510.90,347.17 511.20,346.83 511.50,346.84 511.80,347.30 512.10,347.20 512.40,346.93 512.70,346.68 513.00,346.95 513.30,347.13 513.60,346.68 513.90,346.69 514.20,346.66 514.50,346.71 514.80,347.22 515.10,347.46 515.40,347.49 515.70,347.65 516.00,347.09 516.30,346.83 516.60,347.39 516.90,347.80 517.20,347.08 517.50,346.17 517.80,346.58 518.10,346.79 518.40,346.38 518.70,346.45 519.00,346.36 519.30,345.51 519.60,345.37 519.90,345.48 520.20,344.98 520.50,344.29 520.80,343.06 521.10,341.44 521.40,339.74 521.70,337.88 522.00,336.54 522.30,336.07 522.60,335.69 522.90,335.86 523.20,336.16 523.50,336.24 523.80,337.82 524.10,340.03 524.40,341.10 524.70,341.90 525.00,343.45 525.30,345.00 525.60,345.45 525.90,345.75 526.20,346.22 526.50,346.29 526.80,346.35 527.10,346.79 527.40,347.12 527.70,347.00 528.00,346.53 528.30,347.16 528.60,347.60 528.90,347.20 529.20,347.19 529.50,347.35 529.80,347.29 530.10,347.26 530.40,347.60 530.70,347.83 531.00,347.64 531.30,347.29 531.60,347.52 531.90,348.20 532.20,347.93 532.50,347.52 532.80,347.74 533.10,347.77 533.40,348.10 533.70,348.08 534.00,348.01 534.30,348.06 534.60,347.88 534.90,347.78 535.20,347.55 535.50,347.53 535.80,347.76 536.10,347.81 536.40,348.18 536.70,348.35 537.00,348.30 537.30,348.48 537.60,347.81" fill="none" stroke="#111" stroke-width="2.0" stroke-linejoin="round" />
<rect x="313.3" y="204.6" width="224.90000000000003" height="164.00000000000003" fill="none" stroke="#222" stroke-width="1.4"/>
<line x1="345.43" y1="368.6" x2="345.43" y2="364.3" stroke="#222" stroke-width="1.2"/>
<line x1="377.56" y1="368.6" x2="377.56" y2="364.3" stroke="#222" stroke-width="1.2"/>
<line x1="409.69" y1="368.6" x2="409.69" y2="364.3" stroke="#222" stroke-width="1.2"/>
<line x1="441.81" y1="368.6" x2="441.81" y2="364.3" stroke="#222" stroke-width="1.2"/>
<line x1="473.94" y1="368.6" x2="473.94" y2="364.3" stroke="#222" stroke-width="1.2"/>
<line x1="506.07" y1="368.6" x2="506.07" y2="364.3" stroke="#222" stroke-width="1.2"/>
<text x="313.30" y="380.20" font-family='"Liberation Serif", serif' font-size="9.2" font-weight="bold" text-anchor="middle" fill="#111" >10</text>
<text x="345.43" y="380.20" font-family='"Liberation Serif", serif' font-size="9.2" font-weight="bold" text-anchor="middle" fill="#111" >20</text>
<text x="377.56" y="380.20" font-family='"Liberation Serif", serif' font-size="9.2" font-weight="bold" text-anchor="middle" fill="#111" >30</text>
<text x="409.69" y="380.20" font-family='"Liberation Serif", serif' font-size="9.2" font-weight="bold" text-anchor="middle" fill="#111" >40</text>
<text x="441.81" y="380.20" font-family='"Liberation Serif", serif' font-size="9.2" font-weight="bold" text-anchor="middle" fill="#111" >50</text>
<text x="473.94" y="380.20" font-family='"Liberation Serif", serif' font-size="9.2" font-weight="bold" text-anchor="middle" fill="#111" >60</text>
<text x="506.07" y="380.20" font-family='"Liberation Serif", serif' font-size="9.2" font-weight="bold" text-anchor="middle" fill="#111" >70</text>
<text x="538.20" y="380.20" font-family='"Liberation Serif", serif' font-size="9.2" font-weight="bold" text-anchor="middle" fill="#111" >80</text>
<text x="425.50" y="400.50" font-family='"Liberation Serif", serif' font-size="17.2" font-weight="bold" text-anchor="middle" fill="#111" >2 Theta (degree)</text>
<text x="0.00" y="0.00" font-family='"Liberation Serif", serif' font-size="17.1" font-weight="bold" text-anchor="middle" fill="#111" transform="translate(285.8,295.4) rotate(-90) scale(1,0.93)">Intensity (a.u.)</text>
<text x="329.00" y="237.00" font-family='"Liberation Serif", serif' font-size="11.5" font-weight="bold" text-anchor="start" fill="#111" >Anatase TiO<tspan font-size="7.5" dy="2">2</tspan><tspan dy="-2">@Ti mesh</tspan></text>
<text x="362.10" y="259.00" font-family='"Liberation Serif", serif' font-size="8.2" font-weight="bold" text-anchor="middle" fill="#111" >(101)</text>
<text x="402.60" y="308.30" font-family='"Liberation Serif", serif' font-size="8.2" font-weight="bold" text-anchor="middle" fill="#111" >(004)</text>
<text x="390.20" y="334.30" font-family='"Liberation Serif", serif' font-size="8.2" font-weight="bold" text-anchor="middle" fill="#111" >(103)</text>
<text x="415.40" y="333.30" font-family='"Liberation Serif", serif' font-size="8.2" font-weight="bold" text-anchor="middle" fill="#111" >(112)</text>
<text x="433.40" y="301.10" font-family='"Liberation Serif", serif' font-size="8.2" font-weight="bold" text-anchor="middle" fill="#111" >(200)</text>
<text x="446.90" y="319.70" font-family='"Liberation Serif", serif' font-size="8.2" font-weight="bold" text-anchor="middle" fill="#111" >(105)</text>
<text x="467.30" y="318.90" font-family='"Liberation Serif", serif' font-size="8.2" font-weight="bold" text-anchor="middle" fill="#111" >(211)</text>
<text x="483.00" y="329.90" font-family='"Liberation Serif", serif' font-size="8.2" font-weight="bold" text-anchor="middle" fill="#111" >(204)</text>
<text x="495.80" y="339.30" font-family='"Liberation Serif", serif' font-size="8.2" font-weight="bold" text-anchor="middle" fill="#111" >(116)</text>
<text x="513.10" y="337.50" font-family='"Liberation Serif", serif' font-size="8.2" font-weight="bold" text-anchor="middle" fill="#111" >(220)</text>
<text x="529.60" y="331.70" font-family='"Liberation Serif", serif' font-size="8.2" font-weight="bold" text-anchor="middle" fill="#111" >(215)</text>
<defs>
<linearGradient id="ruler" x1="0" x2="1" y1="0" y2="0"><stop offset="0" stop-color="#454a52"/><stop offset="0.3" stop-color="#555a62"/><stop offset="0.55" stop-color="#6e7276"/><stop offset="0.75" stop-color="#98999c"/><stop offset="1" stop-color="#bfbfbf"/></linearGradient>
<linearGradient id="ruler2" x1="0" x2="1" y1="0" y2="0"><stop offset="0" stop-color="#8a8c90"/><stop offset="1" stop-color="#cfcfcf"/></linearGradient>
<linearGradient id="bgD" x1="0" x2="1" y1="0" y2="0"><stop offset="0" stop-color="#c4c4c4"/><stop offset="1" stop-color="#d6d6d6"/></linearGradient>
<pattern id="holes" x="455.5" y="214.5" width="9.2" height="13" patternUnits="userSpaceOnUse">
<ellipse cx="2.5" cy="3.4" rx="2.2" ry="3.7" fill="#8a8a8a"/><ellipse cx="7.1" cy="9.9" rx="2.2" ry="3.7" fill="#8a8a8a"/><ellipse cx="2.3" cy="3.2" rx="1.55" ry="3.0" fill="#2e2e2e"/><ellipse cx="6.9" cy="9.7" rx="1.55" ry="3.0" fill="#2e2e2e"/></pattern>
</defs>
<rect x="449.8" y="207.4" width="86.19999999999999" height="84.1" fill="url(#bgD)"/>
<polygon points="455,214.5 497,214.5 505,253.8 455,253.8" fill="#d6d6d6"/>
<polygon points="455,214.5 497,214.5 505,253.8 455,253.8" fill="url(#holes)"/>
<rect x="474.5" y="210.6" width="60.5" height="7.4" fill="#e2e2e2" opacity="0.92"/>
<rect x="481" y="232.6" width="54" height="7.2" fill="#e4e4e4" opacity="0.92"/>
<rect x="449.8" y="253.8" width="86.19999999999999" height="37.69999999999999" fill="url(#ruler)"/>
<rect x="449.8" y="253.8" width="86.19999999999999" height="4" fill="url(#ruler2)"/>
<line x1="499.0" y1="254.5" x2="499.0" y2="259.0" stroke="#d4d4d4" stroke-width="0.6"/>
<line x1="501.1" y1="254.5" x2="501.1" y2="259.0" stroke="#d4d4d4" stroke-width="0.6"/>
<line x1="503.2" y1="254.5" x2="503.2" y2="263.5" stroke="#d4d4d4" stroke-width="0.6"/>
<line x1="505.3" y1="254.5" x2="505.3" y2="259.0" stroke="#d4d4d4" stroke-width="0.6"/>
<line x1="507.4" y1="254.5" x2="507.4" y2="259.0" stroke="#d4d4d4" stroke-width="0.6"/>
<line x1="509.5" y1="254.5" x2="509.5" y2="259.0" stroke="#d4d4d4" stroke-width="0.6"/>
<line x1="511.6" y1="254.5" x2="511.6" y2="259.0" stroke="#d4d4d4" stroke-width="0.6"/>
<line x1="513.7" y1="254.5" x2="513.7" y2="263.5" stroke="#d4d4d4" stroke-width="0.6"/>
<line x1="515.8" y1="254.5" x2="515.8" y2="259.0" stroke="#d4d4d4" stroke-width="0.6"/>
<line x1="517.9" y1="254.5" x2="517.9" y2="259.0" stroke="#d4d4d4" stroke-width="0.6"/>
<line x1="520.0" y1="254.5" x2="520.0" y2="259.0" stroke="#d4d4d4" stroke-width="0.6"/>
<line x1="522.1" y1="254.5" x2="522.1" y2="259.0" stroke="#d4d4d4" stroke-width="0.6"/>
<line x1="524.2" y1="254.5" x2="524.2" y2="263.5" stroke="#d4d4d4" stroke-width="0.6"/>
<line x1="526.3" y1="254.5" x2="526.3" y2="259.0" stroke="#d4d4d4" stroke-width="0.6"/>
<line x1="528.4" y1="254.5" x2="528.4" y2="259.0" stroke="#d4d4d4" stroke-width="0.6"/>
<line x1="530.5" y1="254.5" x2="530.5" y2="259.0" stroke="#d4d4d4" stroke-width="0.6"/>
<text x="478.20" y="288.20" font-family='"Liberation Sans", sans-serif' font-size="11" font-weight="bold" text-anchor="middle" fill="#161616" >1</text>
<text x="500.30" y="288.20" font-family='"Liberation Sans", sans-serif' font-size="11" font-weight="bold" text-anchor="middle" fill="#161616" >2</text>
<text x="522.70" y="288.20" font-family='"Liberation Sans", sans-serif' font-size="11" font-weight="bold" text-anchor="middle" fill="#161616" >3</text>
<text x="476.00" y="216.60" font-family='"Liberation Serif", serif' font-size="7" font-weight="bold" text-anchor="start" fill="#111" >White anatase TiO<tspan font-size="5" dy="1.5">2</tspan></text>
<text x="482.50" y="239.10" font-family='"Liberation Serif", serif' font-size="6.4" font-weight="bold" text-anchor="start" fill="#111" >Untreated Ti mesh</text>
<g stroke="#ff1a1a" stroke-width="1.3" fill="#ff1a1a">
<line x1="489" y1="224.8" x2="496" y2="222.3"/><line x1="498.5" y1="221.5" x2="504.5" y2="219.6"/><polygon points="509,218 503.2,217.2 505,221.8"/>
<line x1="490" y1="250.7" x2="497.5" y2="245"/><polygon points="501,242 495.5,243.3 498.7,247.2"/>
</g>
<circle cx="479.8" cy="247.8" r="7" fill="none" stroke="#ff2020" stroke-width="0.8" stroke-dasharray="1.5,1" opacity="0.8"/>
<rect x="449.8" y="207.4" width="86.19999999999999" height="84.1" fill="none" stroke="#ff1a1a" stroke-width="2" stroke-dasharray="3.5,2"/>
</svg></body></html>
